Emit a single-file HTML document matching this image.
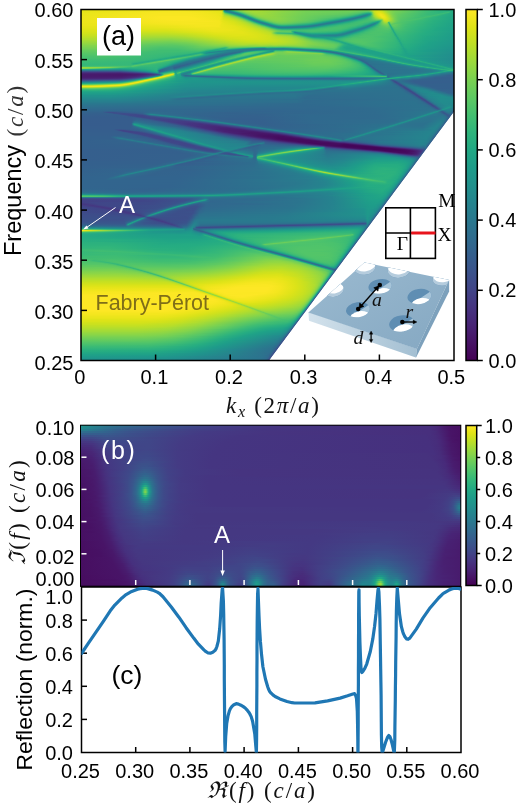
<!DOCTYPE html>
<html><head><meta charset="utf-8"><title>figure</title>
<style>
html,body{margin:0;padding:0;background:#fff}
#fig{position:relative;width:520px;height:810px;overflow:hidden;background:#fff}
#ha{position:absolute;left:81px;top:10px;width:373px;height:351px;clip-path:polygon(0 0,373px 0,373px 101.5px,187.5px 351px,0 351px);background:#2d708e}
#hb{position:absolute;left:80px;top:425px;width:381px;height:162px;background:#3b1c6e}
.r{height:2px}
#ha .r{height:1px}
svg{position:absolute;left:0;top:0}
svg{font-family:"Liberation Sans",sans-serif}
.tk{font-size:20px;fill:#000}
.ar{font-family:"Liberation Sans",sans-serif}
.hs{font-family:"Liberation Sans","DejaVu Sans",sans-serif}
.mi{font-family:"Liberation Serif","DejaVu Serif",serif;font-style:italic}
.mr{font-style:normal}
.sr{font-family:"Liberation Serif","DejaVu Serif",serif}
</style></head><body>
<div id="fig">
<div id="ha">
<div class="r" style="background:linear-gradient(90deg,#e5e419 0.5px,#e7e419 28.5px,#f4e61e 77.5px,#f4e61e 103.5px,#efe51c 120.5px,#e2e418 140.5px,#d2e21b 141.5px,#70cf57 142.5px,#20a486 143.5px,#25848e 144.5px,#25848e 145.5px,#1f968b 147.5px,#1fa088 148.5px,#2db27d 150.5px,#63cb5f 154.5px,#8ed645 159.5px,#a0da39 163.5px,#a8db34 167.5px,#a8db34 176.5px,#8bd646 201.5px,#77d153 224.5px,#70cf57 243.5px,#73d056 273.5px,#6ccd5a 284.5px,#6ece58 286.5px,#7ad151 288.5px,#b0dd2f 291.5px,#c5e021 293.5px,#d0e11c 297.5px,#c2df23 300.5px,#93d741 306.5px,#77d153 313.5px,#40bd72 344.5px,#32b67a 354.5px,#22a884 372.5px)"></div>
<div class="r" style="background:linear-gradient(90deg,#e7e419 0.5px,#f6e620 96.5px,#f1e51d 119.5px,#e5e419 139.5px,#e2e418 140.5px,#bade28 141.5px,#5ec962 142.5px,#1fa287 143.5px,#26828e 145.5px,#277f8e 148.5px,#25848e 149.5px,#1fa187 152.5px,#25ac82 153.5px,#5ac864 157.5px,#73d056 159.5px,#8bd646 162.5px,#9bd93c 165.5px,#a5db36 171.5px,#a2da37 180.5px,#77d153 220.5px,#6ece58 240.5px,#6ece58 270.5px,#58c765 287.5px,#5ec962 288.5px,#6ccd5a 289.5px,#b8de29 292.5px,#c8e020 293.5px,#d8e219 296.5px,#d8e219 298.5px,#d0e11c 300.5px,#90d743 307.5px,#77d153 312.5px,#3dbc74 345.5px,#2db27d 359.5px,#2fb47c 368.5px,#25ab82 370.5px,#22a884 372.5px)"></div>
<div class="r" style="background:linear-gradient(90deg,#e7e419 0.5px,#f6e620 70.5px,#f6e620 108.5px,#efe51c 127.5px,#e5e419 140.5px,#cae11f 141.5px,#8ed645 142.5px,#4ac16d 143.5px,#2ab07f 144.5px,#1f9e89 146.5px,#238a8d 148.5px,#277e8e 150.5px,#27808e 152.5px,#1e9b8a 155.5px,#2ab07f 157.5px,#58c765 160.5px,#70cf57 162.5px,#8bd646 165.5px,#a0da39 171.5px,#a2da37 175.5px,#73d056 224.5px,#67cc5c 269.5px,#58c765 278.5px,#37b878 287.5px,#40bd72 289.5px,#5ac864 290.5px,#a8db34 292.5px,#c5e021 293.5px,#d8e219 295.5px,#e2e418 298.5px,#d5e21a 301.5px,#b8de29 304.5px,#a0da39 306.5px,#86d549 309.5px,#70cf57 314.5px,#35b779 350.5px,#2eb37c 361.5px,#3aba76 366.5px,#38b977 367.5px,#28ae80 369.5px,#22a884 372.5px)"></div>
<div class="r" style="background:linear-gradient(90deg,#eae51a 0.5px,#f8e621 80.5px,#f6e620 114.5px,#eae51a 137.5px,#e2e418 140.5px,#c8e020 141.5px,#addc30 142.5px,#7fd34e 143.5px,#63cb5f 144.5px,#2ab07f 148.5px,#1e9c89 150.5px,#24878e 152.5px,#287d8e 154.5px,#26828e 156.5px,#20a386 159.5px,#29af7f 160.5px,#48c16e 162.5px,#67cc5c 164.5px,#7cd250 166.5px,#90d743 169.5px,#9dd93b 174.5px,#9bd93c 184.5px,#86d549 201.5px,#70cf57 225.5px,#63cb5f 265.5px,#52c569 275.5px,#46c06f 278.5px,#21a685 285.5px,#1f9f88 288.5px,#24aa83 289.5px,#40bd72 290.5px,#73d056 291.5px,#a2da37 292.5px,#cde11d 294.5px,#e5e419 297.5px,#eae51a 299.5px,#d8e219 302.5px,#cde11d 303.5px,#8bd646 309.5px,#7cd250 311.5px,#6ece58 314.5px,#5cc863 323.5px,#38b977 347.5px,#32b67a 357.5px,#3bbb75 362.5px,#29af7f 367.5px,#22a785 372.5px)"></div>
<div class="r" style="background:linear-gradient(90deg,#eae51a 0.5px,#f8e621 71.5px,#f8e621 109.5px,#efe51c 133.5px,#eae51a 139.5px,#e5e419 140.5px,#d2e21b 141.5px,#9bd93c 143.5px,#6ece58 147.5px,#52c569 149.5px,#27ad81 152.5px,#1fa287 153.5px,#25838e 156.5px,#287d8e 158.5px,#26828e 159.5px,#1f988b 161.5px,#21a585 162.5px,#3dbc74 164.5px,#69cd5b 167.5px,#7fd34e 169.5px,#90d743 172.5px,#9bd93c 177.5px,#9bd93c 181.5px,#70cf57 223.5px,#63cb5f 254.5px,#5ac864 265.5px,#4ec36b 271.5px,#3aba76 276.5px,#28ae80 279.5px,#1e9d89 282.5px,#218f8d 284.5px,#23888e 286.5px,#21918c 288.5px,#1fa188 289.5px,#37b878 290.5px,#67cc5c 291.5px,#95d840 292.5px,#b5de2b 293.5px,#c8e020 294.5px,#dde318 296.5px,#e5e419 297.5px,#efe51c 299.5px,#efe51c 300.5px,#e5e419 302.5px,#d0e11c 304.5px,#9bd93c 308.5px,#86d549 310.5px,#77d153 312.5px,#69cd5b 315.5px,#5ec962 320.5px,#38b977 346.5px,#35b779 352.5px,#3dbc74 357.5px,#2ab07f 363.5px,#22a785 372.5px)"></div>
<div class="r" style="background:linear-gradient(90deg,#eae51a 0.5px,#f8e621 66.5px,#f8e621 114.5px,#efe51c 135.5px,#e7e419 140.5px,#dae319 141.5px,#b2dd2d 143.5px,#95d840 147.5px,#69cd5b 151.5px,#2cb17e 155.5px,#1e9b8a 157.5px,#25838e 159.5px,#287d8e 161.5px,#25838e 162.5px,#1e9c89 164.5px,#24aa83 165.5px,#32b67a 166.5px,#63cb5f 169.5px,#86d549 173.5px,#95d840 178.5px,#93d741 190.5px,#70cf57 221.5px,#56c667 261.5px,#4ac16d 267.5px,#3bbb75 271.5px,#28ae80 275.5px,#1e9d89 278.5px,#26818e 282.5px,#287d8e 284.5px,#23898e 286.5px,#1fa088 288.5px,#29af7f 289.5px,#4ac16d 290.5px,#67cc5c 291.5px,#8bd646 292.5px,#a8db34 293.5px,#bade28 294.5px,#d5e21a 296.5px,#dfe318 297.5px,#efe51c 299.5px,#f1e51d 300.5px,#e5e419 303.5px,#cde11d 305.5px,#81d34d 311.5px,#65cb5e 316.5px,#5ac864 321.5px,#3dbc74 341.5px,#3aba76 349.5px,#3fbc73 353.5px,#29af7f 361.5px,#22a785 372.5px)"></div>
<div class="r" style="background:linear-gradient(90deg,#ece51b 0.5px,#fbe723 82.5px,#fbe723 105.5px,#efe51c 137.5px,#e7e419 140.5px,#dae319 141.5px,#cae11f 142.5px,#c2df23 143.5px,#b0dd2f 147.5px,#9bd93c 150.5px,#7cd250 153.5px,#50c46a 156.5px,#2eb37c 158.5px,#22a785 159.5px,#1f9a8a 160.5px,#26828e 162.5px,#287c8e 163.5px,#277e8e 164.5px,#1fa287 167.5px,#29af7f 168.5px,#3aba76 169.5px,#67cc5c 172.5px,#81d34d 175.5px,#8ed645 178.5px,#93d741 181.5px,#93d741 188.5px,#70cf57 220.5px,#52c569 257.5px,#3bbb75 266.5px,#26ad81 271.5px,#1e9d89 274.5px,#29798e 280.5px,#25848e 283.5px,#1f968b 285.5px,#23a983 287.5px,#3aba76 289.5px,#86d549 292.5px,#9dd93b 293.5px,#addc30 294.5px,#d5e21a 297.5px,#efe51c 300.5px,#f1e51d 301.5px,#eae51a 303.5px,#d5e21a 305.5px,#90d743 310.5px,#7cd250 312.5px,#60ca60 317.5px,#3dbc74 341.5px,#42be71 348.5px,#35b779 352.5px,#2ab07f 358.5px,#21a685 372.5px)"></div>
<div class="r" style="background:linear-gradient(90deg,#ece51b 0.5px,#fbe723 80.5px,#fbe723 110.5px,#efe51c 139.5px,#dfe318 141.5px,#cde11d 143.5px,#c0df25 147.5px,#9dd93b 153.5px,#7fd34e 156.5px,#60ca60 158.5px,#3dbc74 160.5px,#20a386 162.5px,#23888e 164.5px,#287c8e 166.5px,#26828e 167.5px,#1e9b8a 169.5px,#22a884 170.5px,#50c46a 173.5px,#69cd5b 175.5px,#7ad151 177.5px,#84d44b 179.5px,#8ed645 183.5px,#90d743 186.5px,#8ed645 194.5px,#77d153 212.5px,#56c667 247.5px,#42be71 258.5px,#32b67a 263.5px,#20a486 268.5px,#20938c 271.5px,#29798e 276.5px,#27808e 279.5px,#1f9e89 283.5px,#25ac82 285.5px,#3dbc74 288.5px,#54c568 290.5px,#9bd93c 294.5px,#c2df23 297.5px,#d8e219 299.5px,#e5e419 300.5px,#ece51b 301.5px,#ece51b 302.5px,#e5e419 304.5px,#d0e11c 306.5px,#95d840 310.5px,#7fd34e 312.5px,#6ece58 314.5px,#5cc863 318.5px,#40bd72 337.5px,#44bf70 343.5px,#32b67a 350.5px,#2ab07f 356.5px,#21a685 372.5px)"></div>
<div class="r" style="background:linear-gradient(90deg,#ece51b 0.5px,#fbe723 81.5px,#fbe723 113.5px,#efe51c 139.5px,#d8e219 142.5px,#c5e021 149.5px,#a5db36 155.5px,#89d548 158.5px,#5cc863 161.5px,#25ac82 164.5px,#1f9e89 165.5px,#26828e 167.5px,#287c8e 168.5px,#277e8e 169.5px,#24868e 170.5px,#1fa188 172.5px,#27ad81 173.5px,#46c06f 175.5px,#60ca60 177.5px,#77d153 180.5px,#81d34d 182.5px,#89d548 185.5px,#8ed645 190.5px,#89d548 199.5px,#69cd5b 224.5px,#63cb5f 232.5px,#44bf70 251.5px,#2fb47c 258.5px,#20a386 263.5px,#1f948c 266.5px,#25838e 269.5px,#29798e 272.5px,#297b8e 274.5px,#1fa188 280.5px,#2fb47c 284.5px,#4cc26c 289.5px,#60ca60 291.5px,#86d549 294.5px,#c8e020 300.5px,#e2e418 302.5px,#e5e419 303.5px,#e2e418 304.5px,#c5e021 307.5px,#77d153 313.5px,#63cb5f 316.5px,#58c765 319.5px,#44bf70 333.5px,#46c06f 339.5px,#38b977 344.5px,#2fb47c 350.5px,#21a585 372.5px)"></div>
<div class="r" style="background:linear-gradient(90deg,#ece51b 0.5px,#fbe723 87.5px,#fbe723 114.5px,#f1e51d 138.5px,#dde318 142.5px,#d8e219 145.5px,#c5e021 152.5px,#b2dd2d 156.5px,#9bd93c 159.5px,#86d549 161.5px,#67cc5c 163.5px,#2db27d 166.5px,#21a585 167.5px,#1f968b 168.5px,#277f8e 170.5px,#287c8e 171.5px,#228b8d 173.5px,#21a585 175.5px,#38b977 177.5px,#54c568 179.5px,#67cc5c 181.5px,#73d056 183.5px,#84d44b 187.5px,#89d548 190.5px,#89d548 197.5px,#65cb5e 227.5px,#56c667 237.5px,#42be71 246.5px,#2db27d 253.5px,#1fa187 258.5px,#25838e 264.5px,#2a788e 268.5px,#26818e 271.5px,#1fa088 276.5px,#31b57b 281.5px,#50c46a 290.5px,#75d054 295.5px,#84d44b 299.5px,#8bd646 300.5px,#a2da37 301.5px,#cde11d 302.5px,#dae319 303.5px,#dae319 304.5px,#d0e11c 306.5px,#77d153 313.5px,#63cb5f 316.5px,#56c667 319.5px,#48c16e 328.5px,#48c16e 334.5px,#2fb47c 348.5px,#21a585 372.5px)"></div>
<div class="r" style="background:linear-gradient(90deg,#ece51b 0.5px,#fbe723 97.5px,#f4e61e 137.5px,#dfe318 143.5px,#d8e219 148.5px,#c8e020 154.5px,#b0dd2f 159.5px,#a0da39 161.5px,#7fd34e 164.5px,#5ec962 166.5px,#25ac82 169.5px,#1f9e89 170.5px,#25838e 172.5px,#287d8e 173.5px,#25838e 175.5px,#1e9b8a 177.5px,#21a685 178.5px,#37b878 180.5px,#69cd5b 185.5px,#7ad151 188.5px,#86d549 194.5px,#84d44b 200.5px,#63cb5f 225.5px,#44bf70 240.5px,#31b57b 246.5px,#1fa287 252.5px,#277e8e 260.5px,#2a788e 263.5px,#25848e 267.5px,#1e9b8a 271.5px,#2fb47c 277.5px,#3fbc73 282.5px,#50c46a 294.5px,#50c46a 295.5px,#42be71 298.5px,#48c16e 299.5px,#60ca60 300.5px,#b5de2b 302.5px,#cae11f 303.5px,#cde11d 305.5px,#c0df25 307.5px,#8bd646 311.5px,#77d153 313.5px,#5cc863 317.5px,#52c569 320.5px,#4ac16d 329.5px,#3bbb75 337.5px,#2ab07f 352.5px,#20a486 372.5px)"></div>
<div class="r" style="background:linear-gradient(90deg,#ece51b 0.5px,#f8e621 82.5px,#f8e621 127.5px,#f4e61e 138.5px,#e7e419 141.5px,#d5e21a 152.5px,#c2df23 158.5px,#b2dd2d 161.5px,#9bd93c 164.5px,#67cc5c 168.5px,#2eb37c 171.5px,#21a685 172.5px,#1f988b 173.5px,#26818e 175.5px,#287c8e 176.5px,#277e8e 177.5px,#25848e 178.5px,#20a386 181.5px,#26ad81 182.5px,#48c16e 185.5px,#6ccd5a 189.5px,#7ad151 192.5px,#81d34d 197.5px,#7ad151 205.5px,#5ac864 226.5px,#50c46a 231.5px,#3dbc74 237.5px,#1fa287 246.5px,#26828e 253.5px,#2a788e 257.5px,#287d8e 260.5px,#1f9f88 267.5px,#2fb47c 273.5px,#3bbb75 277.5px,#44bf70 282.5px,#44bf70 286.5px,#3dbc74 290.5px,#32b67a 293.5px,#21a685 296.5px,#20a486 297.5px,#26ad81 298.5px,#3fbc73 299.5px,#65cb5e 300.5px,#a2da37 302.5px,#b5de2b 303.5px,#bddf26 304.5px,#bddf26 305.5px,#bade28 306.5px,#9dd93b 307.5px,#8ed645 308.5px,#90d743 309.5px,#86d549 311.5px,#65cb5e 315.5px,#52c569 319.5px,#3bbb75 335.5px,#29af7f 352.5px,#20a486 372.5px)"></div>
<div class="r" style="background:linear-gradient(90deg,#ece51b 0.5px,#f8e621 95.5px,#f4e61e 138.5px,#e7e419 142.5px,#d8e219 153.5px,#c8e020 159.5px,#b5de2b 163.5px,#a0da39 166.5px,#7cd250 169.5px,#5ec962 171.5px,#28ae80 174.5px,#1fa187 175.5px,#27808e 178.5px,#287d8e 180.5px,#238a8d 182.5px,#1f9f88 184.5px,#2cb17e 186.5px,#44bf70 188.5px,#67cc5c 192.5px,#73d056 195.5px,#77d153 198.5px,#73d056 204.5px,#56c667 222.5px,#4cc26c 227.5px,#3bbb75 232.5px,#26ad81 238.5px,#1e9c89 242.5px,#25838e 247.5px,#2a788e 251.5px,#277f8e 255.5px,#1e9b8a 261.5px,#25ab82 265.5px,#3dbc74 274.5px,#44bf70 281.5px,#3aba76 287.5px,#31b57b 289.5px,#21a585 292.5px,#21918c 295.5px,#1f948c 296.5px,#20a386 297.5px,#31b57b 298.5px,#69cd5b 300.5px,#a0da39 303.5px,#a8db34 304.5px,#a8db34 305.5px,#8ed645 306.5px,#3fbc73 307.5px,#4cc26c 308.5px,#77d153 309.5px,#81d34d 310.5px,#58c765 316.5px,#4ec36b 320.5px,#2fb47c 344.5px,#25ac82 357.5px,#20a386 372.5px)"></div>
<div class="r" style="background:linear-gradient(90deg,#eae51a 0.5px,#f8e621 110.5px,#f4e61e 138.5px,#eae51a 141.5px,#dde318 152.5px,#cde11d 159.5px,#c0df25 163.5px,#aadc32 167.5px,#90d743 170.5px,#58c765 174.5px,#34b679 176.5px,#26ad81 177.5px,#1fa188 178.5px,#26828e 181.5px,#287c8e 183.5px,#24868e 185.5px,#1e9b8a 187.5px,#21a585 188.5px,#48c16e 192.5px,#58c765 194.5px,#65cb5e 197.5px,#69cd5b 200.5px,#5cc863 210.5px,#31b57b 229.5px,#1fa287 235.5px,#25858e 241.5px,#29798e 245.5px,#277f8e 249.5px,#1fa187 257.5px,#2eb37c 263.5px,#3dbc74 270.5px,#42be71 279.5px,#31b57b 286.5px,#1e9d89 290.5px,#25848e 293.5px,#24878e 294.5px,#1fa287 296.5px,#2db27d 297.5px,#56c667 299.5px,#75d054 301.5px,#8bd646 303.5px,#90d743 304.5px,#8ed645 305.5px,#7ad151 306.5px,#4ec36b 307.5px,#2db27d 308.5px,#5ec962 309.5px,#70cf57 310.5px,#5cc863 313.5px,#40bd72 328.5px,#29af7f 350.5px,#1fa287 372.5px)"></div>
<div class="r" style="background:linear-gradient(90deg,#eae51a 0.5px,#ece51b 48.5px,#f6e620 105.5px,#f4e61e 138.5px,#ece51b 140.5px,#dde318 154.5px,#cde11d 161.5px,#bddf26 166.5px,#addc30 169.5px,#95d840 172.5px,#73d056 175.5px,#44bf70 178.5px,#28ae80 180.5px,#1f9a8a 182.5px,#277f8e 185.5px,#277e8e 187.5px,#1fa188 191.5px,#3bbb75 195.5px,#48c16e 197.5px,#50c46a 200.5px,#4cc26c 205.5px,#25ac82 225.5px,#1e9d89 230.5px,#29798e 239.5px,#297b8e 242.5px,#1f958b 248.5px,#1fa187 251.5px,#2ab07f 256.5px,#3dbc74 264.5px,#42be71 275.5px,#38b977 281.5px,#26ad81 285.5px,#1fa088 287.5px,#25848e 290.5px,#27808e 291.5px,#26828e 292.5px,#1f9a8a 294.5px,#22a785 295.5px,#4cc26c 298.5px,#63cb5f 300.5px,#73d056 302.5px,#7fd34e 305.5px,#77d153 306.5px,#60ca60 307.5px,#2eb37c 308.5px,#3dbc74 309.5px,#5ec962 310.5px,#63cb5f 314.5px,#4ac16d 321.5px,#40bd72 326.5px,#28ae80 350.5px,#1fa287 372.5px)"></div>
<div class="r" style="background:linear-gradient(90deg,#eae51a 0.5px,#ece51b 73.5px,#f6e620 126.5px,#f4e61e 137.5px,#ece51b 140.5px,#e5e419 151.5px,#d0e11c 163.5px,#b0dd2f 171.5px,#93d741 175.5px,#73d056 178.5px,#2eb37c 183.5px,#23a983 184.5px,#1f9e89 185.5px,#27808e 188.5px,#287c8e 190.5px,#1f978b 194.5px,#24aa83 197.5px,#2cb17e 200.5px,#2cb17e 203.5px,#25ab82 210.5px,#1e9c89 219.5px,#21908d 225.5px,#297b8e 232.5px,#29798e 235.5px,#25858e 239.5px,#1e9d89 244.5px,#2ab07f 250.5px,#3dbc74 258.5px,#44bf70 268.5px,#3fbc73 274.5px,#2fb47c 280.5px,#1fa187 284.5px,#24878e 287.5px,#277e8e 289.5px,#26828e 290.5px,#20a386 293.5px,#3bbb75 296.5px,#5cc863 300.5px,#6ccd5a 303.5px,#70cf57 305.5px,#70cf57 306.5px,#65cb5e 307.5px,#28ae80 309.5px,#4cc26c 310.5px,#60ca60 311.5px,#65cb5e 312.5px,#48c16e 321.5px,#3bbb75 329.5px,#26ad81 352.5px,#1fa187 372.5px)"></div>
<div class="r" style="background:linear-gradient(90deg,#e7e419 0.5px,#e7e419 56.5px,#ece51b 94.5px,#f4e61e 116.5px,#f4e61e 137.5px,#ece51b 140.5px,#e5e419 153.5px,#dde318 159.5px,#c8e020 168.5px,#a8db34 175.5px,#89d548 179.5px,#5ec962 183.5px,#31b57b 186.5px,#1fa188 188.5px,#25838e 191.5px,#287c8e 193.5px,#218f8d 199.5px,#20928c 202.5px,#297a8e 224.5px,#297a8e 228.5px,#26828e 232.5px,#1e9d89 238.5px,#32b67a 247.5px,#44bf70 258.5px,#44bf70 266.5px,#3aba76 273.5px,#25ac82 279.5px,#1f9a8a 282.5px,#277e8e 286.5px,#25858e 288.5px,#20a386 291.5px,#3dbc74 295.5px,#50c46a 298.5px,#67cc5c 305.5px,#67cc5c 306.5px,#60ca60 307.5px,#50c46a 308.5px,#2cb17e 309.5px,#31b57b 310.5px,#52c569 311.5px,#5cc863 312.5px,#5ec962 313.5px,#40bd72 324.5px,#32b67a 336.5px,#25ac82 352.5px,#1fa187 372.5px)"></div>
<div class="r" style="background:linear-gradient(90deg,#e5e419 0.5px,#e5e419 70.5px,#f1e51d 117.5px,#f1e51d 138.5px,#ece51b 140.5px,#e5e419 155.5px,#d8e219 164.5px,#cde11d 168.5px,#c2df23 172.5px,#a8db34 178.5px,#84d44b 183.5px,#60ca60 186.5px,#29af7f 190.5px,#1e9d89 192.5px,#25858e 195.5px,#277e8e 197.5px,#287d8e 214.5px,#24868e 223.5px,#1fa287 233.5px,#31b57b 240.5px,#3fbc73 247.5px,#46c06f 254.5px,#46c06f 261.5px,#3fbc73 267.5px,#2cb17e 274.5px,#1fa088 278.5px,#25838e 282.5px,#277e8e 284.5px,#26828e 285.5px,#1e9d89 288.5px,#26ad81 290.5px,#3aba76 293.5px,#52c569 299.5px,#5ec962 306.5px,#54c568 308.5px,#25ab82 310.5px,#3dbc74 311.5px,#50c46a 312.5px,#56c667 314.5px,#40bd72 323.5px,#2fb47c 338.5px,#22a884 357.5px,#1fa188 372.5px)"></div>
<div class="r" style="background:linear-gradient(90deg,#e2e418 0.5px,#e2e418 84.5px,#f1e51d 131.5px,#e5e419 156.5px,#dde318 163.5px,#cde11d 171.5px,#b2dd2d 179.5px,#9dd93b 183.5px,#70cf57 188.5px,#32b67a 193.5px,#23a983 195.5px,#1e9d89 197.5px,#20938c 200.5px,#20938c 207.5px,#21a685 225.5px,#3dbc74 239.5px,#46c06f 247.5px,#46c06f 259.5px,#3dbc74 265.5px,#2db27d 270.5px,#1fa287 274.5px,#25838e 279.5px,#277e8e 281.5px,#24868e 283.5px,#1fa188 286.5px,#3aba76 291.5px,#48c16e 295.5px,#56c667 304.5px,#52c569 308.5px,#46c06f 309.5px,#2ab07f 310.5px,#29af7f 311.5px,#42be71 312.5px,#4ec36b 313.5px,#50c46a 315.5px,#3bbb75 325.5px,#2eb37c 338.5px,#22a884 356.5px,#1fa088 372.5px)"></div>
<div class="r" style="background:linear-gradient(90deg,#dfe318 0.5px,#dde318 83.5px,#efe51c 131.5px,#eae51a 150.5px,#dde318 165.5px,#cde11d 173.5px,#bade28 180.5px,#9dd93b 186.5px,#73d056 191.5px,#4ac16d 195.5px,#3bbb75 197.5px,#2eb37c 201.5px,#2db27d 215.5px,#48c16e 244.5px,#42be71 259.5px,#2fb47c 266.5px,#1fa088 271.5px,#26828e 276.5px,#277e8e 278.5px,#25858e 280.5px,#1f9e89 283.5px,#2ab07f 286.5px,#3aba76 289.5px,#4cc26c 296.5px,#52c569 306.5px,#48c16e 309.5px,#23a983 311.5px,#44bf70 313.5px,#4ac16d 314.5px,#4ac16d 316.5px,#3bbb75 324.5px,#2ab07f 341.5px,#22a884 355.5px,#1fa088 372.5px)"></div>
<div class="r" style="background:linear-gradient(90deg,#dde318 0.5px,#d8e219 85.5px,#ece51b 132.5px,#eae51a 150.5px,#dde318 167.5px,#cde11d 176.5px,#c0df25 181.5px,#b2dd2d 185.5px,#9dd93b 189.5px,#70cf57 194.5px,#5ec962 197.5px,#54c568 200.5px,#50c46a 209.5px,#42be71 211.5px,#3bbb75 214.5px,#46c06f 230.5px,#46c06f 245.5px,#40bd72 255.5px,#38b977 260.5px,#26ad81 265.5px,#20a386 267.5px,#25858e 272.5px,#277e8e 274.5px,#25858e 277.5px,#1e9c89 280.5px,#32b67a 285.5px,#42be71 289.5px,#4ec36b 297.5px,#4cc26c 308.5px,#3fbc73 310.5px,#2ab07f 311.5px,#25ab82 312.5px,#38b977 313.5px,#42be71 314.5px,#46c06f 316.5px,#2ab07f 340.5px,#22a884 354.5px,#1f9f88 372.5px)"></div>
<div class="r" style="background:linear-gradient(90deg,#dae319 0.5px,#d8e219 27.5px,#d2e21b 43.5px,#d2e21b 89.5px,#eae51a 134.5px,#e5e419 160.5px,#d2e21b 176.5px,#bade28 186.5px,#a5db36 190.5px,#77d153 194.5px,#69cd5b 196.5px,#60ca60 200.5px,#5ec962 209.5px,#2eb37c 211.5px,#22a884 213.5px,#31b57b 217.5px,#42be71 226.5px,#44bf70 231.5px,#37b878 255.5px,#2eb37c 259.5px,#1fa187 264.5px,#25838e 269.5px,#277e8e 271.5px,#26828e 273.5px,#1fa187 278.5px,#26ad81 280.5px,#3aba76 284.5px,#48c16e 290.5px,#4cc26c 294.5px,#4cc26c 305.5px,#46c06f 309.5px,#35b779 311.5px,#22a884 312.5px,#3bbb75 314.5px,#42be71 316.5px,#25ac82 346.5px,#1f9f88 372.5px)"></div>
<div class="r" style="background:linear-gradient(90deg,#d5e21a 0.5px,#d5e21a 18.5px,#cae11f 56.5px,#cae11f 85.5px,#dde318 118.5px,#e7e419 136.5px,#e5e419 161.5px,#d8e219 175.5px,#bddf26 188.5px,#b8de29 189.5px,#9bd93c 191.5px,#70cf57 193.5px,#52c569 195.5px,#4ac16d 197.5px,#50c46a 209.5px,#48c16e 210.5px,#35b779 211.5px,#25ab82 212.5px,#1f948c 213.5px,#24868e 214.5px,#1fa188 219.5px,#26ad81 222.5px,#31b57b 226.5px,#37b878 230.5px,#32b67a 243.5px,#25ac82 257.5px,#1f998a 262.5px,#26828e 266.5px,#277e8e 268.5px,#25838e 270.5px,#1e9d89 274.5px,#2fb47c 279.5px,#44bf70 285.5px,#4cc26c 292.5px,#48c16e 307.5px,#3aba76 311.5px,#2ab07f 312.5px,#22a884 313.5px,#32b67a 314.5px,#3bbb75 315.5px,#3fbc73 317.5px,#25ac82 345.5px,#1f9e89 372.5px)"></div>
<div class="r" style="background:linear-gradient(90deg,#d2e21b 0.5px,#d0e11c 21.5px,#c2df23 65.5px,#c2df23 83.5px,#cae11f 103.5px,#e2e418 134.5px,#e5e419 161.5px,#d8e219 177.5px,#c0df25 189.5px,#b5de2b 190.5px,#63cb5f 194.5px,#4ac16d 196.5px,#40bd72 200.5px,#32b67a 210.5px,#29af7f 212.5px,#1fa187 214.5px,#20928c 216.5px,#238a8d 219.5px,#1f968b 223.5px,#23a983 230.5px,#22a884 243.5px,#1f9f88 255.5px,#25848e 262.5px,#277f8e 265.5px,#25858e 267.5px,#20a486 272.5px,#2fb47c 276.5px,#3dbc74 280.5px,#4cc26c 289.5px,#4cc26c 299.5px,#40bd72 310.5px,#34b679 312.5px,#24aa83 313.5px,#27ad81 314.5px,#35b779 315.5px,#3aba76 316.5px,#3bbb75 319.5px,#26ad81 342.5px,#1e9d89 372.5px)"></div>
<div class="r" style="background:linear-gradient(90deg,#cde11d 0.5px,#c8e020 30.5px,#bade28 68.5px,#bade28 84.5px,#c2df23 102.5px,#dde318 133.5px,#e2e418 146.5px,#e2e418 166.5px,#d8e219 179.5px,#c5e021 189.5px,#c0df25 190.5px,#89d548 195.5px,#7fd34e 197.5px,#6ece58 204.5px,#58c765 210.5px,#2db27d 215.5px,#1fa088 218.5px,#1f948c 220.5px,#228c8d 223.5px,#1f968b 231.5px,#1f968b 236.5px,#228d8d 252.5px,#277f8e 261.5px,#26828e 263.5px,#1fa088 268.5px,#31b57b 273.5px,#48c16e 282.5px,#4cc26c 298.5px,#40bd72 310.5px,#38b977 312.5px,#21a685 314.5px,#2db27d 315.5px,#35b779 316.5px,#3aba76 318.5px,#26ad81 341.5px,#1e9d89 372.5px)"></div>
<div class="r" style="background:linear-gradient(90deg,#c8e020 0.5px,#c8e020 12.5px,#b2dd2d 66.5px,#b2dd2d 88.5px,#bade28 103.5px,#d8e219 134.5px,#e2e418 156.5px,#dfe318 170.5px,#d5e21a 183.5px,#cae11f 189.5px,#c2df23 191.5px,#a8db34 195.5px,#84d44b 210.5px,#4ac16d 217.5px,#24aa83 221.5px,#1e9c89 223.5px,#228c8d 226.5px,#23898e 228.5px,#228d8d 235.5px,#26828e 244.5px,#27808e 256.5px,#24878e 260.5px,#1fa187 265.5px,#32b67a 270.5px,#3fbc73 274.5px,#4cc26c 283.5px,#4cc26c 295.5px,#42be71 308.5px,#3aba76 312.5px,#25ac82 314.5px,#24aa83 315.5px,#2fb47c 316.5px,#35b779 317.5px,#37b878 320.5px,#25ac82 341.5px,#1e9c89 372.5px)"></div>
<div class="r" style="background:linear-gradient(90deg,#c2df23 0.5px,#c0df25 20.5px,#aadc32 64.5px,#a8db34 80.5px,#addc30 98.5px,#cde11d 129.5px,#dde318 150.5px,#dde318 174.5px,#cde11d 189.5px,#b2dd2d 197.5px,#a0da39 208.5px,#84d44b 214.5px,#54c568 220.5px,#25ac82 225.5px,#1f9f88 227.5px,#1f948c 229.5px,#228d8d 232.5px,#21908d 240.5px,#228c8d 254.5px,#1fa187 261.5px,#2fb47c 266.5px,#3dbc74 270.5px,#4cc26c 279.5px,#4ec36b 288.5px,#3fbc73 310.5px,#37b878 313.5px,#22a785 315.5px,#31b57b 317.5px,#35b779 318.5px,#35b779 320.5px,#22a884 346.5px,#1e9c89 372.5px)"></div>
<div class="r" style="background:linear-gradient(90deg,#bddf26 0.5px,#b8de29 24.5px,#a2da37 62.5px,#a0da39 90.5px,#a8db34 104.5px,#c5e021 129.5px,#d8e219 149.5px,#dde318 172.5px,#d0e11c 188.5px,#b8de29 198.5px,#b0dd2f 205.5px,#a5db36 210.5px,#8bd646 216.5px,#63cb5f 222.5px,#2fb47c 228.5px,#25ab82 230.5px,#1fa187 233.5px,#1f998a 242.5px,#1fa187 255.5px,#22a884 258.5px,#32b67a 263.5px,#4ac16d 272.5px,#4ec36b 289.5px,#3fbc73 309.5px,#37b878 313.5px,#32b67a 314.5px,#22a884 316.5px,#32b67a 318.5px,#34b679 321.5px,#22a884 345.5px,#1e9b8a 372.5px)"></div>
<div class="r" style="background:linear-gradient(90deg,#b5de2b 0.5px,#b0dd2f 27.5px,#95d840 73.5px,#95d840 90.5px,#a2da37 108.5px,#d0e11c 144.5px,#dae319 162.5px,#d8e219 178.5px,#d0e11c 188.5px,#c0df25 196.5px,#b2dd2d 207.5px,#a8db34 211.5px,#9bd93c 215.5px,#7fd34e 221.5px,#3bbb75 231.5px,#32b67a 234.5px,#27ad81 241.5px,#1fa188 246.5px,#1fa287 249.5px,#26ad81 254.5px,#46c06f 266.5px,#4ec36b 271.5px,#50c46a 285.5px,#48c16e 299.5px,#3aba76 312.5px,#35b779 314.5px,#23a983 316.5px,#25ab82 317.5px,#2eb37c 318.5px,#32b67a 321.5px,#22a884 344.5px,#1e9b8a 372.5px)"></div>
<div class="r" style="background:linear-gradient(90deg,#b0dd2f 0.5px,#b0dd2f 11.5px,#a8db34 29.5px,#90d743 62.5px,#8bd646 89.5px,#95d840 105.5px,#d0e11c 150.5px,#cde11d 151.5px,#d8e219 166.5px,#d5e21a 179.5px,#cde11d 190.5px,#b0dd2f 210.5px,#8bd646 221.5px,#4ec36b 233.5px,#3bbb75 242.5px,#20a486 250.5px,#22a785 253.5px,#32b67a 257.5px,#4ac16d 265.5px,#52c569 273.5px,#52c569 281.5px,#48c16e 299.5px,#3dbc74 309.5px,#35b779 314.5px,#31b57b 315.5px,#22a785 317.5px,#2eb37c 319.5px,#31b57b 321.5px,#22a884 343.5px,#1f9a8a 372.5px)"></div>
<div class="r" style="background:linear-gradient(90deg,#a8db34 0.5px,#a8db34 15.5px,#86d549 64.5px,#81d34d 89.5px,#8bd646 105.5px,#aadc32 129.5px,#c8e020 148.5px,#d2e21b 164.5px,#d0e11c 183.5px,#cae11f 192.5px,#addc30 212.5px,#9bd93c 219.5px,#65cb5e 232.5px,#48c16e 245.5px,#3dbc74 248.5px,#24aa83 253.5px,#21a685 255.5px,#26ad81 257.5px,#34b679 259.5px,#48c16e 264.5px,#50c46a 268.5px,#54c568 276.5px,#4cc26c 293.5px,#3aba76 311.5px,#32b67a 315.5px,#23a983 318.5px,#2eb37c 320.5px,#2eb37c 323.5px,#21a685 344.5px,#1f998a 372.5px)"></div>
<div class="r" style="background:linear-gradient(90deg,#a0da39 0.5px,#a0da39 18.5px,#7cd250 66.5px,#77d153 88.5px,#86d549 109.5px,#c5e021 154.5px,#cde11d 169.5px,#cde11d 180.5px,#c8e020 192.5px,#b8de29 206.5px,#a8db34 215.5px,#95d840 222.5px,#6ece58 233.5px,#4ec36b 249.5px,#3bbb75 253.5px,#28ae80 256.5px,#22a884 258.5px,#27ad81 260.5px,#3aba76 263.5px,#4ac16d 267.5px,#52c569 271.5px,#54c568 278.5px,#4ec36b 290.5px,#37b878 313.5px,#2fb47c 316.5px,#22a785 318.5px,#2cb17e 320.5px,#2db27d 323.5px,#20a486 346.5px,#1f998a 372.5px)"></div>
<div class="r" style="background:linear-gradient(90deg,#9bd93c 0.5px,#98d83e 20.5px,#77d153 60.5px,#6ece58 87.5px,#77d153 104.5px,#c0df25 156.5px,#bddf26 157.5px,#c5e021 166.5px,#c5e021 185.5px,#b8de29 204.5px,#a8db34 215.5px,#77d153 233.5px,#54c568 252.5px,#3bbb75 257.5px,#25ac82 260.5px,#22a884 261.5px,#25ac82 263.5px,#3dbc74 267.5px,#4ac16d 270.5px,#52c569 275.5px,#52c569 284.5px,#32b67a 315.5px,#2db27d 317.5px,#22a785 319.5px,#2cb17e 321.5px,#2cb17e 324.5px,#1fa287 348.5px,#1f988b 372.5px)"></div>
<div class="r" style="background:linear-gradient(90deg,#93d741 0.5px,#93d741 16.5px,#8ed645 26.5px,#69cd5b 70.5px,#67cc5c 93.5px,#75d054 110.5px,#9bd93c 135.5px,#a2da37 143.5px,#b0dd2f 150.5px,#bade28 163.5px,#bddf26 185.5px,#b8de29 189.5px,#b8de29 197.5px,#a8db34 213.5px,#7ad151 234.5px,#60ca60 251.5px,#4ec36b 257.5px,#26ad81 262.5px,#21a585 264.5px,#28ae80 267.5px,#3bbb75 270.5px,#48c16e 273.5px,#52c569 282.5px,#34b679 314.5px,#2eb37c 317.5px,#22a884 319.5px,#2ab07f 322.5px,#2ab07f 324.5px,#1fa287 347.5px,#1f988b 372.5px)"></div>
<div class="r" style="background:linear-gradient(90deg,#8bd646 0.5px,#8ed645 11.5px,#89d548 23.5px,#65cb5e 65.5px,#5ec962 90.5px,#69cd5b 107.5px,#8bd646 131.5px,#95d840 143.5px,#a2da37 148.5px,#b0dd2f 162.5px,#a8db34 174.5px,#b2dd2d 179.5px,#addc30 187.5px,#b0dd2f 194.5px,#9bd93c 218.5px,#84d44b 227.5px,#65cb5e 252.5px,#5ac864 256.5px,#46c06f 259.5px,#28ae80 263.5px,#20a486 267.5px,#24aa83 269.5px,#44bf70 276.5px,#4ec36b 281.5px,#4ec36b 287.5px,#32b67a 314.5px,#2cb17e 318.5px,#21a685 320.5px,#25ac82 321.5px,#29af7f 324.5px,#1fa287 345.5px,#1f978b 372.5px)"></div>
<div class="r" style="background:linear-gradient(90deg,#84d44b 0.5px,#84d44b 20.5px,#5cc863 68.5px,#58c765 94.5px,#67cc5c 112.5px,#73d056 119.5px,#84d44b 135.5px,#86d549 143.5px,#93d741 147.5px,#98d83e 152.5px,#9dd93b 163.5px,#95d840 168.5px,#95d840 172.5px,#a0da39 180.5px,#95d840 190.5px,#9dd93b 193.5px,#95d840 199.5px,#90d743 219.5px,#89d548 224.5px,#77d153 230.5px,#75d054 239.5px,#67cc5c 252.5px,#5ec962 255.5px,#52c569 257.5px,#2ab07f 262.5px,#22a884 266.5px,#20a386 270.5px,#23a983 272.5px,#31b57b 275.5px,#42be71 280.5px,#4ac16d 284.5px,#4ac16d 290.5px,#2fb47c 316.5px,#2cb17e 318.5px,#22a884 320.5px,#28ae80 323.5px,#26ad81 327.5px,#1fa287 344.5px,#1f968b 372.5px)"></div>
<div class="r" style="background:linear-gradient(90deg,#7fd34e 0.5px,#7fd34e 17.5px,#73d056 35.5px,#5ec962 56.5px,#52c569 78.5px,#54c568 98.5px,#60ca60 112.5px,#6ccd5a 120.5px,#77d153 136.5px,#75d054 140.5px,#6ccd5a 144.5px,#84d44b 149.5px,#84d44b 155.5px,#7cd250 164.5px,#7fd34e 173.5px,#7ad151 186.5px,#73d056 189.5px,#77d153 194.5px,#70cf57 199.5px,#70cf57 205.5px,#7cd250 217.5px,#7cd250 224.5px,#6ccd5a 234.5px,#6ccd5a 244.5px,#63cb5f 253.5px,#5ac864 255.5px,#29af7f 261.5px,#21a685 265.5px,#21a685 275.5px,#32b67a 279.5px,#40bd72 284.5px,#46c06f 288.5px,#46c06f 293.5px,#31b57b 314.5px,#29af7f 319.5px,#21a585 321.5px,#26ad81 323.5px,#26ad81 326.5px,#1fa287 342.5px,#1f958b 372.5px)"></div>
<div class="r" style="background:linear-gradient(90deg,#77d153 0.5px,#7ad151 12.5px,#73d056 27.5px,#5cc863 52.5px,#4cc26c 79.5px,#50c46a 101.5px,#63cb5f 118.5px,#67cc5c 132.5px,#65cb5e 135.5px,#5ac864 139.5px,#40bd72 143.5px,#3fbc73 144.5px,#44bf70 145.5px,#63cb5f 147.5px,#6ccd5a 148.5px,#6ccd5a 149.5px,#52c569 164.5px,#35b779 175.5px,#2cb17e 181.5px,#2cb17e 183.5px,#3fbc73 186.5px,#35b779 191.5px,#38b977 194.5px,#32b67a 202.5px,#3dbc74 209.5px,#5ec962 223.5px,#63cb5f 251.5px,#5ec962 253.5px,#52c569 255.5px,#2eb37c 259.5px,#21a685 263.5px,#1fa287 277.5px,#25ac82 280.5px,#37b878 284.5px,#40bd72 290.5px,#40bd72 297.5px,#31b57b 313.5px,#29af7f 319.5px,#21a685 322.5px,#25ab82 323.5px,#25ac82 326.5px,#1fa287 341.5px,#1f948c 372.5px)"></div>
<div class="r" style="background:linear-gradient(90deg,#73d056 0.5px,#73d056 16.5px,#6ccd5a 29.5px,#58c765 51.5px,#48c16e 77.5px,#48c16e 95.5px,#5cc863 120.5px,#58c765 129.5px,#54c568 132.5px,#3dbc74 137.5px,#2fb47c 139.5px,#28ae80 141.5px,#2cb17e 143.5px,#44bf70 146.5px,#48c16e 148.5px,#26ad81 158.5px,#1fa287 162.5px,#23888e 170.5px,#29798e 181.5px,#29798e 183.5px,#228d8d 186.5px,#25838e 202.5px,#1fa287 217.5px,#2eb37c 225.5px,#3dbc74 234.5px,#56c667 244.5px,#54c568 253.5px,#2ab07f 259.5px,#20a486 265.5px,#1fa287 281.5px,#22a884 283.5px,#32b67a 286.5px,#3dbc74 297.5px,#2ab07f 318.5px,#20a486 322.5px,#25ab82 326.5px,#1fa287 339.5px,#20938c 372.5px)"></div>
<div class="r" style="background:linear-gradient(90deg,#6ccd5a 0.5px,#6ccd5a 16.5px,#67cc5c 26.5px,#44bf70 77.5px,#44bf70 96.5px,#54c568 118.5px,#52c569 122.5px,#3dbc74 130.5px,#28ae80 134.5px,#23a983 136.5px,#28ae80 140.5px,#26ad81 144.5px,#1e9d89 150.5px,#26828e 158.5px,#29798e 166.5px,#2a768e 176.5px,#2a778e 181.5px,#27808e 187.5px,#24868e 205.5px,#29798e 215.5px,#287c8e 220.5px,#1f948c 232.5px,#21a685 239.5px,#28ae80 242.5px,#48c16e 248.5px,#4cc26c 250.5px,#4cc26c 252.5px,#2ab07f 259.5px,#21a685 266.5px,#1fa187 284.5px,#23a983 287.5px,#32b67a 290.5px,#38b977 300.5px,#2ab07f 317.5px,#20a486 323.5px,#23a983 327.5px,#1e9d89 347.5px,#20928c 372.5px)"></div>
<div class="r" style="background:linear-gradient(90deg,#65cb5e 0.5px,#63cb5f 24.5px,#40bd72 79.5px,#40bd72 96.5px,#4cc26c 118.5px,#48c16e 120.5px,#3fbc73 123.5px,#26ad81 128.5px,#20a486 131.5px,#21a585 135.5px,#1fa088 138.5px,#25838e 146.5px,#297a8e 159.5px,#287d8e 169.5px,#25848e 172.5px,#1f958b 176.5px,#20a486 181.5px,#21a685 184.5px,#1e9c89 189.5px,#1f948c 191.5px,#1f9a8a 192.5px,#22a785 193.5px,#2db27d 194.5px,#2fb47c 195.5px,#2eb37c 200.5px,#38b977 205.5px,#22a884 213.5px,#1e9b8a 217.5px,#277f8e 226.5px,#2b748e 233.5px,#2a788e 238.5px,#26828e 242.5px,#1e9b8a 247.5px,#24aa83 250.5px,#32b67a 252.5px,#3fbc73 255.5px,#3fbc73 256.5px,#2eb37c 260.5px,#27ad81 264.5px,#1fa287 277.5px,#20a486 290.5px,#34b679 295.5px,#32b67a 306.5px,#26ad81 320.5px,#20a386 323.5px,#22a884 327.5px,#1e9d89 345.5px,#20928c 372.5px)"></div>
<div class="r" style="background:linear-gradient(90deg,#60ca60 0.5px,#5ec962 23.5px,#40bd72 71.5px,#40bd72 117.5px,#31b57b 121.5px,#1fa287 125.5px,#1e9c89 130.5px,#25848e 137.5px,#25858e 144.5px,#2c738e 158.5px,#2b758e 160.5px,#228d8d 165.5px,#1fa188 168.5px,#31b57b 172.5px,#3dbc74 175.5px,#3dbc74 180.5px,#2fb47c 183.5px,#20a486 186.5px,#1f968b 189.5px,#1e9c89 191.5px,#27ad81 192.5px,#46c06f 193.5px,#5ec962 194.5px,#60ca60 201.5px,#84d44b 206.5px,#73d056 211.5px,#5ac864 216.5px,#40bd72 221.5px,#22a884 229.5px,#1f968b 234.5px,#2e6d8e 245.5px,#2c728e 248.5px,#1e9d89 255.5px,#32b67a 259.5px,#3aba76 261.5px,#2ab07f 267.5px,#1fa287 281.5px,#1fa187 293.5px,#25ac82 296.5px,#2fb47c 298.5px,#32b67a 300.5px,#26ad81 319.5px,#1fa287 324.5px,#22a785 327.5px,#1e9d89 344.5px,#21918c 372.5px)"></div>
<div class="r" style="background:linear-gradient(90deg,#5cc863 0.5px,#58c765 27.5px,#40bd72 65.5px,#3aba76 111.5px,#2fb47c 116.5px,#25ac82 119.5px,#1e9d89 124.5px,#24878e 128.5px,#25858e 130.5px,#21908d 137.5px,#277e8e 144.5px,#2e6e8e 154.5px,#2a768e 158.5px,#1fa187 162.5px,#25ac82 163.5px,#37b878 165.5px,#46c06f 167.5px,#52c569 170.5px,#52c569 172.5px,#46c06f 177.5px,#22a785 182.5px,#1e9c89 185.5px,#21a685 187.5px,#28ae80 188.5px,#52c569 191.5px,#6ece58 193.5px,#77d153 194.5px,#73d056 201.5px,#89d548 207.5px,#8bd646 218.5px,#7cd250 224.5px,#48c16e 235.5px,#2db27d 240.5px,#1f9e89 243.5px,#29798e 249.5px,#2e6e8e 252.5px,#2a768e 255.5px,#1e9d89 261.5px,#2fb47c 264.5px,#3bbb75 267.5px,#25ac82 276.5px,#1fa287 285.5px,#1fa187 297.5px,#21a685 299.5px,#31b57b 303.5px,#31b57b 304.5px,#25ac82 319.5px,#20a386 324.5px,#21a685 327.5px,#21908d 372.5px)"></div>
<div class="r" style="background:linear-gradient(90deg,#56c667 0.5px,#56c667 21.5px,#40bd72 60.5px,#37b878 104.5px,#32b67a 108.5px,#24aa83 114.5px,#27ad81 117.5px,#2fb47c 119.5px,#28ae80 121.5px,#1f9e89 123.5px,#20928c 125.5px,#1f998a 130.5px,#1f978b 132.5px,#287c8e 140.5px,#2f6b8e 150.5px,#2b758e 153.5px,#25838e 155.5px,#1fa088 158.5px,#22a884 159.5px,#38b977 161.5px,#4ec36b 163.5px,#54c568 164.5px,#5ac864 166.5px,#58c765 169.5px,#46c06f 173.5px,#38b977 175.5px,#22a785 178.5px,#1fa187 179.5px,#1fa188 181.5px,#29af7f 183.5px,#5ac864 186.5px,#86d549 189.5px,#98d83e 191.5px,#95d840 192.5px,#7ad151 195.5px,#73d056 197.5px,#73d056 201.5px,#7ad151 205.5px,#7ad151 219.5px,#84d44b 233.5px,#7fd34e 238.5px,#77d153 240.5px,#6ccd5a 241.5px,#48c16e 243.5px,#2fb47c 245.5px,#1f9e89 250.5px,#2a788e 255.5px,#2e6f8e 257.5px,#2b758e 260.5px,#218e8d 264.5px,#1fa188 267.5px,#2cb17e 269.5px,#3fbc73 272.5px,#25ac82 281.5px,#1fa287 289.5px,#1fa187 301.5px,#2fb47c 308.5px,#27ad81 312.5px,#24aa83 320.5px,#1fa187 325.5px,#20a486 329.5px,#218f8d 372.5px)"></div>
<div class="r" style="background:linear-gradient(90deg,#52c569 0.5px,#52c569 21.5px,#40bd72 55.5px,#37b878 93.5px,#32b67a 100.5px,#22a884 109.5px,#28ae80 112.5px,#3fbc73 117.5px,#42be71 119.5px,#22a884 123.5px,#1fa088 125.5px,#1f958b 129.5px,#297a8e 136.5px,#30698e 145.5px,#2a788e 149.5px,#1fa287 154.5px,#2cb17e 156.5px,#52c569 161.5px,#5ac864 163.5px,#56c667 166.5px,#46c06f 169.5px,#25ac82 173.5px,#1fa187 175.5px,#1fa188 176.5px,#26ad81 178.5px,#32b67a 179.5px,#6ccd5a 182.5px,#8bd646 184.5px,#a2da37 186.5px,#a8db34 187.5px,#9bd93c 190.5px,#75d054 194.5px,#6ece58 197.5px,#73d056 206.5px,#70cf57 233.5px,#75d054 240.5px,#69cd5b 242.5px,#4ec36b 245.5px,#35b779 251.5px,#1fa188 255.5px,#2b748e 260.5px,#2e6d8e 262.5px,#26818e 267.5px,#1fa088 272.5px,#31b57b 275.5px,#3dbc74 277.5px,#3fbc73 279.5px,#2fb47c 282.5px,#25ac82 286.5px,#1fa287 293.5px,#1fa187 305.5px,#2db27d 312.5px,#27ad81 314.5px,#1fa287 325.5px,#20a386 330.5px,#218e8d 372.5px)"></div>
<div class="r" style="background:linear-gradient(90deg,#4ec36b 0.5px,#4ec36b 21.5px,#3bbb75 64.5px,#37b878 86.5px,#32b67a 93.5px,#22a785 103.5px,#29af7f 107.5px,#46c06f 114.5px,#38b977 117.5px,#25ac82 120.5px,#1fa287 122.5px,#26828e 129.5px,#31688e 141.5px,#297a8e 145.5px,#1fa287 150.5px,#32b67a 153.5px,#46c06f 156.5px,#54c568 160.5px,#54c568 162.5px,#42be71 165.5px,#24aa83 169.5px,#20a386 170.5px,#1fa187 172.5px,#2ab07f 174.5px,#63cb5f 177.5px,#98d83e 180.5px,#aadc32 182.5px,#aadc32 183.5px,#86d549 188.5px,#7cd250 190.5px,#67cc5c 197.5px,#6ccd5a 206.5px,#69cd5b 222.5px,#6ece58 239.5px,#5cc863 245.5px,#56c667 249.5px,#46c06f 253.5px,#2cb17e 257.5px,#1e9b8a 260.5px,#2c728e 264.5px,#2f6c8e 266.5px,#26828e 272.5px,#1e9b8a 277.5px,#1fa287 278.5px,#2db27d 280.5px,#3dbc74 283.5px,#3bbb75 285.5px,#28ae80 289.5px,#1fa287 296.5px,#1f9e89 302.5px,#1fa187 310.5px,#2cb17e 316.5px,#22a884 320.5px,#1fa188 326.5px,#218e8d 372.5px)"></div>
<div class="r" style="background:linear-gradient(90deg,#4ac16d 0.5px,#4ac16d 22.5px,#37b878 79.5px,#32b67a 87.5px,#22a884 96.5px,#25ac82 100.5px,#48c16e 108.5px,#48c16e 109.5px,#27ad81 115.5px,#1e9d89 119.5px,#25848e 124.5px,#31678e 136.5px,#2b748e 140.5px,#23888e 143.5px,#1fa187 146.5px,#2eb37c 149.5px,#48c16e 154.5px,#50c46a 156.5px,#50c46a 158.5px,#37b878 162.5px,#22a785 165.5px,#1fa187 168.5px,#2db27d 170.5px,#69cd5b 173.5px,#93d741 175.5px,#a2da37 176.5px,#addc30 178.5px,#86d549 183.5px,#77d153 186.5px,#67cc5c 194.5px,#6ccd5a 241.5px,#56c667 254.5px,#3bbb75 259.5px,#2db27d 261.5px,#1fa287 263.5px,#2a768e 267.5px,#2f6b8e 269.5px,#26828e 277.5px,#1f9e89 283.5px,#21a585 284.5px,#31b57b 286.5px,#3dbc74 288.5px,#3dbc74 290.5px,#27ad81 294.5px,#1fa187 300.5px,#1f9e89 312.5px,#1fa287 315.5px,#2ab07f 320.5px,#22a884 323.5px,#1fa188 327.5px,#228d8d 372.5px)"></div>
<div class="r" style="background:linear-gradient(90deg,#48c16e 0.5px,#46c06f 23.5px,#37b878 74.5px,#32b67a 81.5px,#22a884 92.5px,#29af7f 95.5px,#48c16e 101.5px,#4cc26c 103.5px,#4ac16d 104.5px,#2cb17e 109.5px,#1fa287 113.5px,#287c8e 122.5px,#31678e 132.5px,#2a788e 137.5px,#1e9d89 142.5px,#2fb47c 146.5px,#46c06f 151.5px,#4ec36b 154.5px,#25ab82 160.5px,#1fa188 162.5px,#1fa187 164.5px,#23a983 165.5px,#2eb37c 166.5px,#40bd72 167.5px,#84d44b 170.5px,#a5db36 172.5px,#addc30 173.5px,#aadc32 174.5px,#86d549 178.5px,#75d054 181.5px,#67cc5c 190.5px,#67cc5c 222.5px,#6ece58 239.5px,#65cb5e 251.5px,#58c765 257.5px,#46c06f 261.5px,#31b57b 264.5px,#27ad81 265.5px,#1e9c89 267.5px,#2e6f8e 271.5px,#30698e 273.5px,#2a788e 277.5px,#25848e 283.5px,#1e9d89 288.5px,#26ad81 290.5px,#3dbc74 293.5px,#3bbb75 295.5px,#28ae80 298.5px,#1fa287 303.5px,#1e9b8a 311.5px,#1e9d89 316.5px,#20a486 320.5px,#2ab07f 324.5px,#20a386 328.5px,#228d8d 372.5px)"></div>
<div class="r" style="background:linear-gradient(90deg,#44bf70 0.5px,#44bf70 17.5px,#37b878 68.5px,#32b67a 75.5px,#23a983 85.5px,#2fb47c 90.5px,#52c569 96.5px,#52c569 98.5px,#32b67a 103.5px,#20a486 108.5px,#1f948c 112.5px,#297b8e 118.5px,#31668e 128.5px,#306a8e 130.5px,#297b8e 134.5px,#1f968b 138.5px,#20a486 140.5px,#2eb37c 143.5px,#46c06f 148.5px,#4cc26c 150.5px,#23a983 156.5px,#1f9f88 158.5px,#1fa188 160.5px,#23a983 161.5px,#2eb37c 162.5px,#3fbc73 163.5px,#98d83e 167.5px,#a8db34 168.5px,#addc30 169.5px,#a8db34 170.5px,#7fd34e 174.5px,#70cf57 177.5px,#67cc5c 182.5px,#63cb5f 197.5px,#6ece58 242.5px,#65cb5e 254.5px,#58c765 260.5px,#3aba76 266.5px,#28ae80 268.5px,#1e9d89 270.5px,#29798e 273.5px,#31688e 275.5px,#2b748e 279.5px,#26828e 287.5px,#1e9c89 293.5px,#25ac82 295.5px,#37b878 297.5px,#3bbb75 298.5px,#37b878 300.5px,#25ac82 303.5px,#1fa187 307.5px,#1f9a8a 314.5px,#1e9b8a 319.5px,#20a386 324.5px,#26ad81 326.5px,#29af7f 328.5px,#1fa187 333.5px,#1e9b8a 340.5px,#228c8d 372.5px)"></div>
<div class="r" style="background:linear-gradient(90deg,#40bd72 0.5px,#3fbc73 30.5px,#37b878 63.5px,#32b67a 69.5px,#23a983 79.5px,#2db27d 83.5px,#52c569 89.5px,#58c765 92.5px,#2fb47c 99.5px,#20a386 104.5px,#1e9b8a 106.5px,#287d8e 113.5px,#31668e 124.5px,#30698e 126.5px,#26828e 132.5px,#1f9f88 136.5px,#27ad81 139.5px,#46c06f 145.5px,#44bf70 147.5px,#26ad81 151.5px,#1e9d89 155.5px,#22a884 157.5px,#2cb17e 158.5px,#52c569 160.5px,#98d83e 163.5px,#a8db34 164.5px,#addc30 165.5px,#a8db34 166.5px,#8ed645 168.5px,#75d054 171.5px,#69cd5b 174.5px,#63cb5f 179.5px,#65cb5e 213.5px,#6ece58 232.5px,#6ece58 245.5px,#65cb5e 256.5px,#52c569 264.5px,#3fbc73 268.5px,#2fb47c 270.5px,#1e9c89 273.5px,#2f6c8e 277.5px,#31668e 278.5px,#2c718e 281.5px,#25848e 293.5px,#1e9c89 298.5px,#1fa287 299.5px,#2eb37c 301.5px,#3aba76 303.5px,#26ad81 307.5px,#1fa187 311.5px,#1f998a 322.5px,#1fa287 328.5px,#2ab07f 332.5px,#20a486 335.5px,#1f9a8a 342.5px,#228c8d 372.5px)"></div>
<div class="r" style="background:linear-gradient(90deg,#3fbc73 0.5px,#3aba76 50.5px,#32b67a 63.5px,#23a983 73.5px,#2eb37c 77.5px,#38b977 79.5px,#56c667 83.5px,#5ec962 85.5px,#58c765 87.5px,#35b779 93.5px,#26ad81 98.5px,#1fa187 101.5px,#27808e 108.5px,#32658e 121.5px,#25848e 129.5px,#1f9e89 133.5px,#2ab07f 137.5px,#44bf70 142.5px,#42be71 143.5px,#25ac82 147.5px,#1e9c89 151.5px,#21a685 153.5px,#2ab07f 154.5px,#3aba76 155.5px,#95d840 159.5px,#a5db36 160.5px,#aadc32 161.5px,#a5db36 162.5px,#8bd646 164.5px,#70cf57 167.5px,#60ca60 174.5px,#65cb5e 219.5px,#6ccd5a 227.5px,#6ece58 246.5px,#67cc5c 256.5px,#5ac864 263.5px,#46c06f 269.5px,#2db27d 273.5px,#20a486 275.5px,#1f9a8a 276.5px,#2c718e 279.5px,#31678e 280.5px,#31668e 281.5px,#2b748e 285.5px,#25848e 298.5px,#1e9c89 303.5px,#20a386 304.5px,#2fb47c 306.5px,#38b977 307.5px,#3aba76 308.5px,#28ae80 311.5px,#1fa287 314.5px,#1f988b 322.5px,#1f998a 328.5px,#1fa287 332.5px,#25ac82 334.5px,#29af7f 336.5px,#1fa088 340.5px,#1f978b 347.5px,#228c8d 372.5px)"></div>
<div class="r" style="background:linear-gradient(90deg,#3bbb75 0.5px,#38b977 49.5px,#32b67a 57.5px,#23a983 67.5px,#2eb37c 71.5px,#58c765 77.5px,#5ec962 80.5px,#42be71 85.5px,#25ac82 95.5px,#20a486 97.5px,#1e9c89 99.5px,#287c8e 105.5px,#32648e 117.5px,#287d8e 124.5px,#1f9e89 130.5px,#29af7f 134.5px,#40bd72 138.5px,#42be71 139.5px,#2ab07f 142.5px,#21a585 144.5px,#1e9b8a 147.5px,#21a585 149.5px,#28ae80 150.5px,#4ac16d 152.5px,#90d743 155.5px,#a2da37 156.5px,#aadc32 157.5px,#a5db36 158.5px,#7cd250 161.5px,#6ece58 163.5px,#65cb5e 165.5px,#5ec962 169.5px,#5cc863 180.5px,#6ece58 245.5px,#65cb5e 258.5px,#5ac864 264.5px,#4ec36b 269.5px,#2fb47c 275.5px,#1f9f88 278.5px,#20928c 279.5px,#2c718e 281.5px,#31678e 282.5px,#2b748e 287.5px,#29798e 297.5px,#25838e 303.5px,#20a486 309.5px,#32b67a 311.5px,#38b977 312.5px,#32b67a 314.5px,#25ac82 316.5px,#20a386 318.5px,#1f988b 325.5px,#1f968b 330.5px,#1f9a8a 333.5px,#1fa187 336.5px,#28ae80 339.5px,#28ae80 340.5px,#1fa287 343.5px,#1f998a 347.5px,#228d8d 372.5px)"></div>
<div class="r" style="background:linear-gradient(90deg,#3aba76 0.5px,#37b878 49.5px,#23a983 61.5px,#2eb37c 65.5px,#38b977 67.5px,#56c667 71.5px,#5ec962 73.5px,#3dbc74 81.5px,#32b67a 87.5px,#20a486 94.5px,#1f958b 97.5px,#29798e 102.5px,#2c738e 104.5px,#2e6f8e 109.5px,#32648e 113.5px,#297b8e 120.5px,#1f948c 125.5px,#1fa287 128.5px,#29af7f 131.5px,#40bd72 135.5px,#29af7f 138.5px,#20a486 140.5px,#1f9a8a 143.5px,#1e9d89 144.5px,#26ad81 146.5px,#34b679 147.5px,#73d056 150.5px,#a0da39 152.5px,#a8db34 153.5px,#a5db36 154.5px,#7cd250 157.5px,#69cd5b 159.5px,#5ac864 166.5px,#63cb5f 219.5px,#6ccd5a 233.5px,#6ccd5a 249.5px,#5ac864 265.5px,#4ec36b 270.5px,#31b57b 277.5px,#23a983 279.5px,#1f9e89 280.5px,#2e6d8e 283.5px,#32658e 284.5px,#2c738e 288.5px,#2a788e 301.5px,#25838e 308.5px,#1e9d89 313.5px,#21a585 314.5px,#32b67a 316.5px,#38b977 317.5px,#37b878 318.5px,#29af7f 320.5px,#1fa287 323.5px,#1f978b 330.5px,#1e9b8a 338.5px,#28ae80 344.5px,#1fa187 347.5px,#1f988b 351.5px,#228d8d 372.5px)"></div>
<div class="r" style="background:linear-gradient(90deg,#37b878 0.5px,#37b878 49.5px,#26ad81 52.5px,#23a983 55.5px,#2db27d 59.5px,#5ac864 66.5px,#5ac864 68.5px,#3bbb75 76.5px,#2eb37c 86.5px,#26ad81 89.5px,#1f9f88 92.5px,#1f948c 94.5px,#2a768e 99.5px,#32648e 109.5px,#2c728e 114.5px,#1e9b8a 123.5px,#25ab82 127.5px,#3dbc74 131.5px,#3bbb75 132.5px,#24aa83 135.5px,#1e9b8a 138.5px,#1f9a8a 140.5px,#1fa188 141.5px,#23a983 142.5px,#2eb37c 143.5px,#56c667 145.5px,#9bd93c 148.5px,#a8db34 149.5px,#a5db36 150.5px,#7ad151 153.5px,#67cc5c 155.5px,#5ec962 157.5px,#58c765 161.5px,#56c667 171.5px,#60ca60 213.5px,#69cd5b 232.5px,#69cd5b 249.5px,#63cb5f 258.5px,#52c569 269.5px,#48c16e 273.5px,#2eb37c 279.5px,#20a486 281.5px,#1f988b 282.5px,#31678e 285.5px,#32648e 286.5px,#2d718e 288.5px,#2a788e 307.5px,#25838e 313.5px,#1e9d89 318.5px,#21a585 319.5px,#31b57b 321.5px,#37b878 322.5px,#2fb47c 324.5px,#1fa287 328.5px,#1f978b 336.5px,#1f988b 340.5px,#1e9d89 343.5px,#27ad81 347.5px,#27ad81 348.5px,#1fa188 351.5px,#1f978b 355.5px,#218e8d 372.5px)"></div>
<div class="r" style="background:linear-gradient(90deg,#35b779 0.5px,#37b878 49.5px,#2cb17e 52.5px,#58c765 61.5px,#3bbb75 70.5px,#2db27d 84.5px,#25ab82 87.5px,#1e9c89 90.5px,#25848e 93.5px,#2b748e 96.5px,#33628d 106.5px,#24868e 115.5px,#1fa187 121.5px,#26ad81 124.5px,#3bbb75 128.5px,#21a585 132.5px,#1f988b 135.5px,#1f9e89 137.5px,#29af7f 139.5px,#38b977 140.5px,#95d840 144.5px,#a5db36 145.5px,#a5db36 146.5px,#9bd93c 147.5px,#6ece58 150.5px,#60ca60 152.5px,#56c667 156.5px,#54c568 171.5px,#60ca60 221.5px,#67cc5c 232.5px,#67cc5c 249.5px,#63cb5f 256.5px,#52c569 269.5px,#3aba76 278.5px,#29af7f 281.5px,#1f9f88 283.5px,#20928c 284.5px,#2e6d8e 286.5px,#33628d 287.5px,#2c718e 290.5px,#2a768e 309.5px,#26828e 318.5px,#1e9c89 323.5px,#25ac82 325.5px,#2eb37c 326.5px,#37b878 328.5px,#23a983 332.5px,#1fa187 334.5px,#1f988b 343.5px,#1e9d89 347.5px,#27ad81 351.5px,#27ad81 352.5px,#1fa188 355.5px,#1f988b 358.5px,#21908d 372.5px)"></div>
<div class="r" style="background:linear-gradient(90deg,#37b878 0.5px,#3aba76 49.5px,#3dbc74 50.5px,#54c568 53.5px,#58c765 55.5px,#42be71 60.5px,#3bbb75 63.5px,#2fb47c 80.5px,#26ad81 84.5px,#1f9f88 87.5px,#2c718e 93.5px,#34618d 102.5px,#2c728e 107.5px,#1e9b8a 116.5px,#27ad81 121.5px,#3aba76 124.5px,#37b878 125.5px,#25ac82 127.5px,#21a685 128.5px,#1f988b 131.5px,#1e9b8a 133.5px,#25ac82 135.5px,#32b67a 136.5px,#44bf70 137.5px,#8ed645 140.5px,#a0da39 141.5px,#a5db36 142.5px,#9bd93c 143.5px,#6ece58 146.5px,#5ec962 148.5px,#52c569 154.5px,#52c569 171.5px,#5ec962 221.5px,#65cb5e 234.5px,#63cb5f 251.5px,#52c569 268.5px,#3fbc73 277.5px,#2ab07f 282.5px,#1fa287 284.5px,#1f978b 285.5px,#32648e 288.5px,#33638d 289.5px,#2d718e 291.5px,#2c738e 292.5px,#2a768e 314.5px,#277e8e 321.5px,#24868e 324.5px,#1fa088 329.5px,#34b679 333.5px,#31b57b 335.5px,#23a983 338.5px,#1e9d89 342.5px,#1e9b8a 350.5px,#27ad81 356.5px,#1fa188 359.5px,#1f968b 363.5px,#21918c 372.5px)"></div>
<div class="r" style="background:linear-gradient(90deg,#4ac16d 0.5px,#48c16e 8.5px,#50c46a 32.5px,#4ac16d 43.5px,#42be71 49.5px,#50c46a 51.5px,#50c46a 52.5px,#40bd72 55.5px,#35b779 59.5px,#32b67a 75.5px,#28ae80 81.5px,#1fa188 84.5px,#1f988b 85.5px,#277f8e 88.5px,#2f6c8e 92.5px,#34608d 98.5px,#2a788e 105.5px,#1e9d89 113.5px,#25ac82 117.5px,#37b878 120.5px,#38b977 121.5px,#22a785 124.5px,#1f988b 127.5px,#1f988b 129.5px,#1f9f88 130.5px,#22a785 131.5px,#3bbb75 133.5px,#69cd5b 135.5px,#86d549 136.5px,#9bd93c 137.5px,#a5db36 138.5px,#9dd93b 139.5px,#6ece58 142.5px,#5cc863 144.5px,#50c46a 149.5px,#4ec36b 162.5px,#60ca60 228.5px,#60ca60 250.5px,#56c667 263.5px,#48c16e 272.5px,#3aba76 279.5px,#25ab82 284.5px,#1e9b8a 286.5px,#31688e 289.5px,#34608d 290.5px,#2d708e 292.5px,#2c738e 294.5px,#2a788e 323.5px,#26818e 328.5px,#1e9c89 335.5px,#2cb17e 338.5px,#32b67a 340.5px,#23a983 344.5px,#1e9c89 349.5px,#1e9d89 354.5px,#28ae80 360.5px,#1fa188 363.5px,#1f9a8a 365.5px,#20938c 372.5px)"></div>
<div class="r" style="background:linear-gradient(90deg,#9dd93b 0.5px,#95d840 4.5px,#89d548 19.5px,#7ad151 28.5px,#48c16e 39.5px,#32b67a 49.5px,#35b779 52.5px,#2eb37c 57.5px,#2fb47c 76.5px,#23a983 80.5px,#1e9b8a 82.5px,#2b758e 86.5px,#2c718e 87.5px,#2d718e 91.5px,#34608d 93.5px,#355f8d 94.5px,#33638d 96.5px,#23898e 105.5px,#1e9b8a 109.5px,#27ad81 114.5px,#38b977 117.5px,#1fa287 121.5px,#1f968b 124.5px,#1f968b 125.5px,#20a386 127.5px,#26ad81 128.5px,#34b679 129.5px,#5ec962 131.5px,#93d741 133.5px,#a0da39 134.5px,#a0da39 135.5px,#6ece58 138.5px,#56c667 141.5px,#4cc26c 148.5px,#5ec962 244.5px,#58c765 257.5px,#46c06f 272.5px,#31b57b 282.5px,#25ab82 285.5px,#1e9d89 287.5px,#21918c 288.5px,#34608d 291.5px,#33628d 292.5px,#2e6d8e 293.5px,#2c738e 295.5px,#2b748e 320.5px,#27808e 334.5px,#1f9f88 342.5px,#31b57b 346.5px,#1fa287 353.5px,#1f9f88 358.5px,#28ae80 364.5px,#1fa187 367.5px,#1f998a 372.5px)"></div>
<div class="r" style="background:linear-gradient(90deg,#93d741 0.5px,#69cd5b 12.5px,#42be71 23.5px,#22a884 38.5px,#2fb47c 75.5px,#1f9e89 79.5px,#1f948c 80.5px,#2c718e 83.5px,#2f6c8e 85.5px,#2b748e 90.5px,#2c728e 91.5px,#32648e 93.5px,#238a8d 101.5px,#1e9c89 106.5px,#25ac82 110.5px,#37b878 113.5px,#35b779 114.5px,#20a386 117.5px,#1f958b 120.5px,#1f988b 122.5px,#1fa088 123.5px,#22a884 124.5px,#3dbc74 126.5px,#52c569 127.5px,#86d549 129.5px,#9bd93c 130.5px,#a0da39 131.5px,#95d840 132.5px,#70cf57 134.5px,#5cc863 136.5px,#52c569 138.5px,#4cc26c 141.5px,#4ac16d 164.5px,#54c568 194.5px,#5ac864 243.5px,#52c569 259.5px,#3dbc74 275.5px,#32b67a 281.5px,#21a585 287.5px,#1f948c 289.5px,#33638d 292.5px,#34608d 293.5px,#2d718e 295.5px,#2c738e 296.5px,#2a788e 335.5px,#26828e 342.5px,#1e9b8a 348.5px,#2fb47c 353.5px,#23a983 358.5px,#1fa287 362.5px,#2ab07f 367.5px,#20a486 372.5px)"></div>
<div class="r" style="background:linear-gradient(90deg,#20a486 0.5px,#218e8d 38.5px,#1fa287 54.5px,#2eb37c 75.5px,#28ae80 76.5px,#1f9e89 77.5px,#2a788e 79.5px,#31678e 81.5px,#2e6e8e 86.5px,#287d8e 91.5px,#2b758e 93.5px,#21908d 98.5px,#1e9d89 102.5px,#25ac82 107.5px,#34b679 109.5px,#35b779 110.5px,#20a486 113.5px,#1f958b 116.5px,#20938c 117.5px,#1e9b8a 119.5px,#26ad81 121.5px,#35b779 122.5px,#48c16e 123.5px,#93d741 126.5px,#9dd93b 127.5px,#98d83e 128.5px,#67cc5c 131.5px,#54c568 133.5px,#48c16e 139.5px,#46c06f 156.5px,#50c46a 188.5px,#56c667 240.5px,#4ec36b 258.5px,#3dbc74 273.5px,#2fb47c 282.5px,#23a983 287.5px,#1f968b 290.5px,#238a8d 291.5px,#31688e 293.5px,#355f8d 294.5px,#2e6d8e 296.5px,#2b748e 298.5px,#2c738e 323.5px,#29798e 342.5px,#25848e 349.5px,#1e9b8a 355.5px,#21a685 357.5px,#2eb37c 360.5px,#26ad81 367.5px,#34b679 372.5px)"></div>
<div class="r" style="background:linear-gradient(90deg,#2a768e 0.5px,#2c718e 38.5px,#1e9c89 60.5px,#21a685 67.5px,#2cb17e 75.5px,#1fa287 76.5px,#297b8e 77.5px,#34618d 78.5px,#34608d 79.5px,#2c718e 85.5px,#20928c 91.5px,#228b8d 93.5px,#1e9d89 97.5px,#22a785 102.5px,#2fb47c 105.5px,#31b57b 106.5px,#20a386 109.5px,#20928c 113.5px,#20928c 114.5px,#1f9e89 116.5px,#22a785 117.5px,#3bbb75 119.5px,#86d549 122.5px,#98d83e 123.5px,#9bd93c 124.5px,#67cc5c 127.5px,#5cc863 128.5px,#4ec36b 130.5px,#46c06f 134.5px,#44bf70 160.5px,#50c46a 206.5px,#50c46a 244.5px,#3dbc74 270.5px,#31b57b 280.5px,#22a785 288.5px,#1f9f88 290.5px,#218e8d 292.5px,#34608d 295.5px,#355e8d 296.5px,#2d708e 298.5px,#2c738e 300.5px,#2b748e 334.5px,#287d8e 350.5px,#25858e 355.5px,#1e9c89 361.5px,#21a585 363.5px,#32b67a 367.5px,#35b779 369.5px,#28ae80 372.5px)"></div>
<div class="r" style="background:linear-gradient(90deg,#3b518b 0.5px,#3b528b 39.5px,#2a788e 56.5px,#1f968b 67.5px,#1fa287 71.5px,#26ad81 75.5px,#22a884 76.5px,#24868e 77.5px,#31668e 78.5px,#33638d 79.5px,#2c728e 82.5px,#20928c 86.5px,#20a486 89.5px,#27ad81 91.5px,#25ab82 92.5px,#1e9c89 94.5px,#24aa83 97.5px,#32b67a 102.5px,#1fa287 105.5px,#218e8d 108.5px,#228d8d 109.5px,#20928c 111.5px,#1fa188 113.5px,#2fb47c 115.5px,#40bd72 116.5px,#8bd646 119.5px,#95d840 120.5px,#8ed645 121.5px,#69cd5b 123.5px,#52c569 125.5px,#48c16e 127.5px,#40bd72 134.5px,#40bd72 156.5px,#4cc26c 205.5px,#4cc26c 237.5px,#48c16e 249.5px,#32b67a 276.5px,#25ac82 286.5px,#1f9e89 291.5px,#21918c 293.5px,#31668e 296.5px,#365d8d 297.5px,#2d718e 300.5px,#2c738e 301.5px,#2b758e 337.5px,#287d8e 350.5px,#238a8d 356.5px,#1f9e89 360.5px,#25ac82 363.5px,#1fa287 366.5px,#1f968b 371.5px,#24878e 372.5px)"></div>
<div class="r" style="background:linear-gradient(90deg,#463480 0.5px,#46327e 38.5px,#424186 49.5px,#3a538b 57.5px,#30698e 64.5px,#287c8e 69.5px,#1f9e89 75.5px,#1e9d89 76.5px,#2c718e 78.5px,#21908d 81.5px,#1fa088 83.5px,#2ab07f 86.5px,#50c46a 91.5px,#46c06f 92.5px,#28ae80 93.5px,#1fa287 94.5px,#2fb47c 96.5px,#4cc26c 98.5px,#40bd72 99.5px,#2ab07f 100.5px,#21a685 101.5px,#1f958b 103.5px,#26828e 106.5px,#26828e 108.5px,#228b8d 109.5px,#1e9c89 110.5px,#31b57b 112.5px,#89d548 116.5px,#89d548 117.5px,#58c765 120.5px,#4ec36b 121.5px,#42be71 123.5px,#3bbb75 128.5px,#3bbb75 149.5px,#46c06f 197.5px,#46c06f 234.5px,#3fbc73 253.5px,#31b57b 273.5px,#25ab82 286.5px,#1f9e89 292.5px,#238a8d 295.5px,#33628d 298.5px,#355f8d 299.5px,#2e6f8e 301.5px,#2b748e 303.5px,#2b748e 327.5px,#297b8e 343.5px,#23888e 350.5px,#1e9c89 354.5px,#23a983 357.5px,#22a884 358.5px,#1f978b 361.5px,#25858e 365.5px,#2a768e 372.5px)"></div>
<div class="r" style="background:linear-gradient(90deg,#482374 0.5px,#481f70 40.5px,#472e7c 58.5px,#443a83 64.5px,#3e4a89 69.5px,#2a788e 76.5px,#26818e 78.5px,#1e9d89 80.5px,#2eb37c 82.5px,#60ca60 87.5px,#a8db34 91.5px,#b0dd2f 92.5px,#63cb5f 93.5px,#25ab82 94.5px,#24aa83 95.5px,#3fbc73 96.5px,#3bbb75 97.5px,#31b57b 98.5px,#21a685 99.5px,#20938c 100.5px,#25838e 102.5px,#287d8e 104.5px,#218e8d 108.5px,#1f9a8a 109.5px,#2eb37c 110.5px,#4ec36b 111.5px,#69cd5b 112.5px,#73d056 113.5px,#6ece58 114.5px,#42be71 117.5px,#37b878 119.5px,#32b67a 122.5px,#3fbc73 188.5px,#40bd72 224.5px,#3aba76 248.5px,#2fb47c 268.5px,#26ad81 282.5px,#1fa188 292.5px,#218e8d 296.5px,#34618d 300.5px,#33638d 301.5px,#2c738e 303.5px,#2a768e 304.5px,#2c718e 306.5px,#2a768e 327.5px,#277f8e 339.5px,#1f948c 346.5px,#22a884 351.5px,#1f998a 355.5px,#277f8e 360.5px,#2f6c8e 372.5px)"></div>
<div class="r" style="background:linear-gradient(90deg,#481c6e 0.5px,#48186a 44.5px,#481d6f 56.5px,#482576 63.5px,#443b84 72.5px,#3b528b 77.5px,#375b8d 78.5px,#2d708e 79.5px,#228b8d 80.5px,#22a785 81.5px,#42be71 82.5px,#65cb5e 83.5px,#8bd646 85.5px,#d2e21b 88.5px,#e2e418 89.5px,#eae51a 90.5px,#e5e419 91.5px,#c5e021 92.5px,#5ac864 93.5px,#24aa83 94.5px,#22a785 95.5px,#25ac82 97.5px,#1fa287 99.5px,#25858e 100.5px,#287d8e 102.5px,#26828e 105.5px,#21918c 109.5px,#22a785 110.5px,#34b679 111.5px,#25ac82 114.5px,#22a884 116.5px,#34b679 172.5px,#38b977 203.5px,#37b878 227.5px,#26ad81 279.5px,#1fa088 294.5px,#218e8d 298.5px,#2e6f8e 301.5px,#2f6b8e 302.5px,#297b8e 305.5px,#2c728e 306.5px,#2c718e 307.5px,#297a8e 325.5px,#25838e 333.5px,#1f968b 339.5px,#25ab82 344.5px,#1e9b8a 348.5px,#24878e 352.5px,#277e8e 357.5px,#2c728e 360.5px,#32648e 372.5px)"></div>
<div class="r" style="background:linear-gradient(90deg,#481b6d 0.5px,#48186a 40.5px,#481d6f 53.5px,#482677 60.5px,#443b84 68.5px,#3a538b 73.5px,#2c738e 77.5px,#27808e 78.5px,#1f978b 79.5px,#2db27d 80.5px,#60ca60 81.5px,#95d840 82.5px,#bddf26 83.5px,#d5e21a 84.5px,#e7e419 85.5px,#efe51c 86.5px,#efe51c 87.5px,#e5e419 88.5px,#d0e11c 89.5px,#77d153 92.5px,#4ac16d 93.5px,#26ad81 94.5px,#20a486 95.5px,#22a785 97.5px,#1fa188 99.5px,#228b8d 100.5px,#2a788e 102.5px,#306a8e 104.5px,#306a8e 105.5px,#277e8e 113.5px,#1f9f88 140.5px,#26ad81 170.5px,#2cb17e 200.5px,#2cb17e 220.5px,#25ac82 244.5px,#2db27d 277.5px,#2cb17e 292.5px,#24aa83 298.5px,#1e9d89 301.5px,#20928c 303.5px,#21908d 305.5px,#2c738e 306.5px,#2d718e 307.5px,#26828e 323.5px,#1e9d89 332.5px,#24aa83 335.5px,#25ac82 337.5px,#1e9b8a 341.5px,#2b758e 353.5px,#33628d 366.5px,#34608d 372.5px)"></div>
<div class="r" style="background:linear-gradient(90deg,#481b6d 0.5px,#481b6d 40.5px,#482677 55.5px,#463480 61.5px,#3e4989 66.5px,#2b758e 72.5px,#1e9c89 75.5px,#26ad81 76.5px,#42be71 77.5px,#6ece58 78.5px,#a2da37 79.5px,#cde11d 80.5px,#e7e419 81.5px,#f1e51d 82.5px,#efe51c 83.5px,#e5e419 84.5px,#d0e11c 85.5px,#9dd93b 87.5px,#5cc863 90.5px,#40bd72 92.5px,#22a884 94.5px,#20a486 95.5px,#20a386 99.5px,#21908d 101.5px,#297a8e 104.5px,#31688e 120.5px,#31688e 124.5px,#2e6f8e 132.5px,#21918c 155.5px,#1e9d89 173.5px,#1fa287 204.5px,#1e9d89 250.5px,#25ac82 268.5px,#46c06f 301.5px,#40bd72 304.5px,#2cb17e 305.5px,#2b748e 306.5px,#2e6e8e 307.5px,#297a8e 309.5px,#24868e 315.5px,#1f968b 320.5px,#1fa187 323.5px,#26ad81 326.5px,#26ad81 328.5px,#1fa187 331.5px,#1f958b 336.5px,#26828e 341.5px,#26818e 344.5px,#2a768e 347.5px,#31688e 354.5px,#355f8d 372.5px)"></div>
<div class="r" style="background:linear-gradient(90deg,#481d6f 0.5px,#482071 40.5px,#472a7a 50.5px,#443983 56.5px,#39568c 62.5px,#2a768e 66.5px,#1f978b 69.5px,#21a585 70.5px,#2eb37c 71.5px,#48c16e 72.5px,#69cd5b 73.5px,#b8de29 75.5px,#d5e21a 76.5px,#eae51a 77.5px,#f1e51d 78.5px,#efe51c 79.5px,#e2e418 80.5px,#d0e11c 81.5px,#bade28 82.5px,#73d056 85.5px,#54c568 87.5px,#40bd72 89.5px,#29af7f 93.5px,#1fa287 95.5px,#1fa187 99.5px,#21908d 104.5px,#21918c 112.5px,#2c728e 133.5px,#30698e 142.5px,#31688e 149.5px,#287c8e 171.5px,#26828e 185.5px,#24878e 214.5px,#26828e 251.5px,#21918c 298.5px,#21908d 304.5px,#228c8d 305.5px,#297b8e 306.5px,#2a778e 307.5px,#20928c 310.5px,#1fa088 312.5px,#25ac82 315.5px,#28ae80 317.5px,#1e9d89 323.5px,#1f948c 327.5px,#24878e 330.5px,#26828e 337.5px,#2a768e 340.5px,#31688e 348.5px,#34618d 355.5px,#355f8d 372.5px)"></div>
<div class="r" style="background:linear-gradient(90deg,#482576 0.5px,#482677 22.5px,#472a7a 37.5px,#46307e 43.5px,#414287 50.5px,#3a538b 54.5px,#2c728e 59.5px,#228d8d 62.5px,#1fa287 64.5px,#27ad81 65.5px,#38b977 66.5px,#70cf57 68.5px,#93d741 69.5px,#cde11d 71.5px,#e2e418 72.5px,#efe51c 73.5px,#f1e51d 74.5px,#ece51b 75.5px,#dfe318 76.5px,#cae11f 77.5px,#75d054 81.5px,#58c765 83.5px,#42be71 85.5px,#2ab07f 90.5px,#1fa187 95.5px,#1fa188 99.5px,#1f968b 105.5px,#1f998a 113.5px,#238a8d 137.5px,#2b748e 153.5px,#30698e 166.5px,#306a8e 251.5px,#2c728e 283.5px,#29798e 292.5px,#25848e 298.5px,#1e9b8a 303.5px,#21a685 305.5px,#26ad81 309.5px,#25ab82 311.5px,#1f9e89 314.5px,#25858e 320.5px,#26828e 327.5px,#2b758e 331.5px,#2c728e 337.5px,#31688e 341.5px,#355f8d 354.5px,#355f8d 372.5px)"></div>
<div class="r" style="background:linear-gradient(90deg,#453581 0.5px,#414287 38.5px,#34608d 48.5px,#297a8e 53.5px,#1fa188 58.5px,#24aa83 59.5px,#40bd72 61.5px,#73d056 63.5px,#cae11f 66.5px,#dfe318 67.5px,#ece51b 68.5px,#f1e51d 69.5px,#efe51c 70.5px,#d5e21a 72.5px,#c2df23 73.5px,#84d44b 76.5px,#63cb5f 78.5px,#4cc26c 80.5px,#2eb37c 85.5px,#1fa188 95.5px,#1f988b 105.5px,#1f9a8a 113.5px,#20928c 141.5px,#26828e 163.5px,#29798e 193.5px,#2c738e 251.5px,#2b758e 270.5px,#287d8e 285.5px,#228c8d 292.5px,#1fa088 296.5px,#29af7f 299.5px,#2db27d 301.5px,#25ac82 303.5px,#1f968b 306.5px,#21908d 307.5px,#2e6f8e 310.5px,#2e6f8e 311.5px,#287d8e 314.5px,#277f8e 316.5px,#2b758e 320.5px,#2c738e 326.5px,#306a8e 330.5px,#33628d 340.5px,#355f8d 372.5px)"></div>
<div class="r" style="background:linear-gradient(90deg,#3c508b 0.5px,#32658e 38.5px,#2a768e 44.5px,#23898e 48.5px,#1fa187 52.5px,#2ab07f 54.5px,#48c16e 56.5px,#73d056 58.5px,#c2df23 61.5px,#d8e219 62.5px,#eae51a 63.5px,#f1e51d 64.5px,#f1e51d 65.5px,#eae51a 66.5px,#dae319 67.5px,#c8e020 68.5px,#9dd93b 70.5px,#7ad151 72.5px,#54c568 75.5px,#3dbc74 78.5px,#2fb47c 81.5px,#21a685 90.5px,#1e9d89 97.5px,#1f978b 110.5px,#218e8d 164.5px,#24868e 269.5px,#238a8d 278.5px,#20928c 284.5px,#1fa188 288.5px,#2eb37c 293.5px,#1fa188 298.5px,#1f948c 301.5px,#29798e 308.5px,#39568c 311.5px,#3a538b 312.5px,#2f6c8e 315.5px,#2c738e 317.5px,#34618d 332.5px,#355f8d 372.5px)"></div>
<div class="r" style="background:linear-gradient(90deg,#2e6f8e 0.5px,#24878e 38.5px,#1e9d89 44.5px,#21a685 46.5px,#35b779 49.5px,#50c46a 51.5px,#77d153 53.5px,#d2e21b 57.5px,#e5e419 58.5px,#efe51c 59.5px,#f1e51d 60.5px,#efe51c 61.5px,#e2e418 62.5px,#d2e21b 63.5px,#81d34d 67.5px,#70cf57 68.5px,#58c765 70.5px,#40bd72 73.5px,#32b67a 76.5px,#26ad81 81.5px,#22a884 85.5px,#1e9c89 96.5px,#1f968b 110.5px,#218f8d 262.5px,#20938c 274.5px,#20a386 281.5px,#2db27d 286.5px,#1fa187 291.5px,#1f948c 295.5px,#29798e 308.5px,#2f6c8e 310.5px,#3e4c8a 313.5px,#3d4d8a 314.5px,#2f6b8e 317.5px,#2d708e 319.5px,#355f8d 332.5px,#355f8d 372.5px)"></div>
<div class="r" style="background:linear-gradient(90deg,#228d8d 0.5px,#1e9d89 26.5px,#21a585 35.5px,#26ad81 39.5px,#2fb47c 41.5px,#3fbc73 43.5px,#60ca60 46.5px,#81d34d 48.5px,#d2e21b 52.5px,#e2e418 53.5px,#f1e51d 55.5px,#f1e51d 56.5px,#eae51a 57.5px,#dae319 58.5px,#cae11f 59.5px,#8bd646 62.5px,#69cd5b 64.5px,#52c569 66.5px,#42be71 68.5px,#2eb37c 73.5px,#22a884 81.5px,#1f958b 108.5px,#21918c 254.5px,#1f988b 269.5px,#1fa188 273.5px,#29af7f 279.5px,#1e9d89 285.5px,#228c8d 293.5px,#2a768e 309.5px,#2e6d8e 311.5px,#3d4e8a 314.5px,#3e4989 315.5px,#2e6d8e 319.5px,#2c728e 321.5px,#355f8d 334.5px,#355f8d 372.5px)"></div>
<div class="r" style="background:linear-gradient(90deg,#24aa83 0.5px,#2fb47c 18.5px,#40bd72 28.5px,#58c765 36.5px,#63cb5f 38.5px,#75d054 40.5px,#8ed645 42.5px,#cde11d 46.5px,#dae319 47.5px,#efe51c 49.5px,#f1e51d 50.5px,#f1e51d 51.5px,#eae51a 52.5px,#d0e11c 54.5px,#95d840 57.5px,#73d056 59.5px,#46c06f 63.5px,#2fb47c 68.5px,#22a884 77.5px,#1f988b 97.5px,#20938c 111.5px,#21918c 251.5px,#1f948c 259.5px,#1fa188 266.5px,#26ad81 272.5px,#1fa187 276.5px,#20928c 282.5px,#2b748e 310.5px,#31688e 313.5px,#3e4c8a 316.5px,#3e4c8a 317.5px,#2f6b8e 320.5px,#2a768e 323.5px,#31668e 331.5px,#355f8d 338.5px,#34608d 372.5px)"></div>
<div class="r" style="background:linear-gradient(90deg,#56c667 0.5px,#60ca60 10.5px,#7fd34e 22.5px,#b2dd2d 34.5px,#d5e21a 39.5px,#efe51c 43.5px,#f1e51d 45.5px,#e7e419 47.5px,#cde11d 49.5px,#77d153 54.5px,#5ec962 56.5px,#44bf70 59.5px,#38b977 61.5px,#29af7f 66.5px,#22a884 73.5px,#1e9d89 87.5px,#20928c 107.5px,#218f8d 242.5px,#1f958b 255.5px,#24aa83 264.5px,#1e9b8a 270.5px,#228c8d 278.5px,#2c738e 311.5px,#2f6b8e 314.5px,#3e4c8a 318.5px,#3d4e8a 319.5px,#2e6f8e 322.5px,#297a8e 325.5px,#34618d 339.5px,#34608d 372.5px)"></div>
<div class="r" style="background:linear-gradient(90deg,#b5de2b 0.5px,#c2df23 11.5px,#dde318 21.5px,#efe51c 29.5px,#efe51c 38.5px,#dde318 41.5px,#cae11f 43.5px,#77d153 49.5px,#56c667 52.5px,#46c06f 54.5px,#2ab07f 61.5px,#20a486 72.5px,#20928c 101.5px,#228d8d 166.5px,#228d8d 237.5px,#1f948c 249.5px,#1fa088 254.5px,#1fa287 257.5px,#238a8d 271.5px,#25838e 278.5px,#2d708e 314.5px,#31688e 316.5px,#3d4e8a 319.5px,#3e4a89 320.5px,#2c718e 324.5px,#287d8e 327.5px,#287d8e 329.5px,#32658e 340.5px,#34608d 345.5px,#34608d 372.5px)"></div>
<div class="r" style="background:linear-gradient(90deg,#f1e51d 0.5px,#efe51c 16.5px,#eae51a 20.5px,#d5e21a 28.5px,#b2dd2d 36.5px,#9bd93c 39.5px,#5ac864 46.5px,#40bd72 50.5px,#29af7f 57.5px,#22a884 63.5px,#1e9d89 78.5px,#20928c 97.5px,#228c8d 141.5px,#228b8d 232.5px,#20928c 242.5px,#1fa088 249.5px,#24878e 258.5px,#23898e 263.5px,#29798e 286.5px,#2d718e 315.5px,#2f6b8e 317.5px,#3e4c8a 321.5px,#3e4a89 322.5px,#2b758e 326.5px,#277e8e 328.5px,#26818e 331.5px,#31678e 343.5px,#34608d 349.5px,#34608d 372.5px)"></div>
<div class="r" style="background:linear-gradient(90deg,#bade28 0.5px,#b5de2b 8.5px,#a0da39 18.5px,#60ca60 37.5px,#3bbb75 45.5px,#2fb47c 49.5px,#26ad81 54.5px,#1fa287 65.5px,#218e8d 104.5px,#23888e 187.5px,#23898e 225.5px,#228d8d 232.5px,#1f9e89 242.5px,#2b758e 255.5px,#26818e 263.5px,#2a778e 281.5px,#2d708e 317.5px,#30698e 319.5px,#3f4889 323.5px,#3d4d8a 324.5px,#2d718e 327.5px,#2a788e 328.5px,#27808e 330.5px,#25838e 333.5px,#26828e 336.5px,#34618d 351.5px,#34608d 372.5px)"></div>
<div class="r" style="background:linear-gradient(90deg,#67cc5c 0.5px,#63cb5f 12.5px,#3dbc74 36.5px,#28ae80 47.5px,#1fa287 60.5px,#228c8d 104.5px,#24878e 165.5px,#23898e 218.5px,#1e9b8a 234.5px,#2c728e 248.5px,#2e6f8e 251.5px,#297b8e 261.5px,#2b748e 280.5px,#2d718e 317.5px,#31668e 321.5px,#3e4a89 324.5px,#3f4889 325.5px,#3c508b 326.5px,#2f6b8e 328.5px,#297b8e 330.5px,#25858e 335.5px,#26818e 341.5px,#33638d 353.5px,#355f8d 359.5px,#34608d 372.5px)"></div>
<div class="r" style="background:linear-gradient(90deg,#3dbc74 0.5px,#3dbc74 11.5px,#32b67a 28.5px,#1fa287 55.5px,#20928c 83.5px,#23898e 109.5px,#24868e 192.5px,#238a8d 207.5px,#1f998a 224.5px,#20928c 229.5px,#2a778e 238.5px,#2e6e8e 243.5px,#2a768e 258.5px,#2d718e 319.5px,#30698e 322.5px,#3f4889 326.5px,#3e4a89 327.5px,#2e6f8e 330.5px,#287d8e 332.5px,#24878e 337.5px,#26828e 345.5px,#33638d 356.5px,#34618d 372.5px)"></div>
<div class="r" style="background:linear-gradient(90deg,#2ab07f 0.5px,#2cb17e 12.5px,#26ad81 30.5px,#1e9d89 57.5px,#23898e 100.5px,#24868e 116.5px,#25858e 173.5px,#1f958b 212.5px,#228d8d 219.5px,#2e6d8e 235.5px,#2c738e 246.5px,#2d718e 319.5px,#2f6b8e 323.5px,#3f4889 328.5px,#3d4e8a 329.5px,#30698e 331.5px,#297a8e 333.5px,#26828e 335.5px,#23898e 340.5px,#24878e 346.5px,#33628d 360.5px,#34618d 372.5px)"></div>
<div class="r" style="background:linear-gradient(90deg,#22a884 0.5px,#22a785 28.5px,#1e9b8a 55.5px,#25858e 109.5px,#25848e 155.5px,#21908d 189.5px,#26828e 207.5px,#2e6d8e 224.5px,#2c728e 243.5px,#2d718e 321.5px,#30698e 325.5px,#3e4989 329.5px,#3e4989 330.5px,#2e6e8e 333.5px,#287d8e 335.5px,#24878e 339.5px,#228b8d 345.5px,#25838e 352.5px,#32658e 362.5px,#34618d 372.5px)"></div>
<div class="r" style="background:linear-gradient(90deg,#1fa287 0.5px,#1fa188 34.5px,#25838e 110.5px,#25838e 140.5px,#218e8d 167.5px,#29798e 189.5px,#2e6f8e 206.5px,#2d718e 322.5px,#31678e 327.5px,#3f4889 331.5px,#3d4e8a 332.5px,#2c728e 335.5px,#277f8e 337.5px,#23898e 342.5px,#228b8d 351.5px,#32648e 366.5px,#33628d 372.5px)"></div>
<div class="r" style="background:linear-gradient(90deg,#1f9e89 0.5px,#1e9c89 35.5px,#26828e 104.5px,#26828e 126.5px,#228d8d 150.5px,#2e6e8e 182.5px,#2b758e 211.5px,#2e6f8e 238.5px,#2d718e 324.5px,#306a8e 328.5px,#3e4a89 332.5px,#3e4989 333.5px,#2e6e8e 336.5px,#26818e 339.5px,#228d8d 351.5px,#238a8d 355.5px,#30698e 367.5px,#32648e 372.5px)"></div>
<div class="r" style="background:linear-gradient(90deg,#1f998a 0.5px,#1f998a 30.5px,#26828e 98.5px,#26828e 114.5px,#228b8d 135.5px,#2e6e8e 164.5px,#2a778e 208.5px,#2e6e8e 232.5px,#2d718e 326.5px,#31688e 330.5px,#3e4989 334.5px,#3d4d8a 335.5px,#31678e 337.5px,#297a8e 339.5px,#26828e 341.5px,#238a8d 346.5px,#228b8d 358.5px,#30698e 372.5px)"></div>
<div class="r" style="background:linear-gradient(90deg,#1f948c 0.5px,#20928c 45.5px,#26828e 89.5px,#26828e 101.5px,#238a8d 119.5px,#2c718e 142.5px,#2e6d8e 150.5px,#2a768e 176.5px,#2a768e 214.5px,#2e6d8e 227.5px,#2d718e 328.5px,#2f6b8e 331.5px,#355e8d 333.5px,#3e4a89 335.5px,#3e4989 336.5px,#2e6d8e 339.5px,#287d8e 341.5px,#24878e 345.5px,#228d8d 352.5px,#228d8d 360.5px,#2c728e 372.5px)"></div>
<div class="r" style="background:linear-gradient(90deg,#21918c 0.5px,#20928c 29.5px,#26818e 87.5px,#23888e 104.5px,#2e6d8e 133.5px,#2a768e 161.5px,#2b758e 213.5px,#2f6c8e 226.5px,#2d718e 329.5px,#30698e 333.5px,#3f4889 337.5px,#3e4c8a 338.5px,#31668e 340.5px,#29798e 342.5px,#23888e 347.5px,#218e8d 362.5px,#277f8e 372.5px)"></div>
<div class="r" style="background:linear-gradient(90deg,#228d8d 0.5px,#218e8d 29.5px,#277f8e 86.5px,#26828e 96.5px,#2e6d8e 116.5px,#2a768e 152.5px,#2c738e 215.5px,#2f6c8e 223.5px,#2d718e 331.5px,#31678e 335.5px,#3e4a89 338.5px,#3f4889 339.5px,#3c508b 340.5px,#2f6c8e 342.5px,#2b758e 343.5px,#26818e 345.5px,#24878e 348.5px,#218e8d 358.5px,#218e8d 365.5px,#24878e 372.5px)"></div>
<div class="r" style="background:linear-gradient(90deg,#238a8d 0.5px,#238a8d 30.5px,#287d8e 88.5px,#2f6c8e 103.5px,#2b758e 133.5px,#2c728e 214.5px,#2f6b8e 224.5px,#2d718e 333.5px,#306a8e 336.5px,#3f4889 340.5px,#3e4a89 341.5px,#2d718e 344.5px,#26828e 347.5px,#228d8d 357.5px,#228b8d 372.5px)"></div>
<div class="r" style="background:linear-gradient(90deg,#24868e 0.5px,#24868e 32.5px,#297b8e 87.5px,#2e6f8e 96.5px,#2b748e 113.5px,#2b748e 146.5px,#2f6b8e 256.5px,#2d718e 334.5px,#31678e 338.5px,#3e4c8a 341.5px,#3f4889 342.5px,#3c4f8a 343.5px,#2b758e 346.5px,#26818e 348.5px,#228d8d 358.5px,#228c8d 372.5px)"></div>
<div class="r" style="background:linear-gradient(90deg,#26828e 0.5px,#26828e 42.5px,#29798e 86.5px,#2c738e 95.5px,#2d708e 215.5px,#306a8e 225.5px,#2d718e 336.5px,#306a8e 339.5px,#3f4889 343.5px,#3e4a89 344.5px,#2d708e 347.5px,#26828e 350.5px,#228d8d 360.5px,#228c8d 372.5px)"></div>
<div class="r" style="background:linear-gradient(90deg,#27808e 0.5px,#277f8e 39.5px,#2c738e 95.5px,#2e6f8e 216.5px,#306a8e 223.5px,#2c728e 331.5px,#2e6f8e 339.5px,#31678e 341.5px,#3f4889 345.5px,#3c4f8a 346.5px,#2b748e 349.5px,#26818e 351.5px,#228c8d 359.5px,#228b8d 372.5px)"></div>
<div class="r" style="background:linear-gradient(90deg,#287c8e 0.5px,#287c8e 36.5px,#2c718e 105.5px,#2e6e8e 216.5px,#306a8e 222.5px,#2c728e 333.5px,#2e6e8e 341.5px,#32648e 343.5px,#3e4a89 346.5px,#3e4a89 347.5px,#2d708e 350.5px,#26828e 353.5px,#228c8d 361.5px,#238a8d 372.5px)"></div>
<div class="r" style="background:linear-gradient(90deg,#29798e 0.5px,#306a8e 221.5px,#2c728e 334.5px,#2e6d8e 343.5px,#33628d 345.5px,#3d4e8a 347.5px,#3e4989 348.5px,#3c4f8a 349.5px,#2b748e 352.5px,#26818e 354.5px,#228c8d 363.5px,#23888e 372.5px)"></div>
<div class="r" style="background:linear-gradient(90deg,#2a768e 0.5px,#30698e 223.5px,#2c728e 336.5px,#2e6f8e 344.5px,#31668e 346.5px,#3e4c8a 349.5px,#3e4a89 350.5px,#2e6f8e 353.5px,#26828e 356.5px,#228c8d 365.5px,#24878e 372.5px)"></div>
<div class="r" style="background:linear-gradient(90deg,#2c738e 0.5px,#30698e 222.5px,#2c728e 339.5px,#2e6e8e 346.5px,#33638d 348.5px,#3e4a89 351.5px,#3c4f8a 352.5px,#2b748e 355.5px,#26818e 357.5px,#228d8d 368.5px,#25848e 372.5px)"></div>
<div class="r" style="background:linear-gradient(90deg,#2d718e 0.5px,#30698e 147.5px,#30698e 239.5px,#2c728e 341.5px,#2e6d8e 348.5px,#3d4e8a 352.5px,#3d4d8a 353.5px,#39558c 354.5px,#2d708e 356.5px,#277f8e 358.5px,#25858e 360.5px,#20928c 369.5px,#23898e 370.5px,#26828e 372.5px)"></div>
<div class="r" style="background:linear-gradient(90deg,#2e6e8e 0.5px,#31688e 190.5px,#306a8e 268.5px,#2c728e 344.5px,#2e6f8e 349.5px,#32658e 351.5px,#3d4e8a 354.5px,#3b528b 355.5px,#2f6b8e 357.5px,#287d8e 359.5px,#1f988b 367.5px,#1f978b 368.5px,#277e8e 372.5px)"></div>
<div class="r" style="background:linear-gradient(90deg,#2f6c8e 0.5px,#31678e 188.5px,#2f6b8e 286.5px,#2c738e 339.5px,#2d718e 350.5px,#306a8e 352.5px,#3a538b 355.5px,#3b528b 356.5px,#277f8e 360.5px,#1f988b 364.5px,#1f988b 365.5px,#2a788e 372.5px)"></div>
<div class="r" style="background:linear-gradient(90deg,#30698e 0.5px,#31668e 186.5px,#2f6b8e 288.5px,#2c738e 350.5px,#2e6f8e 353.5px,#355f8d 356.5px,#355e8d 357.5px,#31668e 358.5px,#20928c 361.5px,#1f958b 362.5px,#238a8d 365.5px,#27808e 370.5px,#2d718e 372.5px)"></div>
<div class="r" style="background:linear-gradient(90deg,#31678e 0.5px,#30698e 93.5px,#32658e 184.5px,#2f6b8e 290.5px,#2c738e 347.5px,#2a788e 355.5px,#297a8e 356.5px,#23888e 358.5px,#29798e 361.5px,#25838e 366.5px,#27808e 369.5px,#2c738e 371.5px,#31678e 372.5px)"></div>
<div class="r" style="background:linear-gradient(90deg,#32658e 0.5px,#32658e 19.5px,#355e8d 27.5px,#30698e 68.5px,#32648e 181.5px,#2f6b8e 292.5px,#2b758e 347.5px,#297b8e 351.5px,#20928c 355.5px,#21918c 356.5px,#34608d 360.5px,#365d8d 361.5px,#297b8e 365.5px,#277f8e 367.5px,#2b748e 370.5px,#365d8d 372.5px)"></div>
<div class="r" style="background:linear-gradient(90deg,#33638d 0.5px,#33628d 21.5px,#3c508b 27.5px,#3d4e8a 32.5px,#365c8d 42.5px,#32648e 61.5px,#2f6c8e 68.5px,#33638d 145.5px,#2f6b8e 294.5px,#2b758e 344.5px,#297b8e 348.5px,#1f948c 352.5px,#20928c 353.5px,#39568c 362.5px,#2e6f8e 365.5px,#2a788e 367.5px,#2b748e 369.5px,#2e6d8e 370.5px,#355f8d 371.5px,#365d8d 372.5px)"></div>
<div class="r" style="background:linear-gradient(90deg,#34618d 0.5px,#34608d 26.5px,#375a8c 30.5px,#3c508b 33.5px,#3e4c8a 43.5px,#34608d 61.5px,#2d708e 65.5px,#2a768e 68.5px,#2e6d8e 76.5px,#31688e 87.5px,#33628d 150.5px,#2f6c8e 302.5px,#2b758e 341.5px,#287c8e 345.5px,#1f948c 349.5px,#20928c 350.5px,#277e8e 353.5px,#2d718e 359.5px,#39568c 363.5px,#38588c 364.5px,#30698e 366.5px,#2d718e 368.5px,#2e6d8e 369.5px,#33628d 370.5px,#365d8d 372.5px)"></div>
<div class="r" style="background:linear-gradient(90deg,#34608d 0.5px,#355f8d 32.5px,#375b8d 36.5px,#3e4c8a 42.5px,#3e4989 54.5px,#3a548c 61.5px,#33628d 64.5px,#26818e 68.5px,#23898e 70.5px,#24868e 73.5px,#2c718e 81.5px,#2f6b8e 87.5px,#32658e 110.5px,#33628d 180.5px,#31688e 214.5px,#2f6b8e 297.5px,#2b748e 337.5px,#287c8e 342.5px,#1f958b 346.5px,#297a8e 351.5px,#2e6f8e 361.5px,#38588c 365.5px,#31668e 368.5px,#365c8d 370.5px,#365d8d 372.5px)"></div>
<div class="r" style="background:linear-gradient(90deg,#355f8d 0.5px,#355e8d 38.5px,#375b8d 42.5px,#3e4a89 49.5px,#404688 61.5px,#3d4d8a 64.5px,#2f6b8e 70.5px,#23898e 79.5px,#25848e 83.5px,#2c718e 90.5px,#2f6b8e 95.5px,#32648e 117.5px,#34618d 166.5px,#30698e 228.5px,#2f6b8e 298.5px,#2b748e 335.5px,#287c8e 339.5px,#1f958b 343.5px,#20928c 344.5px,#26828e 346.5px,#2a788e 349.5px,#2c738e 361.5px,#2e6d8e 363.5px,#375a8c 366.5px,#365d8d 372.5px)"></div>
<div class="r" style="background:linear-gradient(90deg,#355e8d 0.5px,#365d8d 45.5px,#3f4889 56.5px,#404588 61.5px,#3e4a89 67.5px,#39568c 73.5px,#23898e 88.5px,#24868e 91.5px,#2b748e 97.5px,#2f6c8e 102.5px,#33638d 125.5px,#34618d 176.5px,#30698e 228.5px,#2f6b8e 299.5px,#2c718e 328.5px,#2a768e 334.5px,#26818e 337.5px,#1f958b 340.5px,#287d8e 344.5px,#2a788e 346.5px,#2b748e 351.5px,#2a768e 361.5px,#2d708e 364.5px,#375b8d 367.5px,#38598c 369.5px,#355e8d 370.5px,#355e8d 372.5px)"></div>
<div class="r" style="background:linear-gradient(90deg,#355e8d 0.5px,#365c8d 53.5px,#3f4788 62.5px,#3f4889 73.5px,#39558c 82.5px,#23898e 97.5px,#23888e 99.5px,#2b758e 105.5px,#2f6c8e 110.5px,#33628d 133.5px,#34618d 181.5px,#30698e 228.5px,#2f6b8e 299.5px,#2b748e 330.5px,#287c8e 333.5px,#1f958b 337.5px,#26818e 340.5px,#29798e 342.5px,#2b748e 348.5px,#2a788e 362.5px,#2e6f8e 365.5px,#375a8c 368.5px,#355e8d 372.5px)"></div>
<div class="r" style="background:linear-gradient(90deg,#365d8d 0.5px,#365d8d 51.5px,#33628d 55.5px,#355e8d 59.5px,#3f4889 68.5px,#404588 78.5px,#3c508b 89.5px,#32658e 96.5px,#26828e 103.5px,#23898e 106.5px,#2c738e 114.5px,#31678e 122.5px,#34618d 140.5px,#34608d 171.5px,#30698e 229.5px,#306a8e 293.5px,#2e6f8e 319.5px,#2b758e 328.5px,#26818e 331.5px,#20928c 333.5px,#1f948c 334.5px,#297b8e 338.5px,#2a778e 340.5px,#2c738e 349.5px,#297a8e 362.5px,#2b758e 364.5px,#365c8d 367.5px,#355e8d 372.5px)"></div>
<div class="r" style="background:linear-gradient(90deg,#365d8d 0.5px,#365d8d 50.5px,#32658e 56.5px,#365c8d 66.5px,#404588 75.5px,#414287 88.5px,#3f4889 94.5px,#3a538b 99.5px,#23888e 114.5px,#24878e 116.5px,#2c738e 122.5px,#31668e 130.5px,#34608d 147.5px,#34608d 175.5px,#30698e 230.5px,#2e6d8e 312.5px,#2b758e 325.5px,#287c8e 327.5px,#20928c 330.5px,#1f948c 331.5px,#25848e 333.5px,#2a768e 337.5px,#2c738e 350.5px,#287c8e 361.5px,#2c738e 364.5px,#365d8d 366.5px,#355e8d 372.5px)"></div>
<div class="r" style="background:linear-gradient(90deg,#365c8d 0.5px,#365d8d 50.5px,#30698e 55.5px,#34608d 69.5px,#414287 81.5px,#423f85 95.5px,#414287 100.5px,#3a548c 108.5px,#23888e 122.5px,#26818e 126.5px,#2e6d8e 132.5px,#32648e 139.5px,#34608d 179.5px,#30698e 230.5px,#2e6e8e 314.5px,#2b758e 322.5px,#287c8e 324.5px,#20928c 327.5px,#20938c 328.5px,#287d8e 331.5px,#2b758e 334.5px,#2c738e 349.5px,#277e8e 360.5px,#2a778e 363.5px,#2e6f8e 364.5px,#34608d 365.5px,#365d8d 366.5px,#355e8d 372.5px)"></div>
<div class="r" style="background:linear-gradient(90deg,#365c8d 0.5px,#365d8d 50.5px,#2e6f8e 53.5px,#2d708e 54.5px,#355f8d 75.5px,#424086 87.5px,#443b84 103.5px,#424086 108.5px,#39568c 117.5px,#23888e 130.5px,#24868e 132.5px,#2f6b8e 140.5px,#32648e 145.5px,#34608d 180.5px,#31688e 222.5px,#2e6e8e 312.5px,#2c718e 317.5px,#2a788e 320.5px,#26828e 322.5px,#20938c 324.5px,#20928c 325.5px,#287c8e 328.5px,#2b748e 331.5px,#2c738e 349.5px,#27808e 359.5px,#29798e 362.5px,#365d8d 365.5px,#355e8d 372.5px)"></div>
<div class="r" style="background:linear-gradient(90deg,#365c8d 0.5px,#365d8d 50.5px,#29798e 53.5px,#297b8e 54.5px,#2e6e8e 61.5px,#355f8d 80.5px,#424186 91.5px,#443b84 96.5px,#453882 111.5px,#424186 117.5px,#3a538b 124.5px,#25838e 136.5px,#24878e 138.5px,#26818e 141.5px,#2f6b8e 147.5px,#33638d 153.5px,#34608d 181.5px,#30698e 232.5px,#2e6e8e 309.5px,#2c728e 315.5px,#2a788e 317.5px,#20938c 321.5px,#20928c 322.5px,#297b8e 325.5px,#2c738e 328.5px,#2c728e 346.5px,#26818e 359.5px,#2b758e 362.5px,#365d8d 364.5px,#355e8d 372.5px)"></div>
<div class="r" style="background:linear-gradient(90deg,#365c8d 0.5px,#365d8d 49.5px,#34618d 50.5px,#238a8d 52.5px,#21908d 53.5px,#2b748e 62.5px,#355f8d 85.5px,#433e85 97.5px,#453581 106.5px,#46337f 114.5px,#453581 119.5px,#414287 126.5px,#32648e 137.5px,#26818e 143.5px,#24878e 146.5px,#2c718e 152.5px,#31668e 157.5px,#34618d 164.5px,#34608d 182.5px,#30698e 231.5px,#2e6f8e 307.5px,#2b758e 313.5px,#20938c 318.5px,#21908d 319.5px,#297a8e 322.5px,#2c728e 326.5px,#2c718e 343.5px,#26828e 358.5px,#277e8e 360.5px,#2a778e 361.5px,#2e6e8e 362.5px,#365d8d 363.5px,#355e8d 372.5px)"></div>
<div class="r" style="background:linear-gradient(90deg,#365c8d 0.5px,#365d8d 49.5px,#355f8d 50.5px,#2b748e 51.5px,#21918c 52.5px,#1fa188 53.5px,#1fa188 54.5px,#25848e 60.5px,#2c718e 70.5px,#355f8d 90.5px,#424186 100.5px,#453581 106.5px,#472f7d 120.5px,#453581 128.5px,#3e4a89 137.5px,#365d8d 143.5px,#277f8e 150.5px,#24878e 153.5px,#2c718e 159.5px,#32658e 165.5px,#34608d 181.5px,#2c718e 307.5px,#297a8e 311.5px,#21908d 314.5px,#20938c 315.5px,#297a8e 319.5px,#2c728e 323.5px,#2c718e 343.5px,#25838e 357.5px,#297a8e 360.5px,#33628d 362.5px,#365d8d 363.5px,#355e8d 372.5px)"></div>
<div class="r" style="background:linear-gradient(90deg,#365c8d 0.5px,#365d8d 49.5px,#34608d 50.5px,#306a8e 51.5px,#23898e 53.5px,#1e9c89 55.5px,#1fa287 57.5px,#228d8d 62.5px,#277f8e 68.5px,#2c728e 76.5px,#355f8d 95.5px,#463480 110.5px,#472c7a 126.5px,#46307e 134.5px,#424186 142.5px,#355f8d 151.5px,#26828e 158.5px,#24878e 160.5px,#31668e 171.5px,#34618d 185.5px,#2c718e 302.5px,#2a788e 307.5px,#20928c 311.5px,#1f948c 312.5px,#297a8e 316.5px,#2c738e 320.5px,#2c718e 341.5px,#25848e 356.5px,#287c8e 359.5px,#365d8d 362.5px,#355e8d 372.5px)"></div>
<div class="r" style="background:linear-gradient(90deg,#365d8d 0.5px,#365d8d 49.5px,#33628d 51.5px,#2c738e 54.5px,#1f988b 58.5px,#1fa287 60.5px,#1f9e89 62.5px,#20938c 64.5px,#25858e 70.5px,#375a8c 102.5px,#443b84 111.5px,#46307e 116.5px,#482878 132.5px,#472a7a 138.5px,#443a83 147.5px,#39568c 156.5px,#26828e 165.5px,#24878e 167.5px,#31688e 177.5px,#33628d 191.5px,#2c718e 298.5px,#297a8e 304.5px,#25838e 306.5px,#20938c 308.5px,#20938c 309.5px,#297a8e 313.5px,#2b748e 317.5px,#2c728e 341.5px,#25848e 355.5px,#287d8e 358.5px,#2a768e 359.5px,#365d8d 361.5px,#355e8d 372.5px)"></div>
<div class="r" style="background:linear-gradient(90deg,#365d8d 0.5px,#365d8d 49.5px,#2e6d8e 56.5px,#29798e 58.5px,#1e9c89 62.5px,#1fa287 64.5px,#228b8d 71.5px,#2d718e 93.5px,#375b8d 106.5px,#453781 117.5px,#472e7c 121.5px,#482475 137.5px,#482677 145.5px,#443983 154.5px,#39558c 163.5px,#26818e 172.5px,#24868e 174.5px,#27808e 177.5px,#2e6f8e 181.5px,#31678e 185.5px,#33638d 197.5px,#2c718e 295.5px,#297b8e 301.5px,#1f948c 305.5px,#20928c 306.5px,#277e8e 309.5px,#2b758e 314.5px,#2b748e 342.5px,#26818e 350.5px,#25848e 355.5px,#2a788e 358.5px,#2e6e8e 359.5px,#365d8d 360.5px,#355e8d 372.5px)"></div>
<div class="r" style="background:linear-gradient(90deg,#365d8d 0.5px,#365d8d 48.5px,#32648e 56.5px,#2d718e 60.5px,#21908d 64.5px,#1fa287 67.5px,#228b8d 75.5px,#287c8e 92.5px,#365c8d 110.5px,#414287 118.5px,#472f7d 124.5px,#482173 140.5px,#482173 148.5px,#46307e 158.5px,#3a548c 170.5px,#26818e 179.5px,#24868e 181.5px,#30698e 191.5px,#32648e 199.5px,#2f6c8e 271.5px,#2b748e 295.5px,#287c8e 298.5px,#1f958b 302.5px,#20928c 303.5px,#26828e 305.5px,#2a778e 309.5px,#2a768e 341.5px,#26828e 349.5px,#25848e 354.5px,#297a8e 357.5px,#33628d 359.5px,#365d8d 360.5px,#355e8d 372.5px)"></div>
<div class="r" style="background:linear-gradient(90deg,#355e8d 0.5px,#365d8d 32.5px,#39568c 35.5px,#3a548c 39.5px,#33628d 58.5px,#2f6b8e 62.5px,#2b758e 64.5px,#1f948c 68.5px,#1fa188 70.5px,#1fa287 71.5px,#218e8d 77.5px,#26828e 93.5px,#375b8d 115.5px,#404588 122.5px,#472f7d 128.5px,#482475 135.5px,#481f70 145.5px,#482173 158.5px,#472a7a 163.5px,#3c508b 176.5px,#32658e 181.5px,#26828e 186.5px,#24878e 188.5px,#2d708e 195.5px,#31668e 203.5px,#2f6c8e 269.5px,#2b748e 292.5px,#287d8e 295.5px,#20928c 298.5px,#1f948c 299.5px,#287d8e 303.5px,#2a768e 307.5px,#29798e 341.5px,#25848e 353.5px,#297b8e 356.5px,#365d8d 359.5px,#355e8d 372.5px)"></div>
<div class="r" style="background:linear-gradient(90deg,#355e8d 0.5px,#355e8d 33.5px,#375a8c 35.5px,#3f4788 39.5px,#414487 42.5px,#375a8c 52.5px,#32648e 63.5px,#2c738e 67.5px,#1f978b 72.5px,#1fa187 74.5px,#228c8d 82.5px,#26818e 99.5px,#365c8d 119.5px,#414287 127.5px,#482677 136.5px,#481d6f 148.5px,#481d6f 163.5px,#472a7a 171.5px,#3f4889 181.5px,#365c8d 186.5px,#26828e 193.5px,#24878e 195.5px,#2c738e 201.5px,#31688e 209.5px,#2f6c8e 267.5px,#2b748e 289.5px,#25838e 293.5px,#20938c 295.5px,#20938c 296.5px,#297b8e 300.5px,#2b758e 306.5px,#287c8e 341.5px,#25848e 352.5px,#287c8e 355.5px,#2b758e 356.5px,#365d8d 358.5px,#355e8d 372.5px)"></div>
<div class="r" style="background:linear-gradient(90deg,#355e8d 0.5px,#355e8d 36.5px,#38598c 39.5px,#3e4989 42.5px,#414487 44.5px,#414487 50.5px,#30698e 68.5px,#2a778e 71.5px,#1fa088 77.5px,#1fa187 78.5px,#218e8d 84.5px,#26828e 103.5px,#2d708e 114.5px,#3c508b 128.5px,#472f7d 137.5px,#482173 143.5px,#481a6c 161.5px,#481d6f 172.5px,#46307e 181.5px,#3a538b 191.5px,#26828e 200.5px,#24878e 202.5px,#2c718e 209.5px,#30698e 217.5px,#2f6c8e 264.5px,#2c738e 285.5px,#297a8e 288.5px,#1f948c 292.5px,#20928c 293.5px,#26828e 295.5px,#297a8e 297.5px,#2b758e 301.5px,#25848e 351.5px,#26818e 353.5px,#2a778e 355.5px,#365d8d 357.5px,#355e8d 372.5px)"></div>
<div class="r" style="background:linear-gradient(90deg,#355f8d 0.5px,#355e8d 41.5px,#38598c 44.5px,#404588 49.5px,#414487 56.5px,#3e4a89 60.5px,#31678e 71.5px,#2b758e 74.5px,#1e9d89 80.5px,#1fa188 82.5px,#1f948c 85.5px,#228c8d 89.5px,#26828e 108.5px,#2a788e 115.5px,#365d8d 128.5px,#3e4c8a 134.5px,#472e7c 142.5px,#482173 148.5px,#481769 170.5px,#48186a 176.5px,#482677 185.5px,#3e4a89 196.5px,#34618d 201.5px,#277f8e 206.5px,#23888e 209.5px,#2c728e 216.5px,#2f6b8e 222.5px,#2e6d8e 268.5px,#2c738e 282.5px,#297b8e 285.5px,#21918c 288.5px,#1f948c 289.5px,#287c8e 293.5px,#2b758e 297.5px,#2a768e 312.5px,#25848e 350.5px,#277e8e 353.5px,#2d708e 355.5px,#33628d 356.5px,#365d8d 357.5px,#355e8d 372.5px)"></div>
<div class="r" style="background:linear-gradient(90deg,#355f8d 0.5px,#355f8d 44.5px,#375b8d 48.5px,#404688 54.5px,#414487 62.5px,#3f4889 65.5px,#306a8e 75.5px,#24868e 80.5px,#1fa088 84.5px,#1fa188 85.5px,#218e8d 91.5px,#27808e 115.5px,#2f6b8e 127.5px,#375b8d 133.5px,#424086 142.5px,#482173 153.5px,#48186a 162.5px,#481668 171.5px,#481668 182.5px,#481d6f 189.5px,#46307e 196.5px,#3f4889 202.5px,#27808e 213.5px,#23898e 216.5px,#2c718e 224.5px,#2f6c8e 229.5px,#2f6b8e 241.5px,#2c718e 277.5px,#2a788e 281.5px,#20928c 285.5px,#20938c 286.5px,#297b8e 290.5px,#2b748e 295.5px,#25848e 348.5px,#277f8e 352.5px,#2c728e 354.5px,#365d8d 356.5px,#355e8d 372.5px)"></div>
<div class="r" style="background:linear-gradient(90deg,#355f8d 0.5px,#355f8d 49.5px,#38588c 54.5px,#404688 59.5px,#414487 67.5px,#3e4989 70.5px,#31688e 78.5px,#23898e 84.5px,#1fa188 88.5px,#228d8d 95.5px,#277f8e 121.5px,#2c738e 128.5px,#3a548c 140.5px,#443983 150.5px,#481d6f 161.5px,#471365 179.5px,#481467 191.5px,#481d6f 197.5px,#482979 201.5px,#3e4c8a 209.5px,#23898e 222.5px,#24878e 224.5px,#2c738e 230.5px,#2f6c8e 242.5px,#2c718e 274.5px,#29798e 278.5px,#20938c 282.5px,#20928c 283.5px,#26828e 285.5px,#297a8e 287.5px,#2b748e 291.5px,#2a768e 309.5px,#25848e 347.5px,#27808e 351.5px,#2b748e 353.5px,#365d8d 355.5px,#365d8d 372.5px)"></div>
<div class="r" style="background:linear-gradient(90deg,#355f8d 0.5px,#34608d 52.5px,#38598c 58.5px,#3f4788 63.5px,#414487 71.5px,#3f4889 74.5px,#3a538b 77.5px,#24868e 87.5px,#1f9f88 91.5px,#1fa188 92.5px,#228c8d 99.5px,#277e8e 127.5px,#39558c 145.5px,#443983 156.5px,#481c6e 167.5px,#471365 177.5px,#471063 187.5px,#471164 197.5px,#481d6f 204.5px,#404688 214.5px,#32658e 221.5px,#27808e 226.5px,#238a8d 229.5px,#2c728e 238.5px,#2f6c8e 249.5px,#2c718e 271.5px,#297a8e 275.5px,#20938c 279.5px,#29798e 284.5px,#2c738e 290.5px,#25848e 347.5px,#287c8e 351.5px,#2e6d8e 353.5px,#355e8d 354.5px,#365d8d 372.5px)"></div>
<div class="r" style="background:linear-gradient(90deg,#34608d 0.5px,#34608d 29.5px,#31668e 33.5px,#34608d 56.5px,#38598c 62.5px,#404688 68.5px,#414487 75.5px,#3f4889 78.5px,#3a548c 81.5px,#23898e 91.5px,#1fa088 95.5px,#20928c 99.5px,#23898e 106.5px,#287d8e 132.5px,#39558c 151.5px,#443983 162.5px,#482173 170.5px,#48186a 175.5px,#471164 182.5px,#470d60 195.5px,#470e61 202.5px,#481c6e 210.5px,#404688 220.5px,#32648e 227.5px,#238a8d 235.5px,#23898e 237.5px,#2c728e 244.5px,#2e6d8e 252.5px,#2c728e 269.5px,#297b8e 272.5px,#21918c 275.5px,#20928c 276.5px,#297a8e 280.5px,#2c738e 285.5px,#25848e 346.5px,#287d8e 350.5px,#365d8d 354.5px,#365d8d 372.5px)"></div>
<div class="r" style="background:linear-gradient(90deg,#34608d 0.5px,#34608d 29.5px,#2b748e 36.5px,#32648e 45.5px,#365c8d 65.5px,#404688 72.5px,#414487 79.5px,#3f4889 82.5px,#3a548c 85.5px,#20928c 96.5px,#1f9e89 98.5px,#1f9f88 99.5px,#20938c 102.5px,#238a8d 108.5px,#287c8e 138.5px,#3a548c 157.5px,#443983 168.5px,#482173 176.5px,#481769 181.5px,#460b5e 197.5px,#470e61 209.5px,#481d6f 217.5px,#404588 226.5px,#25858e 240.5px,#238a8d 242.5px,#2c718e 251.5px,#2e6d8e 260.5px,#2a778e 268.5px,#20928c 272.5px,#21908d 273.5px,#287c8e 276.5px,#2c738e 281.5px,#25848e 345.5px,#277f8e 349.5px,#2c728e 351.5px,#365d8d 353.5px,#365d8d 372.5px)"></div>
<div class="r" style="background:linear-gradient(90deg,#34608d 0.5px,#34608d 30.5px,#32648e 33.5px,#297a8e 38.5px,#287d8e 40.5px,#31688e 47.5px,#355f8d 66.5px,#38598c 70.5px,#3f4788 75.5px,#414487 83.5px,#3c508b 88.5px,#23898e 98.5px,#1f9f88 102.5px,#21918c 106.5px,#238a8d 111.5px,#297b8e 144.5px,#3a548c 163.5px,#433e85 173.5px,#481d6f 184.5px,#460b5e 197.5px,#460b5e 212.5px,#481467 220.5px,#463480 229.5px,#3e4c8a 234.5px,#238a8d 248.5px,#23888e 250.5px,#2c738e 256.5px,#2e6d8e 261.5px,#2a768e 265.5px,#21908d 269.5px,#29798e 273.5px,#2c728e 278.5px,#25848e 345.5px,#297b8e 349.5px,#365d8d 352.5px,#365d8d 372.5px)"></div>
<div class="r" style="background:linear-gradient(90deg,#34608d 0.5px,#34618d 32.5px,#32658e 36.5px,#287d8e 46.5px,#31688e 53.5px,#355f8d 70.5px,#375b8d 73.5px,#404588 80.5px,#404588 88.5px,#39558c 93.5px,#24868e 101.5px,#1f9a8a 104.5px,#1f9e89 106.5px,#218f8d 110.5px,#238a8d 114.5px,#26818e 142.5px,#297a8e 150.5px,#3a548c 169.5px,#443a83 181.5px,#481467 194.5px,#460b5e 201.5px,#460a5d 206.5px,#460b5e 220.5px,#481467 227.5px,#482979 233.5px,#3f4889 240.5px,#34608d 246.5px,#26818e 252.5px,#238a8d 255.5px,#25848e 257.5px,#2e6d8e 261.5px,#2e6e8e 262.5px,#23888e 265.5px,#23898e 266.5px,#2a788e 269.5px,#2c718e 272.5px,#25838e 345.5px,#287d8e 348.5px,#2e6e8e 350.5px,#355f8d 351.5px,#365d8d 352.5px,#365d8d 372.5px)"></div>
<div class="r" style="background:linear-gradient(90deg,#34608d 0.5px,#33638d 38.5px,#30698e 44.5px,#287d8e 51.5px,#31688e 59.5px,#365d8d 75.5px,#404688 83.5px,#404588 92.5px,#39568c 97.5px,#20928c 106.5px,#1f9e89 109.5px,#20928c 112.5px,#238a8d 117.5px,#297b8e 155.5px,#375b8d 170.5px,#3c508b 179.5px,#443983 188.5px,#481c6e 197.5px,#470e61 205.5px,#460a5d 211.5px,#460b5e 228.5px,#481467 234.5px,#424086 246.5px,#34608d 253.5px,#277e8e 258.5px,#277e8e 259.5px,#2e6f8e 261.5px,#2e6d8e 262.5px,#2b758e 264.5px,#2f6c8e 267.5px,#2f6b8e 272.5px,#25848e 342.5px,#277e8e 347.5px,#2d718e 349.5px,#33638d 350.5px,#365d8d 351.5px,#365d8d 372.5px)"></div>
<div class="r" style="background:linear-gradient(90deg,#34608d 0.5px,#33638d 44.5px,#30698e 50.5px,#287d8e 57.5px,#31668e 66.5px,#355e8d 78.5px,#3f4788 86.5px,#404588 95.5px,#3e4989 98.5px,#3b528b 100.5px,#218e8d 109.5px,#1f9e89 112.5px,#20928c 115.5px,#228b8d 119.5px,#27808e 154.5px,#29798e 162.5px,#2e6f8e 167.5px,#355f8d 171.5px,#365d8d 182.5px,#3a538b 184.5px,#443b84 194.5px,#481769 207.5px,#460a5d 217.5px,#460b5e 236.5px,#481f70 246.5px,#443b84 253.5px,#38588c 259.5px,#3a548c 263.5px,#32658e 274.5px,#2a778e 298.5px,#25848e 341.5px,#27808e 346.5px,#2c738e 348.5px,#365d8d 350.5px,#365d8d 372.5px)"></div>
<div class="r" style="background:linear-gradient(90deg,#34608d 0.5px,#33638d 50.5px,#31668e 54.5px,#287d8e 63.5px,#2f6b8e 69.5px,#365d8d 82.5px,#3f4788 90.5px,#404588 99.5px,#3f4788 101.5px,#3a548c 104.5px,#25838e 111.5px,#1e9d89 115.5px,#218e8d 120.5px,#238a8d 124.5px,#297b8e 165.5px,#31688e 169.5px,#32648e 171.5px,#31678e 177.5px,#2c738e 182.5px,#355e8d 184.5px,#375b8d 185.5px,#3b528b 192.5px,#443b84 202.5px,#471164 218.5px,#46085c 228.5px,#470e61 247.5px,#48186a 252.5px,#472d7b 258.5px,#46307e 262.5px,#404588 268.5px,#33628d 280.5px,#2a768e 299.5px,#25838e 342.5px,#287d8e 346.5px,#2f6b8e 348.5px,#365d8d 349.5px,#365d8d 372.5px)"></div>
<div class="r" style="background:linear-gradient(90deg,#34608d 0.5px,#33638d 56.5px,#31668e 60.5px,#287d8e 69.5px,#306a8e 75.5px,#355e8d 85.5px,#3f4889 93.5px,#404588 103.5px,#3f4889 105.5px,#39558c 108.5px,#218f8d 116.5px,#1e9b8a 118.5px,#1e9c89 119.5px,#218f8d 123.5px,#228b8d 126.5px,#27808e 164.5px,#306a8e 170.5px,#27808e 179.5px,#277f8e 180.5px,#2b758e 182.5px,#33628d 184.5px,#38588c 196.5px,#404588 207.5px,#453581 213.5px,#471365 225.5px,#46085c 234.5px,#460a5d 249.5px,#481467 263.5px,#482979 270.5px,#424086 276.5px,#34608d 287.5px,#2e6e8e 295.5px,#2b748e 302.5px,#25838e 340.5px,#277e8e 345.5px,#2e6f8e 347.5px,#355f8d 348.5px,#365d8d 349.5px,#365d8d 372.5px)"></div>
<div class="r" style="background:linear-gradient(90deg,#34608d 0.5px,#33628d 60.5px,#31668e 66.5px,#287d8e 75.5px,#31678e 82.5px,#365c8d 90.5px,#3f4788 98.5px,#404588 106.5px,#3f4889 109.5px,#3b518b 111.5px,#20928c 120.5px,#1e9b8a 122.5px,#228b8d 129.5px,#26828e 163.5px,#2b748e 168.5px,#27808e 173.5px,#30698e 178.5px,#2e6f8e 180.5px,#32658e 185.5px,#365d8d 202.5px,#3a548c 210.5px,#3e4c8a 215.5px,#443b84 221.5px,#481d6f 230.5px,#460b5e 239.5px,#460b5e 258.5px,#46075a 262.5px,#46085c 266.5px,#481467 273.5px,#472f7d 281.5px,#404688 287.5px,#31678e 298.5px,#2d718e 307.5px,#26828e 340.5px,#27808e 344.5px,#365d8d 348.5px,#365d8d 372.5px)"></div>
<div class="r" style="background:linear-gradient(90deg,#34608d 0.5px,#33628d 66.5px,#31668e 72.5px,#287d8e 80.5px,#31688e 87.5px,#38588c 96.5px,#3f4788 102.5px,#404588 110.5px,#3e4989 113.5px,#3b528b 115.5px,#228d8d 123.5px,#1f9a8a 126.5px,#228b8d 132.5px,#23898e 135.5px,#26828e 168.5px,#32658e 174.5px,#34608d 176.5px,#2f6c8e 181.5px,#355f8d 218.5px,#3d4e8a 226.5px,#433e85 231.5px,#482878 237.5px,#470e61 245.5px,#450559 262.5px,#450559 271.5px,#470e61 280.5px,#481c6e 286.5px,#433e85 294.5px,#3b528b 299.5px,#38598c 302.5px,#2e6e8e 315.5px,#2a778e 325.5px,#277f8e 338.5px,#297a8e 343.5px,#287d8e 344.5px,#365d8d 347.5px,#365d8d 372.5px)"></div>
<div class="r" style="background:linear-gradient(90deg,#34608d 0.5px,#33628d 73.5px,#306a8e 80.5px,#287d8e 86.5px,#31668e 93.5px,#375b8d 99.5px,#3e4989 105.5px,#404588 112.5px,#3d4e8a 118.5px,#31688e 122.5px,#1f948c 128.5px,#1f998a 130.5px,#23898e 138.5px,#25858e 150.5px,#23888e 163.5px,#26818e 165.5px,#31688e 169.5px,#34608d 172.5px,#2f6c8e 180.5px,#2f6b8e 198.5px,#2c728e 218.5px,#306a8e 229.5px,#365d8d 236.5px,#3e4c8a 241.5px,#404688 242.5px,#472c7a 244.5px,#482576 245.5px,#471164 253.5px,#450559 264.5px,#450559 284.5px,#470e61 291.5px,#453581 302.5px,#3e4c8a 309.5px,#32648e 320.5px,#2a788e 337.5px,#2b748e 343.5px,#2a778e 344.5px,#365d8d 346.5px,#365d8d 372.5px)"></div>
<div class="r" style="background:linear-gradient(90deg,#34608d 0.5px,#34618d 77.5px,#31678e 84.5px,#287c8e 92.5px,#32648e 99.5px,#3e4a89 109.5px,#404688 116.5px,#3f4889 120.5px,#3d4e8a 122.5px,#31678e 126.5px,#218f8d 131.5px,#1f998a 133.5px,#23898e 141.5px,#23898e 159.5px,#26828e 161.5px,#30698e 165.5px,#33628d 168.5px,#2e6d8e 180.5px,#2b748e 203.5px,#238a8d 227.5px,#1e9b8a 237.5px,#21908d 241.5px,#24868e 242.5px,#3d4e8a 244.5px,#404588 245.5px,#482979 254.5px,#460b5e 266.5px,#450457 284.5px,#450559 294.5px,#460b5e 299.5px,#482878 310.5px,#404588 319.5px,#38588c 326.5px,#2e6e8e 338.5px,#2f6b8e 343.5px,#2d718e 344.5px,#34608d 345.5px,#365d8d 346.5px,#365d8d 372.5px)"></div>
<div class="r" style="background:linear-gradient(90deg,#34608d 0.5px,#34618d 83.5px,#31668e 89.5px,#287d8e 97.5px,#3e4a89 114.5px,#3f4788 122.5px,#3e4a89 125.5px,#3b528b 127.5px,#31668e 130.5px,#21908d 135.5px,#1f988b 137.5px,#23888e 145.5px,#238a8d 155.5px,#32658e 163.5px,#31688e 176.5px,#2e6f8e 180.5px,#2c718e 192.5px,#2a778e 198.5px,#228b8d 212.5px,#1fa187 222.5px,#28ae80 225.5px,#4ec36b 229.5px,#60ca60 232.5px,#5ec962 233.5px,#4ec36b 235.5px,#26ad81 238.5px,#1e9d89 240.5px,#228b8d 242.5px,#34618d 244.5px,#375b8d 245.5px,#3e4c8a 253.5px,#443983 260.5px,#471365 273.5px,#450559 283.5px,#450457 301.5px,#460b5e 310.5px,#482677 321.5px,#424086 329.5px,#38598c 337.5px,#34618d 341.5px,#34608d 343.5px,#32658e 344.5px,#365d8d 345.5px,#365d8d 372.5px)"></div>
<div class="r" style="background:linear-gradient(90deg,#355f8d 0.5px,#34608d 86.5px,#31688e 96.5px,#287c8e 103.5px,#3d4e8a 117.5px,#3f4889 121.5px,#3f4889 126.5px,#3e4a89 129.5px,#3b518b 131.5px,#21908d 139.5px,#1f978b 141.5px,#228b8d 146.5px,#228b8d 151.5px,#30698e 159.5px,#2e6e8e 166.5px,#31678e 173.5px,#2d718e 180.5px,#2a788e 193.5px,#1e9c89 211.5px,#21a685 214.5px,#29af7f 216.5px,#3aba76 218.5px,#7cd250 223.5px,#81d34d 225.5px,#6ece58 227.5px,#37b878 231.5px,#26ad81 233.5px,#1e9c89 236.5px,#26828e 242.5px,#2f6b8e 244.5px,#31678e 245.5px,#375a8c 258.5px,#443b84 271.5px,#471063 285.5px,#450559 293.5px,#450559 313.5px,#471164 323.5px,#472e7c 333.5px,#39568c 343.5px,#355e8d 344.5px,#365d8d 372.5px)"></div>
<div class="r" style="background:linear-gradient(90deg,#355f8d 0.5px,#34608d 91.5px,#31668e 100.5px,#297b8e 107.5px,#287c8e 109.5px,#3b518b 121.5px,#3e4a89 125.5px,#3e4a89 131.5px,#3a538b 135.5px,#238a8d 142.5px,#20928c 144.5px,#228b8d 148.5px,#2e6e8e 154.5px,#2b748e 162.5px,#31688e 173.5px,#2c728e 178.5px,#297b8e 190.5px,#1e9d89 204.5px,#22a884 207.5px,#35b779 210.5px,#4ec36b 212.5px,#7cd250 215.5px,#8bd646 217.5px,#89d548 218.5px,#7fd34e 219.5px,#44bf70 223.5px,#2eb37c 225.5px,#23a983 227.5px,#1e9d89 230.5px,#26818e 242.5px,#2e6e8e 245.5px,#34608d 268.5px,#3e4c8a 278.5px,#46307e 286.5px,#48186a 293.5px,#450559 303.5px,#450559 318.5px,#470e61 328.5px,#482576 336.5px,#443b84 340.5px,#355e8d 344.5px,#365d8d 372.5px)"></div>
<div class="r" style="background:linear-gradient(90deg,#355f8d 0.5px,#34608d 96.5px,#31678e 106.5px,#297b8e 113.5px,#287c8e 115.5px,#3a548c 126.5px,#3c4f8a 132.5px,#38598c 137.5px,#31668e 139.5px,#26828e 142.5px,#25848e 143.5px,#277e8e 148.5px,#2b758e 150.5px,#277e8e 155.5px,#287d8e 159.5px,#2d718e 170.5px,#31688e 174.5px,#2b758e 178.5px,#25858e 190.5px,#1e9b8a 197.5px,#25ac82 201.5px,#34b679 203.5px,#7ad151 208.5px,#89d548 210.5px,#7ad151 212.5px,#42be71 216.5px,#2fb47c 218.5px,#1fa287 222.5px,#20938c 228.5px,#277f8e 242.5px,#2c718e 245.5px,#2e6f8e 268.5px,#33628d 282.5px,#3b518b 289.5px,#443b84 295.5px,#481467 304.5px,#46085c 309.5px,#46085c 324.5px,#471365 332.5px,#482979 338.5px,#443983 340.5px,#3b528b 342.5px,#355e8d 344.5px,#365d8d 372.5px)"></div>
<div class="r" style="background:linear-gradient(90deg,#355f8d 0.5px,#34608d 99.5px,#31668e 111.5px,#287c8e 121.5px,#33628d 129.5px,#365d8d 132.5px,#34608d 134.5px,#287c8e 138.5px,#277e8e 139.5px,#355f8d 143.5px,#375b8d 145.5px,#31668e 148.5px,#228b8d 152.5px,#20928c 154.5px,#25838e 160.5px,#2c728e 171.5px,#31688e 173.5px,#2d708e 176.5px,#29798e 177.5px,#25858e 185.5px,#1fa287 193.5px,#26ad81 195.5px,#37b878 197.5px,#63cb5f 200.5px,#7cd250 202.5px,#81d34d 203.5px,#7fd34e 204.5px,#69cd5b 206.5px,#40bd72 209.5px,#2eb37c 211.5px,#28ae80 212.5px,#1fa187 216.5px,#218f8d 226.5px,#277f8e 242.5px,#2c738e 245.5px,#2a768e 278.5px,#2d708e 288.5px,#375b8d 298.5px,#414287 303.5px,#482878 308.5px,#481769 312.5px,#460b5e 317.5px,#460b5e 326.5px,#481d6f 335.5px,#463480 339.5px,#3d4e8a 341.5px,#3a548c 343.5px,#355e8d 344.5px,#365d8d 372.5px)"></div>
<div class="r" style="background:linear-gradient(90deg,#355f8d 0.5px,#34608d 103.5px,#31688e 118.5px,#287d8e 127.5px,#287c8e 131.5px,#25838e 135.5px,#277f8e 136.5px,#365d8d 140.5px,#39558c 142.5px,#3b518b 147.5px,#38588c 150.5px,#2c718e 153.5px,#21918c 156.5px,#1f968b 157.5px,#1f968b 159.5px,#26828e 165.5px,#2a778e 171.5px,#30698e 173.5px,#2e6d8e 175.5px,#27808e 177.5px,#23898e 181.5px,#1fa188 187.5px,#25ac82 189.5px,#35b779 191.5px,#6ece58 195.5px,#7ad151 197.5px,#75d054 198.5px,#42be71 202.5px,#2fb47c 204.5px,#25ac82 206.5px,#1fa287 209.5px,#20928c 219.5px,#277f8e 242.5px,#2b758e 245.5px,#277f8e 280.5px,#277e8e 290.5px,#2a778e 298.5px,#30698e 303.5px,#3e4989 310.5px,#463480 314.5px,#481d6f 319.5px,#471164 325.5px,#471365 330.5px,#482071 335.5px,#472a7a 337.5px,#3a548c 341.5px,#3a548c 343.5px,#355e8d 344.5px,#365d8d 372.5px)"></div>
<div class="r" style="background:linear-gradient(90deg,#355f8d 0.5px,#34618d 108.5px,#2f6c8e 124.5px,#2b748e 127.5px,#24868e 131.5px,#26818e 133.5px,#31688e 138.5px,#31668e 141.5px,#3a548c 148.5px,#3b518b 153.5px,#38598c 155.5px,#218f8d 160.5px,#1f9a8a 162.5px,#26828e 170.5px,#287d8e 171.5px,#2e6d8e 172.5px,#30698e 174.5px,#2d718e 175.5px,#25848e 176.5px,#21908d 177.5px,#20a386 182.5px,#28ae80 184.5px,#31b57b 185.5px,#3bbb75 186.5px,#69cd5b 189.5px,#73d056 190.5px,#75d054 191.5px,#65cb5e 193.5px,#3dbc74 196.5px,#27ad81 199.5px,#20a486 202.5px,#1e9c89 206.5px,#20928c 214.5px,#26818e 239.5px,#2a778e 245.5px,#24868e 286.5px,#24868e 298.5px,#2a768e 307.5px,#365d8d 314.5px,#404588 319.5px,#472a7a 325.5px,#482071 330.5px,#482677 335.5px,#443a83 338.5px,#3a548c 340.5px,#3a548c 342.5px,#355e8d 343.5px,#365d8d 372.5px)"></div>
<div class="r" style="background:linear-gradient(90deg,#355f8d 0.5px,#34618d 109.5px,#306a8e 121.5px,#2c738e 124.5px,#25838e 127.5px,#26828e 128.5px,#30698e 132.5px,#33628d 134.5px,#2b748e 141.5px,#29798e 145.5px,#34618d 152.5px,#39568c 158.5px,#375b8d 160.5px,#33638d 161.5px,#23898e 164.5px,#1e9d89 167.5px,#1f958b 170.5px,#228c8d 171.5px,#2d718e 172.5px,#306a8e 173.5px,#306a8e 174.5px,#297b8e 175.5px,#1e9b8a 176.5px,#22a785 177.5px,#2cb17e 179.5px,#40bd72 181.5px,#5ec962 183.5px,#6ece58 185.5px,#6ccd5a 186.5px,#63cb5f 187.5px,#48c16e 189.5px,#2cb17e 192.5px,#20a486 196.5px,#1e9d89 200.5px,#20938c 208.5px,#277f8e 242.5px,#2a788e 246.5px,#228d8d 289.5px,#228d8d 302.5px,#277f8e 312.5px,#2d718e 317.5px,#39558c 324.5px,#424086 329.5px,#453781 333.5px,#443a83 336.5px,#3b528b 339.5px,#39558c 342.5px,#355e8d 343.5px,#365d8d 372.5px)"></div>
<div class="r" style="background:linear-gradient(90deg,#355f8d 0.5px,#34618d 107.5px,#2f6b8e 118.5px,#2c718e 120.5px,#26828e 123.5px,#277e8e 125.5px,#30698e 128.5px,#355f8d 131.5px,#29798e 154.5px,#32658e 165.5px,#2f6b8e 166.5px,#218f8d 168.5px,#1f978b 170.5px,#1f968b 171.5px,#2b758e 172.5px,#306a8e 173.5px,#306a8e 174.5px,#26818e 175.5px,#34b679 176.5px,#4ec36b 177.5px,#63cb5f 179.5px,#63cb5f 181.5px,#40bd72 184.5px,#29af7f 187.5px,#21a685 190.5px,#1e9d89 195.5px,#1f948c 203.5px,#26818e 240.5px,#297a8e 246.5px,#26828e 267.5px,#20928c 290.5px,#20928c 307.5px,#277f8e 320.5px,#3b518b 335.5px,#39568c 342.5px,#355e8d 343.5px,#365d8d 372.5px)"></div>
<div class="r" style="background:linear-gradient(90deg,#355f8d 0.5px,#34618d 104.5px,#306a8e 114.5px,#26828e 120.5px,#32648e 125.5px,#355f8d 128.5px,#2b758e 160.5px,#2b748e 166.5px,#25858e 168.5px,#238a8d 170.5px,#25838e 171.5px,#2e6e8e 172.5px,#306a8e 173.5px,#2f6b8e 174.5px,#228c8d 175.5px,#46c06f 176.5px,#48c16e 177.5px,#46c06f 178.5px,#29af7f 183.5px,#23a983 185.5px,#1e9c89 192.5px,#20928c 204.5px,#26818e 242.5px,#297b8e 246.5px,#26828e 264.5px,#1f988b 296.5px,#1f988b 308.5px,#20928c 317.5px,#277e8e 328.5px,#38598c 339.5px,#38598c 342.5px,#355e8d 343.5px,#365d8d 372.5px)"></div>
<div class="r" style="background:linear-gradient(90deg,#355f8d 0.5px,#34618d 101.5px,#2f6c8e 111.5px,#26818e 115.5px,#26828e 116.5px,#27808e 117.5px,#32658e 121.5px,#355e8d 124.5px,#32658e 131.5px,#2c718e 163.5px,#297a8e 170.5px,#2f6c8e 172.5px,#2f6b8e 174.5px,#26818e 175.5px,#32b67a 176.5px,#3bbb75 177.5px,#40bd72 179.5px,#3fbc73 180.5px,#22a884 186.5px,#1e9d89 192.5px,#20938c 202.5px,#277e8e 245.5px,#26828e 261.5px,#1e9c89 297.5px,#1e9c89 312.5px,#21918c 325.5px,#24878e 330.5px,#2a788e 334.5px,#365c8d 337.5px,#365d8d 372.5px)"></div>
<div class="r" style="background:linear-gradient(90deg,#355f8d 0.5px,#34618d 97.5px,#2f6c8e 107.5px,#26828e 112.5px,#26818e 113.5px,#2c718e 115.5px,#34618d 118.5px,#355e8d 120.5px,#32648e 126.5px,#2d718e 168.5px,#2f6b8e 173.5px,#2f6c8e 174.5px,#297a8e 175.5px,#1f998a 176.5px,#21a585 177.5px,#27ad81 179.5px,#3bbb75 182.5px,#42be71 184.5px,#29af7f 188.5px,#1fa187 192.5px,#20928c 205.5px,#277f8e 246.5px,#26828e 258.5px,#1f9f88 296.5px,#1f9e89 318.5px,#21908d 330.5px,#297b8e 334.5px,#33628d 336.5px,#365d8d 337.5px,#355e8d 372.5px)"></div>
<div class="r" style="background:linear-gradient(90deg,#355f8d 0.5px,#34618d 93.5px,#306a8e 102.5px,#26828e 108.5px,#27808e 109.5px,#34618d 114.5px,#355e8d 116.5px,#32648e 125.5px,#2e6f8e 168.5px,#2f6c8e 174.5px,#2c718e 175.5px,#25858e 176.5px,#21918c 177.5px,#20a386 182.5px,#28ae80 184.5px,#42be71 187.5px,#46c06f 188.5px,#26ad81 193.5px,#1fa287 196.5px,#20938c 207.5px,#26818e 246.5px,#23888e 264.5px,#1fa188 295.5px,#1fa188 320.5px,#1f9a8a 327.5px,#21908d 331.5px,#26828e 333.5px,#355e8d 336.5px,#355e8d 372.5px)"></div>
<div class="r" style="background:linear-gradient(90deg,#34608d 0.5px,#34618d 88.5px,#306a8e 98.5px,#26828e 104.5px,#306a8e 108.5px,#355e8d 111.5px,#2e6e8e 167.5px,#2f6c8e 173.5px,#2a768e 176.5px,#26828e 177.5px,#228c8d 181.5px,#1fa188 186.5px,#25ac82 188.5px,#48c16e 192.5px,#4ac16d 193.5px,#25ab82 198.5px,#1e9d89 203.5px,#20928c 212.5px,#26828e 248.5px,#23898e 262.5px,#1fa188 290.5px,#21a585 316.5px,#1fa188 324.5px,#1f988b 329.5px,#23898e 332.5px,#277e8e 333.5px,#355e8d 335.5px,#355e8d 372.5px)"></div>
<div class="r" style="background:linear-gradient(90deg,#34608d 0.5px,#34618d 84.5px,#2f6b8e 94.5px,#26828e 99.5px,#287d8e 101.5px,#33638d 105.5px,#365d8d 108.5px,#33638d 116.5px,#2e6d8e 174.5px,#2c738e 176.5px,#287c8e 177.5px,#228b8d 185.5px,#20a486 191.5px,#29af7f 193.5px,#48c16e 196.5px,#4ec36b 197.5px,#4cc26c 198.5px,#28ae80 202.5px,#21a685 204.5px,#1e9c89 208.5px,#20928c 216.5px,#25848e 248.5px,#238a8d 261.5px,#1e9b8a 281.5px,#21a585 294.5px,#22a884 315.5px,#1fa188 326.5px,#1f998a 329.5px,#25838e 332.5px,#355f8d 334.5px,#355e8d 372.5px)"></div>
<div class="r" style="background:linear-gradient(90deg,#34608d 0.5px,#34618d 79.5px,#306a8e 89.5px,#26828e 95.5px,#27808e 96.5px,#31668e 100.5px,#355e8d 103.5px,#2e6d8e 173.5px,#2c718e 176.5px,#297a8e 178.5px,#25858e 187.5px,#1fa287 195.5px,#2eb37c 198.5px,#50c46a 201.5px,#54c568 202.5px,#50c46a 203.5px,#38b977 205.5px,#27ad81 207.5px,#1e9d89 212.5px,#228d8d 228.5px,#24868e 248.5px,#228c8d 261.5px,#1e9b8a 278.5px,#22a884 295.5px,#23a983 318.5px,#20a386 325.5px,#1e9c89 328.5px,#20928c 330.5px,#23888e 331.5px,#31668e 333.5px,#355f8d 334.5px,#355e8d 372.5px)"></div>
<div class="r" style="background:linear-gradient(90deg,#34608d 0.5px,#33628d 77.5px,#30698e 84.5px,#25858e 91.5px,#26828e 92.5px,#32648e 96.5px,#355e8d 98.5px,#2e6d8e 172.5px,#25838e 190.5px,#1fa187 199.5px,#25ac82 201.5px,#2db27d 202.5px,#54c568 205.5px,#5cc863 206.5px,#5ac864 207.5px,#37b878 210.5px,#26ad81 212.5px,#1e9c89 217.5px,#218f8d 229.5px,#23888e 247.5px,#228c8d 258.5px,#1e9b8a 276.5px,#23a983 293.5px,#26ad81 304.5px,#25ab82 317.5px,#21a585 324.5px,#1e9b8a 328.5px,#228c8d 330.5px,#355f8d 333.5px,#355e8d 372.5px)"></div>
<div class="r" style="background:linear-gradient(90deg,#34608d 0.5px,#33638d 74.5px,#306a8e 80.5px,#2b758e 83.5px,#24878e 86.5px,#25838e 88.5px,#30698e 92.5px,#355f8d 95.5px,#2e6e8e 173.5px,#26828e 193.5px,#1f958b 200.5px,#20a486 204.5px,#2ab07f 206.5px,#60ca60 210.5px,#65cb5e 211.5px,#2ab07f 216.5px,#21a685 218.5px,#1e9b8a 222.5px,#218f8d 234.5px,#228b8d 251.5px,#20928c 265.5px,#1e9d89 276.5px,#25ab82 293.5px,#26ad81 315.5px,#22a785 323.5px,#1e9d89 327.5px,#21908d 329.5px,#25848e 330.5px,#355f8d 332.5px,#355e8d 372.5px)"></div>
<div class="r" style="background:linear-gradient(90deg,#34618d 0.5px,#33638d 69.5px,#2f6c8e 76.5px,#2c728e 78.5px,#23888e 82.5px,#2e6d8e 88.5px,#33628d 93.5px,#2e6e8e 172.5px,#287d8e 193.5px,#25858e 198.5px,#1e9b8a 206.5px,#20a386 208.5px,#29af7f 210.5px,#42be71 212.5px,#65cb5e 214.5px,#6ece58 215.5px,#69cd5b 216.5px,#2fb47c 220.5px,#23a983 222.5px,#1e9d89 226.5px,#20928c 234.5px,#228d8d 249.5px,#20938c 264.5px,#1e9d89 274.5px,#26ad81 294.5px,#26ad81 318.5px,#23a983 322.5px,#1e9b8a 327.5px,#23888e 329.5px,#2a788e 330.5px,#34608d 331.5px,#355e8d 372.5px)"></div>
<div class="r" style="background:linear-gradient(90deg,#34618d 0.5px,#33638d 63.5px,#2f6b8e 71.5px,#23888e 78.5px,#2c728e 82.5px,#2f6c8e 84.5px,#33628d 94.5px,#2e6e8e 170.5px,#277e8e 197.5px,#218e8d 206.5px,#1fa287 212.5px,#27ad81 214.5px,#31b57b 215.5px,#3fbc73 216.5px,#67cc5c 218.5px,#75d054 219.5px,#77d153 220.5px,#6ccd5a 221.5px,#38b977 224.5px,#2eb37c 225.5px,#20a486 228.5px,#1e9d89 231.5px,#20928c 240.5px,#21908d 252.5px,#1e9d89 273.5px,#26ad81 292.5px,#2ab07f 302.5px,#26ad81 319.5px,#21a585 324.5px,#1e9d89 326.5px,#228d8d 328.5px,#277e8e 329.5px,#31688e 330.5px,#355f8d 331.5px,#355e8d 372.5px)"></div>
<div class="r" style="background:linear-gradient(90deg,#34618d 0.5px,#32658e 62.5px,#2f6c8e 67.5px,#23888e 73.5px,#26828e 75.5px,#2d718e 78.5px,#30698e 81.5px,#33628d 93.5px,#2d708e 176.5px,#277e8e 201.5px,#23898e 208.5px,#1e9d89 215.5px,#21a685 217.5px,#2eb37c 219.5px,#3bbb75 220.5px,#77d153 223.5px,#81d34d 224.5px,#7fd34e 225.5px,#37b878 229.5px,#26ad81 231.5px,#1fa187 234.5px,#1f958b 243.5px,#20928c 254.5px,#1e9d89 271.5px,#26ad81 290.5px,#2cb17e 302.5px,#29af7f 315.5px,#25ac82 320.5px,#1fa088 325.5px,#21908d 327.5px,#34608d 330.5px,#355e8d 372.5px)"></div>
<div class="r" style="background:linear-gradient(90deg,#33628d 0.5px,#31668e 58.5px,#2c718e 64.5px,#24878e 68.5px,#23888e 69.5px,#2f6c8e 75.5px,#33638d 85.5px,#33638d 108.5px,#2e6f8e 172.5px,#297a8e 200.5px,#26828e 208.5px,#1e9c89 219.5px,#21a585 221.5px,#2cb17e 223.5px,#4ac16d 225.5px,#89d548 228.5px,#8ed645 229.5px,#84d44b 230.5px,#46c06f 233.5px,#38b977 234.5px,#27ad81 236.5px,#1fa287 239.5px,#1f978b 247.5px,#1f958b 255.5px,#1fa287 276.5px,#26ad81 288.5px,#2db27d 304.5px,#2ab07f 314.5px,#25ac82 320.5px,#1e9c89 325.5px,#24878e 327.5px,#34608d 329.5px,#355e8d 372.5px)"></div>
<div class="r" style="background:linear-gradient(90deg,#33628d 0.5px,#32658e 51.5px,#2e6e8e 58.5px,#23888e 64.5px,#2e6e8e 70.5px,#33638d 81.5px,#33638d 106.5px,#2e6f8e 171.5px,#287c8e 206.5px,#25848e 213.5px,#1e9c89 223.5px,#23a983 226.5px,#32b67a 228.5px,#42be71 229.5px,#86d549 232.5px,#95d840 233.5px,#95d840 234.5px,#89d548 235.5px,#4ac16d 238.5px,#3bbb75 239.5px,#29af7f 241.5px,#1fa287 245.5px,#1f9a8a 251.5px,#1f998a 260.5px,#1fa287 275.5px,#2cb17e 296.5px,#29af7f 316.5px,#22a785 322.5px,#1f9e89 324.5px,#228b8d 326.5px,#297b8e 327.5px,#33628d 328.5px,#34608d 329.5px,#355e8d 372.5px)"></div>
<div class="r" style="background:linear-gradient(90deg,#33628d 0.5px,#32658e 46.5px,#2f6b8e 52.5px,#2b748e 55.5px,#23888e 59.5px,#25838e 61.5px,#2c728e 64.5px,#30698e 68.5px,#33638d 78.5px,#32648e 111.5px,#2c718e 178.5px,#287c8e 209.5px,#23888e 219.5px,#1e9b8a 227.5px,#22a785 230.5px,#2eb37c 232.5px,#4cc26c 234.5px,#93d741 237.5px,#a2da37 238.5px,#a0da39 239.5px,#93d741 240.5px,#52c569 243.5px,#35b779 245.5px,#27ad81 247.5px,#1fa287 251.5px,#1e9d89 263.5px,#22a884 281.5px,#2cb17e 295.5px,#2cb17e 313.5px,#25ac82 319.5px,#1fa088 323.5px,#218f8d 325.5px,#27808e 326.5px,#306a8e 327.5px,#34608d 328.5px,#355e8d 372.5px)"></div>
<div class="r" style="background:linear-gradient(90deg,#33628d 0.5px,#32658e 42.5px,#2c728e 50.5px,#24878e 54.5px,#23888e 55.5px,#2b748e 59.5px,#31688e 64.5px,#33638d 75.5px,#32648e 109.5px,#2c718e 178.5px,#287c8e 212.5px,#238a8d 224.5px,#1e9d89 232.5px,#23a983 235.5px,#32b67a 237.5px,#52c569 239.5px,#9dd93b 242.5px,#aadc32 243.5px,#addc30 244.5px,#89d548 246.5px,#5ac864 248.5px,#3bbb75 250.5px,#26ad81 253.5px,#20a486 257.5px,#1fa187 269.5px,#2cb17e 294.5px,#2cb17e 313.5px,#25ac82 319.5px,#1e9c89 323.5px,#25848e 325.5px,#34608d 327.5px,#355e8d 372.5px)"></div>
<div class="r" style="background:linear-gradient(90deg,#33638d 0.5px,#31668e 40.5px,#2d708e 45.5px,#23888e 50.5px,#26828e 52.5px,#2c718e 55.5px,#306a8e 58.5px,#33638d 72.5px,#32648e 108.5px,#2c718e 178.5px,#287c8e 215.5px,#24878e 226.5px,#1e9c89 236.5px,#21a685 239.5px,#2ab07f 241.5px,#34b679 242.5px,#52c569 244.5px,#93d741 247.5px,#a2da37 248.5px,#a5db36 249.5px,#a0da39 250.5px,#90d743 251.5px,#65cb5e 253.5px,#44bf70 255.5px,#2cb17e 258.5px,#22a884 262.5px,#20a486 270.5px,#2eb37c 302.5px,#2ab07f 314.5px,#24aa83 319.5px,#1f9e89 322.5px,#23898e 324.5px,#34608d 326.5px,#355e8d 372.5px)"></div>
<div class="r" style="background:linear-gradient(90deg,#33638d 0.5px,#32658e 35.5px,#2f6c8e 40.5px,#25858e 45.5px,#24868e 46.5px,#2c738e 50.5px,#2f6b8e 53.5px,#33638d 69.5px,#32648e 106.5px,#2c718e 179.5px,#287d8e 219.5px,#24868e 229.5px,#1e9d89 241.5px,#25ab82 245.5px,#3aba76 248.5px,#58c765 250.5px,#8ed645 253.5px,#9bd93c 254.5px,#9dd93b 255.5px,#86d549 257.5px,#60ca60 259.5px,#3aba76 262.5px,#27ad81 266.5px,#23a983 270.5px,#2db27d 298.5px,#2cb17e 312.5px,#26ad81 317.5px,#1fa088 321.5px,#228d8d 323.5px,#287c8e 324.5px,#33638d 325.5px,#34608d 326.5px,#355e8d 372.5px)"></div>
<div class="r" style="background:linear-gradient(90deg,#33638d 0.5px,#32658e 32.5px,#2f6c8e 37.5px,#26818e 41.5px,#26828e 42.5px,#2c718e 46.5px,#30698e 50.5px,#33638d 67.5px,#32658e 111.5px,#29798e 212.5px,#25838e 230.5px,#1fa287 248.5px,#26ad81 251.5px,#32b67a 253.5px,#48c16e 255.5px,#86d549 259.5px,#90d743 261.5px,#89d548 262.5px,#50c46a 266.5px,#3bbb75 268.5px,#2db27d 271.5px,#26ad81 275.5px,#2db27d 309.5px,#25ac82 317.5px,#1fa187 320.5px,#21918c 322.5px,#26828e 323.5px,#2f6b8e 324.5px,#34608d 325.5px,#355e8d 372.5px)"></div>
<div class="r" style="background:linear-gradient(90deg,#32648e 0.5px,#32658e 29.5px,#306a8e 33.5px,#287c8e 38.5px,#306a8e 45.5px,#32648e 58.5px,#32648e 100.5px,#2c718e 179.5px,#277e8e 226.5px,#25848e 234.5px,#1e9c89 250.5px,#22a884 255.5px,#2db27d 258.5px,#3bbb75 260.5px,#7ad151 265.5px,#84d44b 267.5px,#75d054 269.5px,#50c46a 272.5px,#3dbc74 274.5px,#2eb37c 277.5px,#28ae80 281.5px,#2db27d 308.5px,#25ac82 316.5px,#1e9d89 320.5px,#25858e 322.5px,#34608d 324.5px,#355e8d 372.5px)"></div>
<div class="r" style="background:linear-gradient(90deg,#32648e 0.5px,#32658e 27.5px,#2b748e 34.5px,#31688e 42.5px,#32648e 55.5px,#32648e 97.5px,#2c718e 179.5px,#277e8e 228.5px,#23898e 241.5px,#1e9d89 255.5px,#22a785 260.5px,#2db27d 264.5px,#42be71 267.5px,#6ccd5a 271.5px,#73d056 272.5px,#73d056 274.5px,#40bd72 279.5px,#3aba76 280.5px,#2fb47c 283.5px,#2cb17e 287.5px,#2db27d 306.5px,#25ab82 316.5px,#1f9f88 319.5px,#1f968b 320.5px,#238a8d 321.5px,#34608d 323.5px,#355e8d 372.5px)"></div>
<div class="r" style="background:linear-gradient(90deg,#32648e 0.5px,#32658e 25.5px,#2e6e8e 30.5px,#32658e 45.5px,#32648e 95.5px,#2c718e 179.5px,#26828e 237.5px,#1e9d89 259.5px,#23a983 266.5px,#2ab07f 269.5px,#32b67a 271.5px,#5ac864 277.5px,#60ca60 279.5px,#5ec962 280.5px,#3aba76 286.5px,#2fb47c 290.5px,#2cb17e 308.5px,#23a983 316.5px,#1f998a 319.5px,#287d8e 321.5px,#32648e 322.5px,#34608d 323.5px,#355e8d 372.5px)"></div>
<div class="r" style="background:linear-gradient(90deg,#32648e 0.5px,#32658e 23.5px,#30698e 27.5px,#32648e 50.5px,#32648e 93.5px,#287c8e 226.5px,#25838e 240.5px,#1e9b8a 261.5px,#21a685 269.5px,#2ab07f 275.5px,#40bd72 281.5px,#54c568 285.5px,#52c569 286.5px,#38b977 292.5px,#31b57b 295.5px,#25ac82 314.5px,#1e9b8a 318.5px,#21918c 319.5px,#26828e 320.5px,#2f6c8e 321.5px,#34608d 322.5px,#355e8d 372.5px)"></div>
<div class="r" style="background:linear-gradient(90deg,#32658e 0.5px,#32658e 101.5px,#287c8e 226.5px,#24868e 245.5px,#1fa187 269.5px,#2ab07f 281.5px,#46c06f 290.5px,#48c16e 292.5px,#35b779 299.5px,#22a785 315.5px,#1e9d89 317.5px,#20938c 318.5px,#24868e 319.5px,#34608d 321.5px,#355e8d 372.5px)"></div>
<div class="r" style="background:linear-gradient(90deg,#32658e 0.5px,#32658e 100.5px,#297b8e 223.5px,#25858e 245.5px,#1fa287 272.5px,#26ad81 283.5px,#3fbc73 297.5px,#3dbc74 301.5px,#2ab07f 306.5px,#25ab82 313.5px,#20a486 315.5px,#1f9f88 316.5px,#238a8d 318.5px,#34608d 320.5px,#355e8d 372.5px)"></div>
<div class="r" style="background:linear-gradient(90deg,#32658e 0.5px,#32648e 88.5px,#2a788e 214.5px,#25838e 243.5px,#1e9d89 268.5px,#23a983 282.5px,#37b878 303.5px,#2ab07f 306.5px,#26ad81 311.5px,#1fa188 315.5px,#218e8d 317.5px,#277e8e 318.5px,#32658e 319.5px,#34608d 320.5px,#355e8d 372.5px)"></div>
<div class="r" style="background:linear-gradient(90deg,#32658e 0.5px,#32658e 99.5px,#29798e 218.5px,#25858e 246.5px,#1e9d89 269.5px,#26ad81 287.5px,#2eb37c 303.5px,#26ad81 310.5px,#1fa187 314.5px,#20928c 316.5px,#2f6c8e 318.5px,#355f8d 319.5px,#355e8d 372.5px)"></div>
<div class="r" style="background:linear-gradient(90deg,#32658e 0.5px,#32648e 88.5px,#2a788e 214.5px,#25838e 243.5px,#1e9b8a 268.5px,#25ac82 287.5px,#29af7f 303.5px,#25ac82 310.5px,#1e9d89 314.5px,#24868e 316.5px,#355f8d 318.5px,#355e8d 372.5px)"></div>
<div class="r" style="background:linear-gradient(90deg,#32658e 0.5px,#32648e 88.5px,#2a768e 205.5px,#25848e 244.5px,#1e9b8a 268.5px,#25ab82 286.5px,#26ad81 308.5px,#1f9f88 313.5px,#238a8d 315.5px,#2a788e 316.5px,#355f8d 317.5px,#355e8d 372.5px)"></div>
<div class="r" style="background:linear-gradient(90deg,#32658e 0.5px,#32648e 88.5px,#2b758e 200.5px,#26828e 239.5px,#1e9b8a 267.5px,#25ac82 287.5px,#26ad81 307.5px,#1fa088 312.5px,#218e8d 314.5px,#277e8e 315.5px,#32658e 316.5px,#355f8d 317.5px,#365d8d 372.5px)"></div>
<div class="r" style="background:linear-gradient(90deg,#32658e 0.5px,#32648e 87.5px,#2c738e 190.5px,#25838e 238.5px,#1e9b8a 262.5px,#22a785 277.5px,#26ad81 305.5px,#22a884 309.5px,#1f9a8a 312.5px,#21918c 313.5px,#26828e 314.5px,#2f6c8e 315.5px,#355f8d 316.5px,#365d8d 372.5px)"></div>
<div class="r" style="background:linear-gradient(90deg,#31668e 0.5px,#33638d 71.5px,#2c718e 180.5px,#26828e 230.5px,#1e9b8a 254.5px,#1fa188 260.5px,#20a386 278.5px,#25ab82 290.5px,#26ad81 303.5px,#22a884 308.5px,#1e9c89 311.5px,#24868e 313.5px,#355f8d 315.5px,#365d8d 372.5px)"></div>
<div class="r" style="background:linear-gradient(90deg,#31678e 0.5px,#33638d 65.5px,#2c718e 175.5px,#26828e 219.5px,#1f9f88 247.5px,#1e9b8a 266.5px,#26ad81 301.5px,#22a884 307.5px,#1e9d89 310.5px,#238a8d 312.5px,#2a788e 313.5px,#355e8d 314.5px,#365d8d 372.5px)"></div>
<div class="r" style="background:linear-gradient(90deg,#30698e 0.5px,#32648e 71.5px,#2c718e 168.5px,#26828e 206.5px,#1e9d89 230.5px,#1e9c89 238.5px,#20928c 250.5px,#20928c 258.5px,#1e9d89 275.5px,#23a983 290.5px,#25ac82 301.5px,#22a884 306.5px,#1f9f88 309.5px,#228d8d 311.5px,#287d8e 312.5px,#32658e 313.5px,#355e8d 314.5px,#365d8d 372.5px)"></div>
<div class="r" style="background:linear-gradient(90deg,#2f6c8e 0.5px,#32658e 63.5px,#2c718e 157.5px,#26828e 189.5px,#1e9d89 214.5px,#1e9d89 219.5px,#228c8d 237.5px,#238a8d 248.5px,#1e9d89 276.5px,#22a785 288.5px,#25ab82 301.5px,#20a386 307.5px,#1f998a 309.5px,#26828e 311.5px,#2f6c8e 312.5px,#355e8d 313.5px,#365d8d 372.5px)"></div>
<div class="r" style="background:linear-gradient(90deg,#2c718e 0.5px,#31688e 45.5px,#2c718e 141.5px,#287d8e 165.5px,#1f9e89 196.5px,#1e9d89 202.5px,#25858e 226.5px,#25838e 238.5px,#23888e 252.5px,#1e9b8a 275.5px,#21a685 288.5px,#24aa83 300.5px,#22a785 304.5px,#1f9a8a 308.5px,#25858e 310.5px,#355e8d 312.5px,#365c8d 372.5px)"></div>
<div class="r" style="background:linear-gradient(90deg,#287d8e 0.5px,#2e6e8e 48.5px,#2a768e 128.5px,#26828e 151.5px,#1f9f88 176.5px,#1f9e89 182.5px,#25838e 207.5px,#277f8e 232.5px,#25858e 250.5px,#1e9b8a 277.5px,#23a983 299.5px,#21a585 304.5px,#1e9b8a 307.5px,#23898e 309.5px,#2a788e 310.5px,#355e8d 311.5px,#365c8d 372.5px)"></div>
<div class="r" style="background:linear-gradient(90deg,#20938c 0.5px,#228c8d 21.5px,#287c8e 48.5px,#287c8e 59.5px,#24868e 118.5px,#228c8d 131.5px,#1fa088 153.5px,#1fa188 160.5px,#26828e 186.5px,#297b8e 201.5px,#297a8e 220.5px,#25848e 250.5px,#1fa287 285.5px,#22a785 301.5px,#1fa188 305.5px,#1f958b 307.5px,#287d8e 309.5px,#32658e 310.5px,#365d8d 311.5px,#365c8d 372.5px)"></div>
<div class="r" style="background:linear-gradient(90deg,#3bbb75 0.5px,#2eb37c 22.5px,#22a884 33.5px,#1f998a 49.5px,#1fa187 120.5px,#21a585 126.5px,#20a386 135.5px,#1e9b8a 145.5px,#26828e 165.5px,#2a768e 189.5px,#2a768e 210.5px,#277e8e 239.5px,#1e9b8a 278.5px,#21a685 300.5px,#1fa188 304.5px,#1f978b 306.5px,#26818e 308.5px,#365d8d 310.5px,#365c8d 372.5px)"></div>
<div class="r" style="background:linear-gradient(90deg,#58c765 0.5px,#50c46a 2.5px,#4ac16d 15.5px,#3dbc74 26.5px,#29af7f 36.5px,#1fa187 47.5px,#1f9e89 69.5px,#238a8d 118.5px,#228d8d 126.5px,#2b748e 166.5px,#2c728e 195.5px,#26828e 249.5px,#1fa188 286.5px,#21a585 299.5px,#1fa188 303.5px,#1f988b 305.5px,#25848e 307.5px,#365d8d 309.5px,#365c8d 372.5px)"></div>
<div class="r" style="background:linear-gradient(90deg,#277f8e 0.5px,#287c8e 22.5px,#2e6e8e 48.5px,#2e6e8e 110.5px,#2c718e 117.5px,#297a8e 123.5px,#2b758e 128.5px,#2c718e 147.5px,#2c718e 200.5px,#25838e 251.5px,#1fa188 286.5px,#20a486 298.5px,#1fa088 302.5px,#20928c 305.5px,#2a778e 307.5px,#365d8d 308.5px,#365c8d 372.5px)"></div>
<div class="r" style="background:linear-gradient(90deg,#3c4f8a 0.5px,#3d4e8a 51.5px,#375b8d 109.5px,#2e6d8e 119.5px,#287c8e 124.5px,#2e6f8e 128.5px,#2e6d8e 138.5px,#2e6d8e 172.5px,#2b748e 216.5px,#26828e 250.5px,#1f948c 273.5px,#1fa088 286.5px,#20a386 295.5px,#1fa088 301.5px,#1f998a 303.5px,#238a8d 305.5px,#297b8e 306.5px,#32658e 307.5px,#365c8d 308.5px,#375b8d 372.5px)"></div>
<div class="r" style="background:linear-gradient(90deg,#414487 0.5px,#404588 48.5px,#3a548c 107.5px,#31678e 116.5px,#2b748e 119.5px,#20928c 123.5px,#1f948c 124.5px,#228d8d 125.5px,#2c728e 127.5px,#2f6b8e 128.5px,#2f6b8e 163.5px,#2a788e 229.5px,#25838e 252.5px,#1fa188 289.5px,#1fa188 299.5px,#1e9d89 301.5px,#228c8d 304.5px,#365c8d 307.5px,#375b8d 372.5px)"></div>
<div class="r" style="background:linear-gradient(90deg,#414287 0.5px,#404688 62.5px,#3b528b 104.5px,#375b8d 110.5px,#31668e 113.5px,#2a788e 116.5px,#1f9f88 120.5px,#1fa287 121.5px,#1f9a8a 123.5px,#2c728e 126.5px,#31688e 129.5px,#2f6c8e 179.5px,#2b758e 221.5px,#25838e 252.5px,#1f9f88 287.5px,#1fa188 297.5px,#1f9a8a 301.5px,#218e8d 303.5px,#26828e 304.5px,#365c8d 306.5px,#375b8d 372.5px)"></div>
<div class="r" style="background:linear-gradient(90deg,#424186 0.5px,#3f4788 66.5px,#3b518b 99.5px,#39558c 103.5px,#32658e 109.5px,#29798e 112.5px,#1e9b8a 115.5px,#1fa187 116.5px,#1e9b8a 118.5px,#23888e 120.5px,#287c8e 122.5px,#31678e 129.5px,#2b758e 221.5px,#25838e 252.5px,#1f9e89 287.5px,#1fa088 296.5px,#1e9d89 299.5px,#21908d 302.5px,#2a768e 304.5px,#365d8d 305.5px,#365c8d 306.5px,#375b8d 372.5px)"></div>
<div class="r" style="background:linear-gradient(90deg,#424086 0.5px,#404588 11.5px,#3e4a89 73.5px,#3b528b 97.5px,#375a8c 102.5px,#32648e 105.5px,#29798e 108.5px,#20928c 110.5px,#20a386 112.5px,#1fa187 113.5px,#228c8d 115.5px,#2c718e 118.5px,#31678e 128.5px,#2b748e 217.5px,#25838e 252.5px,#1e9d89 286.5px,#1f9f88 296.5px,#1f9a8a 299.5px,#21918c 301.5px,#23888e 302.5px,#297a8e 303.5px,#32658e 304.5px,#375b8d 305.5px,#375b8d 372.5px)"></div>
<div class="r" style="background:linear-gradient(90deg,#443983 0.5px,#404688 15.5px,#3e4a89 69.5px,#3b518b 93.5px,#39568c 97.5px,#31688e 102.5px,#29798e 104.5px,#20928c 106.5px,#1f9e89 107.5px,#20a386 108.5px,#1fa188 109.5px,#1f958b 110.5px,#2c738e 113.5px,#34618d 117.5px,#30698e 124.5px,#30698e 159.5px,#2b758e 220.5px,#25838e 252.5px,#1e9d89 287.5px,#1f9e89 295.5px,#1f9a8a 298.5px,#20928c 300.5px,#277e8e 302.5px,#375b8d 304.5px,#375b8d 372.5px)"></div>
<div class="r" style="background:linear-gradient(90deg,#443983 0.5px,#453781 4.5px,#404688 18.5px,#3e4a89 69.5px,#3b528b 91.5px,#375a8c 95.5px,#31678e 98.5px,#2a768e 100.5px,#1e9d89 103.5px,#20a386 104.5px,#1fa188 105.5px,#287c8e 108.5px,#2f6b8e 110.5px,#34618d 112.5px,#38598c 116.5px,#31688e 125.5px,#2f6b8e 173.5px,#2a788e 227.5px,#25838e 252.5px,#1e9d89 289.5px,#1e9d89 294.5px,#1f978b 298.5px,#228c8d 300.5px,#26818e 301.5px,#375b8d 303.5px,#375a8c 372.5px)"></div>
<div class="r" style="background:linear-gradient(90deg,#424186 0.5px,#453781 11.5px,#414487 20.5px,#3f4788 26.5px,#3c4f8a 84.5px,#39568c 90.5px,#32648e 94.5px,#2c738e 96.5px,#1f9a8a 99.5px,#1fa287 100.5px,#1fa187 101.5px,#287c8e 104.5px,#32658e 107.5px,#375a8c 110.5px,#3a548c 114.5px,#31688e 125.5px,#2c738e 211.5px,#26828e 250.5px,#1e9c89 288.5px,#1e9c89 294.5px,#20938c 298.5px,#25838e 300.5px,#2b758e 301.5px,#365d8d 302.5px,#375b8d 303.5px,#375a8c 372.5px)"></div>
<div class="r" style="background:linear-gradient(90deg,#404688 0.5px,#453781 17.5px,#404688 28.5px,#3c4f8a 81.5px,#3a548c 86.5px,#34618d 90.5px,#29798e 93.5px,#1f958b 95.5px,#1fa188 96.5px,#1fa287 97.5px,#1f9a8a 98.5px,#2c738e 101.5px,#32658e 103.5px,#39558c 108.5px,#3b518b 113.5px,#3a548c 116.5px,#31688e 124.5px,#2c738e 209.5px,#25838e 251.5px,#1e9c89 290.5px,#1f998a 295.5px,#218f8d 298.5px,#24868e 299.5px,#29798e 300.5px,#32648e 301.5px,#375b8d 302.5px,#375a8c 372.5px)"></div>
<div class="r" style="background:linear-gradient(90deg,#3f4889 0.5px,#404588 10.5px,#453781 22.5px,#404688 33.5px,#3c4f8a 78.5px,#3a548c 83.5px,#33638d 87.5px,#2c728e 89.5px,#1e9c89 92.5px,#20a386 93.5px,#1f9f88 94.5px,#2a778e 97.5px,#34618d 100.5px,#3a548c 105.5px,#3c508b 110.5px,#3b528b 115.5px,#32658e 121.5px,#30698e 124.5px,#2b748e 210.5px,#26828e 249.5px,#1e9b8a 288.5px,#1f998a 294.5px,#21908d 297.5px,#287d8e 299.5px,#375a8c 301.5px,#375a8c 372.5px)"></div>
<div class="r" style="background:linear-gradient(90deg,#3e4989 0.5px,#404588 16.5px,#453781 27.5px,#404588 36.5px,#3c4f8a 75.5px,#39558c 80.5px,#32648e 84.5px,#2b758e 86.5px,#1fa088 89.5px,#1fa287 90.5px,#1f998a 91.5px,#2d718e 94.5px,#33638d 96.5px,#3a548c 101.5px,#3c4f8a 109.5px,#3b518b 114.5px,#31678e 121.5px,#306a8e 125.5px,#2b748e 208.5px,#26828e 248.5px,#1f948c 282.5px,#1f9a8a 286.5px,#1f9a8a 291.5px,#21918c 296.5px,#27808e 298.5px,#375a8c 300.5px,#375a8c 372.5px)"></div>
<div class="r" style="background:linear-gradient(90deg,#3e4989 0.5px,#404588 22.5px,#453781 32.5px,#404688 42.5px,#3a538b 76.5px,#32658e 81.5px,#2a778e 83.5px,#1f968b 85.5px,#1fa187 86.5px,#1fa188 87.5px,#1f948c 88.5px,#2a778e 90.5px,#34608d 93.5px,#39558c 97.5px,#3c4f8a 105.5px,#3b518b 114.5px,#32648e 119.5px,#2f6b8e 124.5px,#2b758e 208.5px,#25838e 249.5px,#1f948c 283.5px,#1f9a8a 287.5px,#20928c 295.5px,#26828e 297.5px,#2b748e 298.5px,#365d8d 299.5px,#375a8c 300.5px,#375a8c 372.5px)"></div>
<div class="r" style="background:linear-gradient(90deg,#3e4a89 0.5px,#404688 26.5px,#453781 37.5px,#3f4788 47.5px,#3a538b 73.5px,#32658e 78.5px,#2a788e 80.5px,#1f988b 82.5px,#1fa287 83.5px,#1f9f88 84.5px,#2c738e 87.5px,#375b8d 91.5px,#3b518b 97.5px,#3d4e8a 106.5px,#3c4f8a 112.5px,#31668e 119.5px,#2f6c8e 124.5px,#2a768e 208.5px,#25848e 250.5px,#20938c 282.5px,#1f998a 286.5px,#1f998a 290.5px,#20928c 294.5px,#25848e 296.5px,#2a788e 297.5px,#32648e 298.5px,#375a8c 299.5px,#375a8c 372.5px)"></div>
<div class="r" style="background:linear-gradient(90deg,#3e4a89 0.5px,#3f4788 29.5px,#453781 41.5px,#3f4889 52.5px,#3b518b 69.5px,#39568c 72.5px,#32648e 75.5px,#2a788e 77.5px,#1f988b 79.5px,#1fa287 80.5px,#1e9d89 81.5px,#2c718e 84.5px,#33628d 86.5px,#39558c 90.5px,#3c4f8a 98.5px,#3c508b 112.5px,#31668e 118.5px,#2e6d8e 123.5px,#2a768e 204.5px,#25838e 246.5px,#20938c 283.5px,#1f998a 286.5px,#1f978b 291.5px,#218e8d 294.5px,#287c8e 296.5px,#375a8c 298.5px,#38598c 372.5px)"></div>
<div class="r" style="background:linear-gradient(90deg,#3e4a89 0.5px,#3f4788 35.5px,#443a83 43.5px,#443983 47.5px,#404688 53.5px,#39568c 69.5px,#2f6c8e 73.5px,#2a778e 74.5px,#1f978b 76.5px,#1fa187 77.5px,#1e9c89 78.5px,#2d718e 81.5px,#365d8d 84.5px,#39558c 87.5px,#3c4f8a 97.5px,#3b518b 112.5px,#30698e 118.5px,#2e6f8e 124.5px,#2a788e 207.5px,#20928c 283.5px,#1f998a 286.5px,#1f978b 290.5px,#21908d 293.5px,#277f8e 295.5px,#2d708e 296.5px,#38598c 297.5px,#38598c 372.5px)"></div>
<div class="r" style="background:linear-gradient(90deg,#3d4d8a 0.5px,#3f4889 40.5px,#443a83 48.5px,#443983 51.5px,#365c8d 68.5px,#2b748e 71.5px,#1f948c 73.5px,#1fa088 74.5px,#1e9c89 75.5px,#2d718e 78.5px,#34618d 80.5px,#39558c 84.5px,#3c4f8a 94.5px,#3c4f8a 110.5px,#39568c 113.5px,#2f6b8e 118.5px,#2d708e 122.5px,#2a768e 194.5px,#20928c 283.5px,#1f998a 286.5px,#21918c 292.5px,#26828e 294.5px,#2b748e 295.5px,#365d8d 296.5px,#38598c 297.5px,#38598c 372.5px)"></div>
<div class="r" style="background:linear-gradient(90deg,#3d4d8a 0.5px,#3e4a89 42.5px,#414487 49.5px,#443983 55.5px,#3c508b 63.5px,#355e8d 66.5px,#2d708e 68.5px,#1e9c89 71.5px,#1e9b8a 72.5px,#2d718e 75.5px,#31678e 76.5px,#365d8d 78.5px,#39558c 81.5px,#3c4f8a 92.5px,#3c508b 110.5px,#2f6c8e 117.5px,#2d718e 120.5px,#297a8e 206.5px,#21918c 281.5px,#1f988b 286.5px,#1f988b 288.5px,#228d8d 292.5px,#2a788e 294.5px,#32648e 295.5px,#38598c 296.5px,#38598c 372.5px)"></div>
<div class="r" style="background:linear-gradient(90deg,#3d4e8a 0.5px,#3e4c8a 46.5px,#404688 53.5px,#443b84 57.5px,#443b84 59.5px,#3c4f8a 63.5px,#33628d 65.5px,#21918c 68.5px,#1f948c 69.5px,#2d708e 72.5px,#365c8d 75.5px,#3a538b 79.5px,#3c4f8a 90.5px,#3c508b 109.5px,#2d718e 118.5px,#29798e 197.5px,#21918c 284.5px,#1f988b 286.5px,#218e8d 291.5px,#287c8e 293.5px,#38598c 295.5px,#38598c 372.5px)"></div>
<div class="r" style="background:linear-gradient(90deg,#3d4e8a 0.5px,#3d4e8a 48.5px,#3e4c8a 56.5px,#414487 62.5px,#3f4889 63.5px,#2c718e 66.5px,#2c738e 67.5px,#365c8d 71.5px,#3a538b 75.5px,#3d4e8a 105.5px,#3a548c 110.5px,#2f6c8e 115.5px,#2c738e 119.5px,#297a8e 197.5px,#218f8d 283.5px,#1f988b 286.5px,#1f968b 288.5px,#23898e 291.5px,#27808e 292.5px,#2d708e 293.5px,#38598c 294.5px,#38598c 372.5px)"></div>
<div class="r" style="background:linear-gradient(90deg,#3c4f8a 0.5px,#3b518b 53.5px,#39568c 57.5px,#355e8d 59.5px,#2c728e 62.5px,#2c718e 63.5px,#3e4989 66.5px,#404588 68.5px,#3c4f8a 75.5px,#3c4f8a 106.5px,#39568c 110.5px,#2d708e 115.5px,#2b758e 120.5px,#29798e 186.5px,#25838e 238.5px,#218e8d 284.5px,#1f978b 286.5px,#228b8d 290.5px,#2b748e 292.5px,#355e8d 293.5px,#38598c 294.5px,#38598c 372.5px)"></div>
<div class="r" style="background:linear-gradient(90deg,#3c508b 0.5px,#3c4f8a 42.5px,#39568c 53.5px,#306a8e 57.5px,#20928c 60.5px,#20928c 61.5px,#33638d 64.5px,#3c508b 66.5px,#443b84 70.5px,#3d4e8a 80.5px,#3c4f8a 106.5px,#39558c 109.5px,#2d708e 114.5px,#2a768e 118.5px,#297a8e 190.5px,#228b8d 283.5px,#1f978b 286.5px,#218e8d 289.5px,#29798e 291.5px,#32658e 292.5px,#38588c 293.5px,#38588c 372.5px)"></div>
<div class="r" style="background:linear-gradient(90deg,#3b518b 0.5px,#3c4f8a 41.5px,#39568c 50.5px,#31678e 54.5px,#2d718e 55.5px,#20928c 57.5px,#1f9e89 58.5px,#1f958b 59.5px,#2c728e 61.5px,#34608d 63.5px,#39568c 65.5px,#443a83 74.5px,#3d4d8a 82.5px,#3c508b 106.5px,#3a548c 108.5px,#2d718e 113.5px,#2a788e 116.5px,#297a8e 189.5px,#23888e 283.5px,#23898e 284.5px,#1f958b 286.5px,#21908d 288.5px,#23888e 289.5px,#287d8e 290.5px,#38588c 292.5px,#38588c 372.5px)"></div>
<div class="r" style="background:linear-gradient(90deg,#3b528b 0.5px,#3c508b 41.5px,#39568c 47.5px,#355f8d 50.5px,#2f6b8e 52.5px,#2a778e 53.5px,#1e9b8a 55.5px,#1fa088 56.5px,#20928c 57.5px,#2d708e 59.5px,#34608d 61.5px,#3a548c 65.5px,#3e4c8a 71.5px,#443b84 77.5px,#3d4e8a 86.5px,#3c508b 105.5px,#38588c 108.5px,#2b758e 113.5px,#297a8e 115.5px,#29798e 184.5px,#26828e 243.5px,#25838e 283.5px,#25848e 284.5px,#20938c 286.5px,#20928c 287.5px,#26818e 289.5px,#2d718e 290.5px,#38588c 291.5px,#38588c 372.5px)"></div>
<div class="r" style="background:linear-gradient(90deg,#3a538b 0.5px,#3a538b 43.5px,#31668e 49.5px,#287d8e 51.5px,#1fa188 53.5px,#1f9e89 54.5px,#297a8e 56.5px,#2e6e8e 57.5px,#365c8d 60.5px,#3d4d8a 74.5px,#443b84 81.5px,#3e4a89 86.5px,#3c4f8a 90.5px,#3a538b 106.5px,#297a8e 113.5px,#287d8e 115.5px,#2a788e 118.5px,#2a788e 186.5px,#277e8e 236.5px,#287c8e 283.5px,#287d8e 284.5px,#21918c 286.5px,#218e8d 287.5px,#25848e 288.5px,#2b758e 289.5px,#355e8d 290.5px,#38588c 291.5px,#38588c 372.5px)"></div>
<div class="r" style="background:linear-gradient(90deg,#39558c 0.5px,#3a548c 43.5px,#2c728e 48.5px,#1f958b 50.5px,#20a386 51.5px,#1f9a8a 52.5px,#2a768e 54.5px,#34608d 57.5px,#39568c 62.5px,#3d4d8a 78.5px,#433d84 84.5px,#3d4d8a 90.5px,#3a538b 105.5px,#34608d 108.5px,#297a8e 112.5px,#277f8e 114.5px,#2a778e 118.5px,#2a778e 241.5px,#306a8e 283.5px,#2f6c8e 284.5px,#228d8d 286.5px,#24878e 287.5px,#297a8e 288.5px,#38588c 290.5px,#38588c 372.5px)"></div>
<div class="r" style="background:linear-gradient(90deg,#38598c 0.5px,#39568c 43.5px,#31668e 45.5px,#1e9b8a 48.5px,#20a486 49.5px,#1f978b 50.5px,#2b748e 52.5px,#34618d 55.5px,#39568c 64.5px,#3d4e8a 82.5px,#433e85 87.5px,#3c4f8a 93.5px,#39568c 105.5px,#26828e 113.5px,#27808e 115.5px,#2b758e 118.5px,#2d718e 206.5px,#2f6c8e 230.5px,#39558c 267.5px,#3b518b 282.5px,#39568c 284.5px,#24868e 286.5px,#277f8e 287.5px,#38588c 289.5px,#38588c 372.5px)"></div>
<div class="r" style="background:linear-gradient(90deg,#355e8d 0.5px,#375b8d 43.5px,#34608d 44.5px,#2b748e 45.5px,#1f958b 46.5px,#20a486 47.5px,#1f948c 48.5px,#2b758e 50.5px,#32648e 53.5px,#375b8d 62.5px,#38588c 79.5px,#3c4f8a 86.5px,#424086 90.5px,#3a548c 97.5px,#375b8d 105.5px,#25838e 112.5px,#26828e 114.5px,#2c718e 119.5px,#2f6b8e 174.5px,#3e4c8a 242.5px,#3d4e8a 259.5px,#32658e 283.5px,#31688e 284.5px,#26828e 286.5px,#2c728e 287.5px,#38588c 288.5px,#38588c 372.5px)"></div>
<div class="r" style="background:linear-gradient(90deg,#31668e 0.5px,#33628d 43.5px,#32658e 44.5px,#25848e 46.5px,#26828e 47.5px,#2d718e 49.5px,#31668e 53.5px,#365d8d 84.5px,#38588c 88.5px,#404688 93.5px,#375a8c 99.5px,#34618d 105.5px,#24878e 112.5px,#2f6b8e 119.5px,#33638d 152.5px,#3e4a89 198.5px,#3e4a89 211.5px,#3b518b 225.5px,#287d8e 279.5px,#29798e 284.5px,#287d8e 285.5px,#2a788e 286.5px,#34608d 287.5px,#38588c 288.5px,#38588c 372.5px)"></div>
<div class="r" style="background:linear-gradient(90deg,#2c728e 0.5px,#2f6c8e 44.5px,#2a768e 47.5px,#2f6c8e 57.5px,#31688e 85.5px,#355f8d 92.5px,#3d4e8a 96.5px,#31668e 102.5px,#30698e 105.5px,#23888e 111.5px,#26828e 113.5px,#2e6d8e 115.5px,#355f8d 118.5px,#3e4a89 155.5px,#3e4989 165.5px,#3b518b 184.5px,#32648e 209.5px,#228d8d 279.5px,#23888e 282.5px,#29798e 285.5px,#38588c 287.5px,#38588c 372.5px)"></div>
<div class="r" style="background:linear-gradient(90deg,#25848e 0.5px,#2a768e 88.5px,#2d718e 94.5px,#355e8d 99.5px,#32658e 101.5px,#2e6e8e 102.5px,#2c728e 105.5px,#228d8d 111.5px,#297b8e 113.5px,#39558c 115.5px,#3d4e8a 117.5px,#3e4a89 124.5px,#3b518b 144.5px,#2b758e 197.5px,#1f998a 277.5px,#218f8d 282.5px,#287d8e 284.5px,#38588c 286.5px,#39568c 372.5px)"></div>
<div class="r" style="background:linear-gradient(90deg,#1fa188 0.5px,#20938c 29.5px,#23898e 67.5px,#228b8d 93.5px,#277f8e 101.5px,#25838e 103.5px,#287c8e 104.5px,#218e8d 110.5px,#238a8d 111.5px,#2f6c8e 112.5px,#31688e 114.5px,#355f8d 115.5px,#375b8d 118.5px,#2f6b8e 138.5px,#297b8e 168.5px,#1f948c 233.5px,#1fa287 275.5px,#1f9f88 279.5px,#21908d 282.5px,#2c738e 284.5px,#38588c 285.5px,#39568c 372.5px)"></div>
<div class="r" style="background:linear-gradient(90deg,#67cc5c 0.5px,#38b977 25.5px,#28ae80 44.5px,#1f9e89 69.5px,#1e9c89 98.5px,#1f998a 102.5px,#24868e 104.5px,#20928c 110.5px,#21918c 111.5px,#2c728e 112.5px,#33638d 113.5px,#355e8d 114.5px,#297a8e 125.5px,#26828e 135.5px,#1e9b8a 218.5px,#24aa83 272.5px,#22a785 277.5px,#1f9e89 280.5px,#228c8d 282.5px,#297b8e 283.5px,#34618d 284.5px,#38588c 285.5px,#39568c 372.5px)"></div>
<div class="r" style="background:linear-gradient(90deg,#fbe723 0.5px,#e2e418 6.5px,#cde11d 11.5px,#7cd250 30.5px,#52c569 42.5px,#31b57b 54.5px,#27ad81 59.5px,#1fa287 67.5px,#20938c 102.5px,#218e8d 104.5px,#1f958b 110.5px,#33628d 116.5px,#355e8d 118.5px,#287c8e 123.5px,#23888e 126.5px,#20928c 133.5px,#1fa287 210.5px,#29af7f 271.5px,#25ac82 276.5px,#20a386 279.5px,#20928c 281.5px,#26828e 282.5px,#38588c 284.5px,#39568c 372.5px)"></div>
<div class="r" style="background:linear-gradient(90deg,#95d840 0.5px,#5ac864 23.5px,#38b977 36.5px,#26ad81 47.5px,#1fa287 58.5px,#1f998a 70.5px,#20928c 98.5px,#1f978b 110.5px,#27808e 115.5px,#32658e 119.5px,#355f8d 121.5px,#33638d 122.5px,#287c8e 125.5px,#21918c 129.5px,#1f9f88 139.5px,#21a685 189.5px,#2fb47c 268.5px,#26ad81 276.5px,#1fa188 279.5px,#23888e 281.5px,#38588c 283.5px,#39568c 372.5px)"></div>
<div class="r" style="background:linear-gradient(90deg,#3fbc73 0.5px,#22a884 39.5px,#1f998a 72.5px,#1f958b 99.5px,#1e9b8a 109.5px,#24878e 117.5px,#32648e 124.5px,#31668e 125.5px,#228d8d 130.5px,#1f9a8a 133.5px,#1fa188 136.5px,#22a785 143.5px,#25ac82 183.5px,#34b679 250.5px,#32b67a 270.5px,#26ad81 276.5px,#20a486 278.5px,#218e8d 280.5px,#29798e 281.5px,#38598c 282.5px,#39568c 285.5px,#39568c 372.5px)"></div>
<div class="r" style="background:linear-gradient(90deg,#2ab07f 0.5px,#1e9c89 67.5px,#1f998a 100.5px,#1e9d89 109.5px,#228c8d 122.5px,#32658e 127.5px,#2f6c8e 129.5px,#218f8d 133.5px,#1fa188 137.5px,#25ac82 146.5px,#37b878 232.5px,#3aba76 270.5px,#22a785 277.5px,#20928c 279.5px,#26818e 280.5px,#33638d 281.5px,#38588c 282.5px,#39568c 284.5px,#39568c 372.5px)"></div>
<div class="r" style="background:linear-gradient(90deg,#25ac82 0.5px,#1f9e89 67.5px,#1f9f88 109.5px,#1f968b 118.5px,#1f988b 120.5px,#20a386 122.5px,#20a386 123.5px,#1f948c 125.5px,#2e6d8e 129.5px,#32658e 131.5px,#21908d 136.5px,#1fa088 139.5px,#26ad81 147.5px,#2cb17e 157.5px,#3dbc74 255.5px,#42be71 264.5px,#50c46a 271.5px,#2fb47c 273.5px,#1fa287 277.5px,#24868e 279.5px,#38588c 281.5px,#39568c 372.5px)"></div>
<div class="r" style="background:linear-gradient(90deg,#25ab82 0.5px,#1f9f88 75.5px,#1fa188 109.5px,#1e9b8a 119.5px,#20a386 122.5px,#2ab07f 124.5px,#24aa83 126.5px,#1f978b 128.5px,#2e6f8e 132.5px,#32658e 134.5px,#21918c 139.5px,#1e9d89 141.5px,#26ad81 148.5px,#2db27d 156.5px,#31b57b 171.5px,#40bd72 246.5px,#48c16e 256.5px,#60ca60 265.5px,#5cc863 267.5px,#44bf70 271.5px,#2eb37c 273.5px,#21a585 276.5px,#1e9b8a 277.5px,#228c8d 278.5px,#38588c 280.5px,#39568c 372.5px)"></div>
<div class="r" style="background:linear-gradient(90deg,#25ab82 0.5px,#1fa187 68.5px,#1f9f88 119.5px,#21a585 124.5px,#2cb17e 128.5px,#20a386 130.5px,#1f9a8a 131.5px,#31688e 136.5px,#31668e 137.5px,#2c738e 139.5px,#21918c 142.5px,#1e9d89 144.5px,#22a884 147.5px,#2ab07f 153.5px,#31b57b 164.5px,#44bf70 240.5px,#48c16e 245.5px,#54c568 251.5px,#67cc5c 257.5px,#63cb5f 259.5px,#44bf70 266.5px,#3dbc74 269.5px,#22a884 275.5px,#20928c 277.5px,#287c8e 278.5px,#375b8d 279.5px,#38588c 280.5px,#39568c 372.5px)"></div>
<div class="r" style="background:linear-gradient(90deg,#25ac82 0.5px,#1fa187 80.5px,#1fa187 120.5px,#22a785 127.5px,#2eb37c 131.5px,#1e9d89 134.5px,#2c718e 138.5px,#31668e 140.5px,#306a8e 141.5px,#20928c 145.5px,#1f9e89 147.5px,#25ab82 151.5px,#2db27d 157.5px,#44bf70 228.5px,#4ac16d 236.5px,#56c667 242.5px,#65cb5e 246.5px,#69cd5b 249.5px,#4ac16d 258.5px,#3aba76 268.5px,#2eb37c 272.5px,#24aa83 274.5px,#1f968b 276.5px,#25838e 277.5px,#32658e 278.5px,#38588c 279.5px,#39568c 281.5px,#39568c 372.5px)"></div>
<div class="r" style="background:linear-gradient(90deg,#26ad81 0.5px,#1fa287 90.5px,#20a386 120.5px,#23a983 130.5px,#2fb47c 134.5px,#23a983 136.5px,#1f958b 138.5px,#2c738e 141.5px,#31668e 143.5px,#306a8e 144.5px,#23888e 147.5px,#1f9e89 150.5px,#23a983 153.5px,#2ab07f 157.5px,#34b679 168.5px,#40bd72 212.5px,#48c16e 224.5px,#54c568 232.5px,#6ccd5a 239.5px,#69cd5b 241.5px,#52c569 248.5px,#4ac16d 252.5px,#3fbc73 264.5px,#31b57b 271.5px,#26ad81 273.5px,#1f9a8a 275.5px,#23898e 276.5px,#38588c 278.5px,#39568c 280.5px,#39568c 372.5px)"></div>
<div class="r" style="background:linear-gradient(90deg,#27ad81 0.5px,#26ad81 30.5px,#20a486 84.5px,#21a685 125.5px,#24aa83 133.5px,#32b67a 137.5px,#2eb37c 138.5px,#1fa287 140.5px,#218e8d 142.5px,#2f6c8e 145.5px,#31678e 146.5px,#30698e 147.5px,#21908d 151.5px,#1f9e89 153.5px,#29af7f 159.5px,#37b878 174.5px,#44bf70 211.5px,#58c765 224.5px,#6ccd5a 230.5px,#69cd5b 233.5px,#5ac864 237.5px,#4ec36b 243.5px,#3dbc74 265.5px,#32b67a 270.5px,#28ae80 272.5px,#1f9e89 274.5px,#218f8d 275.5px,#2a778e 276.5px,#38588c 277.5px,#39568c 279.5px,#39558c 372.5px)"></div>
<div class="r" style="background:linear-gradient(90deg,#28ae80 0.5px,#26ad81 39.5px,#21a585 87.5px,#21a685 117.5px,#25ac82 136.5px,#34b679 140.5px,#31b57b 141.5px,#21a585 143.5px,#1e9b8a 144.5px,#2a788e 147.5px,#31678e 149.5px,#31688e 150.5px,#218f8d 154.5px,#1e9d89 156.5px,#25ac82 160.5px,#2cb17e 163.5px,#37b878 174.5px,#46c06f 205.5px,#52c569 213.5px,#6ccd5a 221.5px,#69cd5b 224.5px,#58c765 229.5px,#50c46a 234.5px,#40bd72 262.5px,#3aba76 267.5px,#2fb47c 270.5px,#25ab82 272.5px,#1f948c 274.5px,#277f8e 275.5px,#365c8d 276.5px,#39568c 278.5px,#39558c 372.5px)"></div>
<div class="r" style="background:linear-gradient(90deg,#29af7f 0.5px,#21a685 90.5px,#22a884 119.5px,#25ac82 138.5px,#34b679 144.5px,#22a884 146.5px,#1f9f88 147.5px,#1f948c 148.5px,#2d718e 151.5px,#30698e 152.5px,#31688e 153.5px,#1e9c89 159.5px,#23a983 162.5px,#2cb17e 166.5px,#37b878 175.5px,#48c16e 198.5px,#52c569 204.5px,#6ccd5a 212.5px,#69cd5b 214.5px,#5ac864 219.5px,#52c569 224.5px,#44bf70 258.5px,#3dbc74 265.5px,#32b67a 269.5px,#26ad81 271.5px,#1f998a 273.5px,#25858e 274.5px,#31678e 275.5px,#38588c 276.5px,#39568c 278.5px,#39558c 372.5px)"></div>
<div class="r" style="background:linear-gradient(90deg,#2ab07f 0.5px,#2cb17e 17.5px,#22a785 93.5px,#23a983 117.5px,#27ad81 141.5px,#35b779 147.5px,#2fb47c 148.5px,#1fa287 150.5px,#228c8d 152.5px,#2c738e 154.5px,#31678e 156.5px,#2c738e 158.5px,#20928c 161.5px,#1fa088 163.5px,#25ab82 166.5px,#32b67a 173.5px,#46c06f 189.5px,#52c569 195.5px,#6ccd5a 203.5px,#69cd5b 205.5px,#5cc863 209.5px,#4ec36b 218.5px,#4ac16d 251.5px,#3bbb75 266.5px,#2fb47c 269.5px,#1f9e89 272.5px,#228c8d 273.5px,#38588c 275.5px,#39568c 276.5px,#39558c 372.5px)"></div>
<div class="r" style="background:linear-gradient(90deg,#2cb17e 0.5px,#2cb17e 31.5px,#23a983 81.5px,#24aa83 116.5px,#29af7f 145.5px,#38b977 150.5px,#34b679 151.5px,#29af7f 152.5px,#1e9c89 154.5px,#2a788e 157.5px,#31688e 159.5px,#2d708e 161.5px,#1f968b 165.5px,#25ab82 169.5px,#32b67a 175.5px,#37b878 179.5px,#69cd5b 192.5px,#69cd5b 195.5px,#52c569 204.5px,#4ec36b 209.5px,#4ec36b 240.5px,#48c16e 256.5px,#3dbc74 265.5px,#2cb17e 269.5px,#1fa187 271.5px,#20928c 272.5px,#29798e 273.5px,#39568c 274.5px,#39558c 372.5px)"></div>
<div class="r" style="background:linear-gradient(90deg,#2db27d 0.5px,#2db27d 32.5px,#24aa83 81.5px,#25ac82 120.5px,#2ab07f 146.5px,#2fb47c 150.5px,#3aba76 153.5px,#38b977 154.5px,#2fb47c 155.5px,#1fa187 157.5px,#228b8d 159.5px,#2c728e 161.5px,#31688e 163.5px,#2f6c8e 164.5px,#20938c 168.5px,#21a685 171.5px,#2db27d 175.5px,#35b779 179.5px,#3bbb75 180.5px,#5ec962 183.5px,#65cb5e 184.5px,#50c46a 194.5px,#4cc26c 199.5px,#4ec36b 244.5px,#48c16e 256.5px,#3fbc73 264.5px,#2eb37c 268.5px,#20a486 270.5px,#1f968b 271.5px,#26818e 272.5px,#365d8d 273.5px,#39568c 274.5px,#39558c 372.5px)"></div>
<div class="r" style="background:linear-gradient(90deg,#2eb37c 0.5px,#2eb37c 33.5px,#25ac82 73.5px,#25ac82 113.5px,#2eb37c 151.5px,#3bbb75 157.5px,#2ab07f 159.5px,#1e9d89 161.5px,#2a788e 164.5px,#31688e 166.5px,#2d708e 168.5px,#218f8d 171.5px,#20a486 174.5px,#2fb47c 179.5px,#48c16e 184.5px,#46c06f 191.5px,#50c46a 237.5px,#48c16e 257.5px,#40bd72 263.5px,#37b878 266.5px,#29af7f 268.5px,#1e9b8a 270.5px,#24878e 271.5px,#31688e 272.5px,#39568c 273.5px,#39558c 372.5px)"></div>
<div class="r" style="background:linear-gradient(90deg,#2fb47c 0.5px,#31b57b 25.5px,#26ad81 73.5px,#25ac82 107.5px,#31b57b 154.5px,#32b67a 156.5px,#3fbc73 160.5px,#31b57b 162.5px,#20a386 164.5px,#1f988b 165.5px,#2b748e 168.5px,#31688e 170.5px,#2b748e 172.5px,#1e9b8a 176.5px,#29af7f 180.5px,#38b977 184.5px,#44bf70 193.5px,#4ec36b 214.5px,#50c46a 243.5px,#48c16e 258.5px,#3dbc74 264.5px,#25ab82 268.5px,#1fa088 269.5px,#218e8d 270.5px,#39568c 272.5px,#39558c 372.5px)"></div>
<div class="r" style="background:linear-gradient(90deg,#31b57b 0.5px,#32b67a 27.5px,#27ad81 73.5px,#26ad81 105.5px,#34b679 157.5px,#40bd72 164.5px,#2eb37c 166.5px,#1fa088 168.5px,#1f948c 169.5px,#2d718e 172.5px,#30698e 174.5px,#2a788e 176.5px,#218e8d 178.5px,#1f9e89 180.5px,#28ae80 183.5px,#38b977 188.5px,#48c16e 200.5px,#50c46a 219.5px,#50c46a 246.5px,#48c16e 258.5px,#3fbc73 263.5px,#2fb47c 266.5px,#27ad81 267.5px,#20a386 268.5px,#20938c 269.5px,#297b8e 270.5px,#39568c 271.5px,#39558c 372.5px)"></div>
<div class="r" style="background:linear-gradient(90deg,#34b679 0.5px,#34b679 28.5px,#2ab07f 62.5px,#27ad81 105.5px,#38b977 162.5px,#44bf70 167.5px,#37b878 169.5px,#2ab07f 170.5px,#1e9d89 172.5px,#2a788e 175.5px,#30698e 177.5px,#2c718e 179.5px,#1e9b8a 183.5px,#26ad81 186.5px,#3aba76 192.5px,#4ac16d 204.5px,#50c46a 216.5px,#50c46a 248.5px,#48c16e 258.5px,#3dbc74 263.5px,#32b67a 265.5px,#22a785 267.5px,#1f988b 268.5px,#26828e 269.5px,#355e8d 270.5px,#39568c 271.5px,#39558c 372.5px)"></div>
<div class="r" style="background:linear-gradient(90deg,#3aba76 0.5px,#37b878 27.5px,#29af7f 74.5px,#28ae80 105.5px,#3bbb75 163.5px,#3dbc74 167.5px,#46c06f 171.5px,#35b779 173.5px,#21a585 175.5px,#218e8d 177.5px,#2b758e 179.5px,#30698e 181.5px,#2b758e 183.5px,#1f9e89 187.5px,#24aa83 189.5px,#3aba76 195.5px,#46c06f 202.5px,#50c46a 215.5px,#52c569 240.5px,#4ec36b 252.5px,#42be71 261.5px,#2db27d 265.5px,#1e9d89 267.5px,#23898e 268.5px,#306a8e 269.5px,#39568c 270.5px,#39558c 372.5px)"></div>
<div class="r" style="background:linear-gradient(90deg,#3aba76 0.5px,#3fbc73 18.5px,#2ab07f 76.5px,#29af7f 105.5px,#2fb47c 129.5px,#3fbc73 156.5px,#40bd72 169.5px,#4ac16d 174.5px,#48c16e 175.5px,#34b679 177.5px,#20a386 179.5px,#1f988b 180.5px,#2c738e 183.5px,#306a8e 185.5px,#29798e 187.5px,#218f8d 189.5px,#1fa188 191.5px,#2ab07f 194.5px,#3aba76 198.5px,#4ac16d 207.5px,#52c569 220.5px,#52c569 242.5px,#4cc26c 255.5px,#3dbc74 262.5px,#26ad81 265.5px,#1fa187 266.5px,#21908d 267.5px,#39568c 269.5px,#39558c 372.5px)"></div>
<div class="r" style="background:linear-gradient(90deg,#37b878 0.5px,#3fbc73 20.5px,#3fbc73 36.5px,#2fb47c 66.5px,#2ab07f 104.5px,#2fb47c 126.5px,#46c06f 164.5px,#46c06f 174.5px,#4ec36b 178.5px,#4ac16d 179.5px,#32b67a 181.5px,#1fa287 183.5px,#1f968b 184.5px,#2d718e 187.5px,#2f6b8e 189.5px,#2c718e 190.5px,#1e9c89 194.5px,#2db27d 198.5px,#3bbb75 202.5px,#4ac16d 209.5px,#52c569 220.5px,#4ec36b 252.5px,#48c16e 258.5px,#3fbc73 261.5px,#32b67a 263.5px,#21a585 265.5px,#1f958b 266.5px,#287c8e 267.5px,#39568c 268.5px,#39558c 372.5px)"></div>
<div class="r" style="background:linear-gradient(90deg,#37b878 0.5px,#3dbc74 51.5px,#2fb47c 77.5px,#2db27d 109.5px,#35b779 135.5px,#4ac16d 163.5px,#4cc26c 178.5px,#52c569 181.5px,#4ac16d 183.5px,#25ab82 186.5px,#1fa188 187.5px,#29798e 190.5px,#306a8e 192.5px,#2b748e 194.5px,#1f9f88 198.5px,#25ac82 200.5px,#3bbb75 205.5px,#4cc26c 213.5px,#52c569 221.5px,#54c568 237.5px,#50c46a 249.5px,#46c06f 258.5px,#3bbb75 261.5px,#2db27d 263.5px,#1e9b8a 265.5px,#25848e 266.5px,#34608d 267.5px,#39568c 268.5px,#39558c 372.5px)"></div>
<div class="r" style="background:linear-gradient(90deg,#37b878 0.5px,#3bbb75 16.5px,#3aba76 70.5px,#2fb47c 93.5px,#2fb47c 112.5px,#38b977 137.5px,#52c569 169.5px,#52c569 183.5px,#56c667 185.5px,#54c568 186.5px,#3dbc74 188.5px,#24aa83 190.5px,#1f9e89 191.5px,#2a768e 194.5px,#306a8e 196.5px,#2a788e 198.5px,#21908d 200.5px,#1fa287 202.5px,#2eb37c 205.5px,#3bbb75 208.5px,#4ac16d 214.5px,#52c569 223.5px,#52c569 246.5px,#4cc26c 254.5px,#44bf70 258.5px,#3dbc74 260.5px,#2fb47c 262.5px,#1f9f88 264.5px,#228b8d 265.5px,#2f6b8e 266.5px,#39558c 267.5px,#39558c 372.5px)"></div>
<div class="r" style="background:linear-gradient(90deg,#38b977 0.5px,#3bbb75 36.5px,#38b977 89.5px,#32b67a 110.5px,#3bbb75 138.5px,#5ac864 175.5px,#58c765 189.5px,#54c568 190.5px,#3bbb75 192.5px,#22a884 194.5px,#1e9c89 195.5px,#2c738e 198.5px,#2f6b8e 200.5px,#2d718e 201.5px,#1f9e89 205.5px,#2cb17e 208.5px,#3dbc74 212.5px,#4cc26c 218.5px,#52c569 225.5px,#54c568 240.5px,#50c46a 250.5px,#46c06f 257.5px,#32b67a 261.5px,#20a386 263.5px,#20928c 264.5px,#39558c 266.5px,#3a548c 372.5px)"></div>
<div class="r" style="background:linear-gradient(90deg,#3aba76 0.5px,#3dbc74 33.5px,#35b779 65.5px,#35b779 85.5px,#3aba76 96.5px,#38b977 128.5px,#40bd72 142.5px,#60ca60 176.5px,#5cc863 193.5px,#4ac16d 195.5px,#2ab07f 197.5px,#21a585 198.5px,#1f988b 199.5px,#297b8e 201.5px,#306a8e 203.5px,#2f6c8e 204.5px,#2b758e 205.5px,#218e8d 207.5px,#1fa287 209.5px,#2fb47c 212.5px,#3dbc74 215.5px,#4cc26c 221.5px,#52c569 227.5px,#54c568 240.5px,#50c46a 250.5px,#48c16e 256.5px,#3bbb75 259.5px,#2cb17e 261.5px,#22a785 262.5px,#1f978b 263.5px,#277e8e 264.5px,#39558c 265.5px,#3a548c 372.5px)"></div>
<div class="r" style="background:linear-gradient(90deg,#3bbb75 0.5px,#3fbc73 8.5px,#3fbc73 34.5px,#34b679 83.5px,#35b779 95.5px,#3fbc73 113.5px,#3bbb75 130.5px,#42be71 141.5px,#67cc5c 178.5px,#69cd5b 186.5px,#60ca60 196.5px,#56c667 198.5px,#28ae80 201.5px,#1fa287 202.5px,#1f948c 203.5px,#2a778e 205.5px,#2e6d8e 206.5px,#306a8e 207.5px,#297a8e 209.5px,#1f9e89 212.5px,#27ad81 214.5px,#3dbc74 218.5px,#4cc26c 224.5px,#52c569 230.5px,#50c46a 250.5px,#46c06f 256.5px,#2eb37c 260.5px,#1e9c89 262.5px,#25858e 263.5px,#34618d 264.5px,#39558c 265.5px,#3a548c 372.5px)"></div>
<div class="r" style="background:linear-gradient(90deg,#3dbc74 0.5px,#40bd72 35.5px,#35b779 80.5px,#35b779 97.5px,#40bd72 119.5px,#40bd72 134.5px,#6ccd5a 176.5px,#70cf57 183.5px,#6ece58 193.5px,#63cb5f 200.5px,#54c568 202.5px,#25ab82 205.5px,#1f9e89 206.5px,#2c728e 209.5px,#2f6b8e 210.5px,#2f6c8e 211.5px,#2b748e 212.5px,#218e8d 214.5px,#20a386 216.5px,#31b57b 219.5px,#3bbb75 221.5px,#48c16e 225.5px,#50c46a 231.5px,#52c569 246.5px,#48c16e 255.5px,#3aba76 258.5px,#31b57b 259.5px,#1fa188 261.5px,#228d8d 262.5px,#2f6c8e 263.5px,#39558c 264.5px,#3a548c 372.5px)"></div>
<div class="r" style="background:linear-gradient(90deg,#40bd72 0.5px,#42be71 38.5px,#38b977 74.5px,#38b977 105.5px,#42be71 132.5px,#77d153 184.5px,#77d153 194.5px,#73d056 197.5px,#65cb5e 204.5px,#5ec962 205.5px,#50c46a 206.5px,#21a685 209.5px,#1f988b 210.5px,#29798e 212.5px,#2f6b8e 214.5px,#297a8e 216.5px,#1f948c 218.5px,#1f9f88 219.5px,#2eb37c 222.5px,#3aba76 224.5px,#44bf70 227.5px,#50c46a 234.5px,#50c46a 249.5px,#46c06f 255.5px,#34b679 258.5px,#29af7f 259.5px,#20a486 260.5px,#20928c 261.5px,#39558c 263.5px,#3a548c 372.5px)"></div>
<div class="r" style="background:linear-gradient(90deg,#42be71 0.5px,#44bf70 8.5px,#40bd72 13.5px,#46c06f 30.5px,#3bbb75 71.5px,#3bbb75 109.5px,#48c16e 135.5px,#5cc863 156.5px,#7fd34e 185.5px,#7fd34e 197.5px,#65cb5e 208.5px,#4cc26c 210.5px,#28ae80 212.5px,#1fa188 213.5px,#20928c 214.5px,#2c738e 216.5px,#2f6c8e 217.5px,#2f6c8e 218.5px,#2b748e 219.5px,#218e8d 221.5px,#20a486 223.5px,#32b67a 226.5px,#3dbc74 228.5px,#4cc26c 234.5px,#50c46a 239.5px,#4ec36b 250.5px,#46c06f 254.5px,#37b878 257.5px,#22a884 259.5px,#1f988b 260.5px,#277f8e 261.5px,#39558c 262.5px,#3a548c 372.5px)"></div>
<div class="r" style="background:linear-gradient(90deg,#46c06f 0.5px,#48c16e 7.5px,#3aba76 12.5px,#48c16e 29.5px,#3dbc74 78.5px,#40bd72 115.5px,#48c16e 130.5px,#5cc863 152.5px,#84d44b 184.5px,#89d548 192.5px,#86d549 199.5px,#69cd5b 211.5px,#63cb5f 212.5px,#44bf70 214.5px,#23a983 216.5px,#1f9a8a 217.5px,#297a8e 219.5px,#2e6f8e 220.5px,#2f6b8e 221.5px,#2d708e 222.5px,#1f958b 225.5px,#1fa088 226.5px,#29af7f 228.5px,#3bbb75 231.5px,#4cc26c 238.5px,#4ec36b 249.5px,#44bf70 254.5px,#38b977 256.5px,#25ac82 258.5px,#1e9d89 259.5px,#24868e 260.5px,#33628d 261.5px,#39558c 262.5px,#3a548c 372.5px)"></div>
<div class="r" style="background:linear-gradient(90deg,#4ac16d 0.5px,#4cc26c 8.5px,#3aba76 18.5px,#3bbb75 22.5px,#44bf70 26.5px,#4ac16d 33.5px,#40bd72 78.5px,#40bd72 104.5px,#52c569 137.5px,#69cd5b 159.5px,#89d548 182.5px,#90d743 195.5px,#8bd646 203.5px,#84d44b 207.5px,#69cd5b 215.5px,#5ec962 216.5px,#3bbb75 218.5px,#29af7f 219.5px,#1fa187 220.5px,#20928c 221.5px,#2c738e 223.5px,#2f6c8e 224.5px,#2e6d8e 225.5px,#2b758e 226.5px,#1e9c89 229.5px,#26ad81 231.5px,#34b679 233.5px,#48c16e 239.5px,#4cc26c 243.5px,#48c16e 252.5px,#3aba76 255.5px,#28ae80 257.5px,#1fa187 258.5px,#218e8d 259.5px,#3a548c 261.5px,#3a548c 372.5px)"></div>
<div class="r" style="background:linear-gradient(90deg,#4ec36b 0.5px,#4ec36b 14.5px,#4ac16d 18.5px,#38b977 25.5px,#38b977 27.5px,#46c06f 32.5px,#4cc26c 37.5px,#44bf70 80.5px,#46c06f 109.5px,#54c568 134.5px,#93d741 187.5px,#95d840 201.5px,#89d548 210.5px,#6ccd5a 218.5px,#65cb5e 219.5px,#46c06f 221.5px,#23a983 223.5px,#1f9a8a 224.5px,#297a8e 226.5px,#2e6f8e 227.5px,#2f6b8e 228.5px,#2d718e 229.5px,#1f968b 232.5px,#1fa187 233.5px,#31b57b 236.5px,#3fbc73 239.5px,#46c06f 242.5px,#4ac16d 248.5px,#44bf70 252.5px,#34b679 255.5px,#21a585 257.5px,#20938c 258.5px,#2a778e 259.5px,#3a548c 260.5px,#3a548c 372.5px)"></div>
<div class="r" style="background:linear-gradient(90deg,#52c569 0.5px,#52c569 20.5px,#48c16e 26.5px,#37b878 31.5px,#38b977 33.5px,#4cc26c 39.5px,#50c46a 44.5px,#48c16e 86.5px,#4cc26c 112.5px,#60ca60 142.5px,#89d548 172.5px,#9bd93c 189.5px,#9dd93b 200.5px,#93d741 210.5px,#73d056 220.5px,#69cd5b 222.5px,#5ec962 223.5px,#50c46a 224.5px,#3bbb75 225.5px,#29af7f 226.5px,#1fa187 227.5px,#2c728e 230.5px,#2f6c8e 231.5px,#2a768e 233.5px,#1e9d89 236.5px,#26ad81 238.5px,#32b67a 240.5px,#3fbc73 243.5px,#46c06f 248.5px,#3bbb75 253.5px,#2db27d 255.5px,#22a884 256.5px,#1f998a 257.5px,#27808e 258.5px,#39558c 259.5px,#3a548c 260.5px,#3a548c 372.5px)"></div>
<div class="r" style="background:linear-gradient(90deg,#56c667 0.5px,#56c667 25.5px,#4cc26c 31.5px,#35b779 36.5px,#4cc26c 42.5px,#52c569 46.5px,#4ec36b 76.5px,#50c46a 109.5px,#5ec962 134.5px,#69cd5b 145.5px,#9bd93c 182.5px,#a2da37 192.5px,#a2da37 203.5px,#98d83e 212.5px,#89d548 218.5px,#6ccd5a 225.5px,#58c765 227.5px,#44bf70 228.5px,#22a884 230.5px,#1f988b 231.5px,#2a788e 233.5px,#2e6e8e 234.5px,#2f6c8e 235.5px,#2c718e 236.5px,#1f978b 239.5px,#1fa187 240.5px,#2fb47c 243.5px,#3fbc73 248.5px,#3aba76 252.5px,#2eb37c 254.5px,#1e9d89 256.5px,#24878e 257.5px,#33638d 258.5px,#3a548c 259.5px,#3a548c 372.5px)"></div>
<div class="r" style="background:linear-gradient(90deg,#5ac864 0.5px,#5ec962 11.5px,#5ac864 30.5px,#54c568 34.5px,#35b779 40.5px,#35b779 41.5px,#4ec36b 46.5px,#56c667 51.5px,#52c569 85.5px,#5cc863 123.5px,#77d153 151.5px,#a0da39 181.5px,#a8db34 191.5px,#a8db34 205.5px,#9bd93c 215.5px,#8ed645 220.5px,#6ece58 228.5px,#5ec962 230.5px,#4ec36b 231.5px,#28ae80 233.5px,#1fa088 234.5px,#2c718e 237.5px,#2f6c8e 238.5px,#2e6e8e 239.5px,#2a778e 240.5px,#1e9d89 243.5px,#25ac82 245.5px,#37b878 249.5px,#32b67a 252.5px,#25ac82 254.5px,#1fa088 255.5px,#228d8d 256.5px,#3a548c 258.5px,#3a548c 372.5px)"></div>
<div class="r" style="background:linear-gradient(90deg,#60ca60 0.5px,#60ca60 32.5px,#58c765 38.5px,#50c46a 40.5px,#3aba76 43.5px,#34b679 45.5px,#4cc26c 49.5px,#58c765 53.5px,#58c765 96.5px,#60ca60 120.5px,#77d153 146.5px,#9bd93c 170.5px,#addc30 189.5px,#b0dd2f 200.5px,#a2da37 215.5px,#98d83e 220.5px,#84d44b 226.5px,#63cb5f 233.5px,#2eb37c 236.5px,#21a685 237.5px,#1f968b 238.5px,#2a778e 240.5px,#2e6e8e 241.5px,#2f6c8e 242.5px,#2c728e 243.5px,#228b8d 245.5px,#1fa188 247.5px,#26ad81 249.5px,#28ae80 252.5px,#1fa188 254.5px,#21918c 255.5px,#2a768e 256.5px,#3a538b 257.5px,#3a548c 372.5px)"></div>
<div class="r" style="background:linear-gradient(90deg,#65cb5e 0.5px,#69cd5b 14.5px,#65cb5e 36.5px,#58c765 43.5px,#3aba76 47.5px,#34b679 49.5px,#50c46a 53.5px,#58c765 55.5px,#5ec962 59.5px,#5ec962 98.5px,#67cc5c 121.5px,#81d34d 149.5px,#a5db36 173.5px,#b2dd2d 188.5px,#b5de2b 201.5px,#a5db36 217.5px,#9bd93c 222.5px,#84d44b 229.5px,#65cb5e 236.5px,#4ac16d 238.5px,#25ac82 240.5px,#1f9e89 241.5px,#2c718e 244.5px,#2f6c8e 245.5px,#2e6f8e 246.5px,#218f8d 249.5px,#1f9e89 251.5px,#1e9b8a 253.5px,#21908d 254.5px,#297b8e 255.5px,#39558c 256.5px,#3a538b 257.5px,#3a548c 372.5px)"></div>
<div class="r" style="background:linear-gradient(90deg,#6ccd5a 0.5px,#6ece58 31.5px,#67cc5c 42.5px,#5ac864 47.5px,#4ec36b 49.5px,#34b679 52.5px,#3bbb75 54.5px,#4ec36b 56.5px,#5ac864 58.5px,#63cb5f 62.5px,#65cb5e 99.5px,#6ece58 121.5px,#81d34d 143.5px,#b2dd2d 179.5px,#bade28 201.5px,#aadc32 217.5px,#9bd93c 225.5px,#8bd646 230.5px,#65cb5e 239.5px,#50c46a 241.5px,#2cb17e 243.5px,#20a386 244.5px,#1f948c 245.5px,#2a768e 247.5px,#2e6d8e 248.5px,#2f6b8e 249.5px,#27808e 252.5px,#27808e 253.5px,#2a768e 254.5px,#355e8d 255.5px,#3b518b 256.5px,#39558c 266.5px,#3a548c 372.5px)"></div>
<div class="r" style="background:linear-gradient(90deg,#70cf57 0.5px,#75d054 28.5px,#6ccd5a 46.5px,#5ec962 51.5px,#3aba76 55.5px,#35b779 56.5px,#37b878 57.5px,#4cc26c 59.5px,#5ac864 61.5px,#67cc5c 65.5px,#6ccd5a 99.5px,#75d054 121.5px,#86d549 141.5px,#bade28 181.5px,#c0df25 200.5px,#b0dd2f 217.5px,#90d743 231.5px,#5ec962 243.5px,#42be71 245.5px,#22a785 247.5px,#1f988b 248.5px,#2f6b8e 251.5px,#38588c 254.5px,#3d4d8a 255.5px,#39558c 266.5px,#3a548c 372.5px)"></div>
<div class="r" style="background:linear-gradient(90deg,#77d153 0.5px,#7ad151 36.5px,#73d056 48.5px,#6ccd5a 52.5px,#60ca60 55.5px,#38b977 59.5px,#35b779 60.5px,#54c568 63.5px,#63cb5f 65.5px,#6ccd5a 68.5px,#7cd250 121.5px,#95d840 148.5px,#c0df25 181.5px,#c5e021 199.5px,#b2dd2d 218.5px,#a8db34 224.5px,#8ed645 234.5px,#58c765 246.5px,#4ec36b 247.5px,#3dbc74 248.5px,#29af7f 249.5px,#1fa188 250.5px,#218e8d 251.5px,#3e4c8a 254.5px,#3e4a89 255.5px,#39558c 266.5px,#3a548c 372.5px)"></div>
<div class="r" style="background:linear-gradient(90deg,#7fd34e 0.5px,#81d34d 33.5px,#7ad151 51.5px,#6ece58 57.5px,#58c765 60.5px,#37b878 63.5px,#3aba76 64.5px,#65cb5e 68.5px,#73d056 72.5px,#7cd250 106.5px,#86d549 124.5px,#98d83e 144.5px,#c8e020 183.5px,#cae11f 197.5px,#c8e020 203.5px,#b5de2b 219.5px,#a8db34 226.5px,#8bd646 237.5px,#6ccd5a 244.5px,#48c16e 248.5px,#29af7f 250.5px,#1e9c89 251.5px,#27808e 252.5px,#39558c 253.5px,#3c508b 254.5px,#3e4989 259.5px,#3a548c 263.5px,#3a548c 372.5px)"></div>
<div class="r" style="background:linear-gradient(90deg,#84d44b 0.5px,#89d548 25.5px,#7fd34e 55.5px,#70cf57 61.5px,#56c667 64.5px,#3aba76 66.5px,#38b977 67.5px,#67cc5c 71.5px,#73d056 73.5px,#7ad151 76.5px,#7fd34e 81.5px,#86d549 111.5px,#90d743 127.5px,#a5db36 149.5px,#c8e020 176.5px,#d0e11c 187.5px,#d0e11c 194.5px,#c8e020 208.5px,#c0df25 214.5px,#a8db34 228.5px,#8ed645 238.5px,#6ccd5a 245.5px,#56c667 247.5px,#46c06f 248.5px,#21a685 250.5px,#218e8d 251.5px,#31678e 252.5px,#3a548c 253.5px,#3d4d8a 260.5px,#3a548c 262.5px,#3a548c 372.5px)"></div>
<div class="r" style="background:linear-gradient(90deg,#8bd646 0.5px,#8ed645 38.5px,#84d44b 60.5px,#73d056 65.5px,#5ec962 67.5px,#3fbc73 69.5px,#3aba76 70.5px,#40bd72 71.5px,#69cd5b 74.5px,#77d153 76.5px,#84d44b 81.5px,#95d840 124.5px,#aadc32 147.5px,#d0e11c 179.5px,#d5e21a 197.5px,#c8e020 211.5px,#b5de2b 223.5px,#8bd646 240.5px,#6ece58 245.5px,#54c568 247.5px,#28ae80 249.5px,#1f988b 250.5px,#3a548c 252.5px,#3a548c 372.5px)"></div>
<div class="r" style="background:linear-gradient(90deg,#93d741 0.5px,#95d840 34.5px,#8ed645 60.5px,#89d548 64.5px,#7ad151 68.5px,#67cc5c 70.5px,#46c06f 72.5px,#3bbb75 73.5px,#3fbc73 74.5px,#6ccd5a 77.5px,#75d054 78.5px,#81d34d 80.5px,#8bd646 84.5px,#9dd93b 123.5px,#b5de2b 150.5px,#d0e11c 172.5px,#d8e219 183.5px,#dae319 195.5px,#d8e219 201.5px,#d2e21b 203.5px,#c8e020 214.5px,#b0dd2f 227.5px,#8ed645 240.5px,#7fd34e 243.5px,#6ccd5a 245.5px,#4cc26c 247.5px,#32b67a 248.5px,#1fa187 249.5px,#26818e 250.5px,#3a548c 251.5px,#3a538b 372.5px)"></div>
<div class="r" style="background:linear-gradient(90deg,#9bd93c 0.5px,#9bd93c 45.5px,#93d741 65.5px,#8ed645 68.5px,#81d34d 71.5px,#6ece58 73.5px,#3fbc73 76.5px,#3fbc73 77.5px,#70cf57 80.5px,#7cd250 81.5px,#89d548 83.5px,#93d741 87.5px,#addc30 134.5px,#d8e219 175.5px,#dde318 183.5px,#dde318 198.5px,#c2df23 219.5px,#a5db36 233.5px,#93d741 239.5px,#7fd34e 243.5px,#75d054 244.5px,#56c667 246.5px,#3dbc74 247.5px,#24aa83 248.5px,#228c8d 249.5px,#365c8d 250.5px,#3a548c 251.5px,#3a538b 372.5px)"></div>
<div class="r" style="background:linear-gradient(90deg,#a0da39 0.5px,#a2da37 41.5px,#9bd93c 67.5px,#93d741 72.5px,#89d548 74.5px,#77d153 76.5px,#42be71 79.5px,#42be71 80.5px,#77d153 83.5px,#84d44b 84.5px,#90d743 86.5px,#9bd93c 90.5px,#b2dd2d 131.5px,#d0e11c 160.5px,#dde318 175.5px,#e2e418 195.5px,#d8e219 208.5px,#d2e21b 209.5px,#c5e021 219.5px,#b5de2b 227.5px,#95d840 239.5px,#7cd250 243.5px,#5ec962 245.5px,#46c06f 246.5px,#2ab07f 247.5px,#1f968b 248.5px,#2f6c8e 249.5px,#3a548c 250.5px,#3a538b 372.5px)"></div>
<div class="r" style="background:linear-gradient(90deg,#a8db34 0.5px,#aadc32 36.5px,#a5db36 65.5px,#a0da39 72.5px,#95d840 76.5px,#89d548 78.5px,#7fd34e 79.5px,#48c16e 82.5px,#46c06f 83.5px,#6ccd5a 85.5px,#89d548 87.5px,#93d741 88.5px,#a0da39 91.5px,#a8db34 97.5px,#bddf26 135.5px,#d5e21a 159.5px,#e2e418 175.5px,#e5e419 197.5px,#d8e219 210.5px,#c5e021 220.5px,#9dd93b 237.5px,#8bd646 241.5px,#77d153 243.5px,#67cc5c 244.5px,#50c46a 245.5px,#34b679 246.5px,#1fa088 247.5px,#29798e 248.5px,#39558c 249.5px,#3a548c 250.5px,#3a538b 372.5px)"></div>
<div class="r" style="background:linear-gradient(90deg,#b0dd2f 0.5px,#b0dd2f 48.5px,#a8db34 75.5px,#9dd93b 79.5px,#90d743 81.5px,#86d549 82.5px,#4cc26c 85.5px,#4ac16d 86.5px,#5ac864 87.5px,#86d549 89.5px,#93d741 90.5px,#a5db36 93.5px,#aadc32 95.5px,#cae11f 143.5px,#d8e219 156.5px,#e5e419 172.5px,#eae51a 192.5px,#e5e419 201.5px,#d8e219 212.5px,#b0dd2f 231.5px,#9bd93c 238.5px,#89d548 241.5px,#6ece58 243.5px,#5ac864 244.5px,#3dbc74 245.5px,#22a785 246.5px,#25858e 247.5px,#39558c 248.5px,#3a538b 372.5px)"></div>
<div class="r" style="background:linear-gradient(90deg,#b5de2b 0.5px,#b8de29 40.5px,#b0dd2f 78.5px,#a5db36 82.5px,#98d83e 84.5px,#8ed645 85.5px,#50c46a 88.5px,#4ec36b 89.5px,#8ed645 92.5px,#9bd93c 93.5px,#addc30 96.5px,#b2dd2d 98.5px,#b8de29 102.5px,#cae11f 134.5px,#d5e21a 145.5px,#eae51a 172.5px,#ece51b 194.5px,#e2e418 206.5px,#d2e21b 216.5px,#b8de29 228.5px,#9bd93c 238.5px,#84d44b 241.5px,#63cb5f 243.5px,#48c16e 244.5px,#28ae80 245.5px,#21918c 246.5px,#355f8d 247.5px,#39558c 248.5px,#3a548c 249.5px,#3a538b 372.5px)"></div>
<div class="r" style="background:linear-gradient(90deg,#bddf26 0.5px,#bddf26 56.5px,#b8de29 80.5px,#addc30 85.5px,#a0da39 87.5px,#93d741 88.5px,#52c569 91.5px,#54c568 92.5px,#84d44b 94.5px,#a2da37 96.5px,#b5de2b 99.5px,#bddf26 102.5px,#d8e219 140.5px,#efe51c 174.5px,#efe51c 194.5px,#eae51a 201.5px,#d8e219 214.5px,#cde11d 220.5px,#c2df23 223.5px,#b0dd2f 232.5px,#a2da37 236.5px,#93d741 239.5px,#7cd250 241.5px,#52c569 243.5px,#31b57b 244.5px,#1f9a8a 245.5px,#2e6f8e 246.5px,#39558c 247.5px,#3a548c 248.5px,#3a538b 372.5px)"></div>
<div class="r" style="background:linear-gradient(90deg,#c2df23 0.5px,#c5e021 26.5px,#c0df25 83.5px,#b8de29 87.5px,#a5db36 90.5px,#98d83e 91.5px,#56c667 94.5px,#5ac864 95.5px,#8ed645 97.5px,#addc30 99.5px,#bade28 101.5px,#c5e021 105.5px,#dde318 139.5px,#efe51c 166.5px,#f4e61e 188.5px,#eae51a 203.5px,#d8e219 215.5px,#c5e021 224.5px,#aadc32 234.5px,#98d83e 238.5px,#84d44b 240.5px,#73d056 241.5px,#5ac864 242.5px,#3bbb75 243.5px,#20a386 244.5px,#287c8e 245.5px,#3a548c 246.5px,#3a538b 372.5px)"></div>
<div class="r" style="background:linear-gradient(90deg,#cae11f 0.5px,#c8e020 85.5px,#c2df23 89.5px,#b5de2b 92.5px,#9dd93b 94.5px,#69cd5b 96.5px,#58c765 97.5px,#63cb5f 98.5px,#95d840 100.5px,#b5de2b 102.5px,#c2df23 104.5px,#cde11d 108.5px,#e2e418 141.5px,#f4e61e 168.5px,#f6e620 188.5px,#eae51a 204.5px,#d8e219 215.5px,#c0df25 227.5px,#aadc32 234.5px,#a2da37 236.5px,#89d548 239.5px,#7ad151 240.5px,#63cb5f 241.5px,#46c06f 242.5px,#25ab82 243.5px,#23888e 244.5px,#3a548c 245.5px,#3a538b 372.5px)"></div>
<div class="r" style="background:linear-gradient(90deg,#d0e11c 0.5px,#cde11d 89.5px,#c5e021 93.5px,#b0dd2f 96.5px,#a0da39 97.5px,#6ccd5a 99.5px,#5cc863 100.5px,#69cd5b 101.5px,#a0da39 103.5px,#b2dd2d 104.5px,#c5e021 106.5px,#d5e21a 111.5px,#e2e418 133.5px,#f4e61e 161.5px,#f8e621 173.5px,#f6e620 192.5px,#efe51c 201.5px,#d8e219 216.5px,#c5e021 225.5px,#aadc32 234.5px,#98d83e 237.5px,#81d34d 239.5px,#6ccd5a 240.5px,#50c46a 241.5px,#2db27d 242.5px,#20938c 243.5px,#34618d 244.5px,#3a548c 245.5px,#3a538b 372.5px)"></div>
<div class="r" style="background:linear-gradient(90deg,#d5e21a 0.5px,#d5e21a 91.5px,#d0e11c 94.5px,#c0df25 98.5px,#b5de2b 99.5px,#a2da37 100.5px,#6ccd5a 102.5px,#60ca60 103.5px,#73d056 104.5px,#aadc32 106.5px,#bade28 107.5px,#cde11d 109.5px,#dae319 113.5px,#e2e418 120.5px,#f4e61e 153.5px,#fbe723 184.5px,#efe51c 202.5px,#dde318 213.5px,#c5e021 225.5px,#b0dd2f 233.5px,#a0da39 236.5px,#86d549 238.5px,#75d054 239.5px,#5ac864 240.5px,#37b878 241.5px,#1f9e89 242.5px,#2d718e 243.5px,#3a548c 244.5px,#3a538b 372.5px)"></div>
<div class="r" style="background:linear-gradient(90deg,#dae319 0.5px,#dde318 91.5px,#d8e219 97.5px,#cde11d 100.5px,#c5e021 101.5px,#a5db36 103.5px,#6ece58 105.5px,#67cc5c 106.5px,#7cd250 107.5px,#b5de2b 109.5px,#d5e21a 112.5px,#dfe318 115.5px,#eae51a 126.5px,#fbe723 163.5px,#fbe723 188.5px,#f4e61e 198.5px,#dde318 214.5px,#cde11d 222.5px,#b0dd2f 233.5px,#9bd93c 236.5px,#7fd34e 238.5px,#65cb5e 239.5px,#42be71 240.5px,#21a685 241.5px,#277f8e 242.5px,#3a548c 243.5px,#3a538b 372.5px)"></div>
<div class="r" style="background:linear-gradient(90deg,#dfe318 0.5px,#e2e418 95.5px,#dde318 100.5px,#d0e11c 103.5px,#bddf26 105.5px,#a8db34 106.5px,#73d056 108.5px,#6ece58 109.5px,#a8db34 111.5px,#cde11d 113.5px,#dfe318 116.5px,#e7e419 119.5px,#efe51c 128.5px,#fbe723 156.5px,#fbe723 190.5px,#f4e61e 199.5px,#dde318 214.5px,#cde11d 222.5px,#b2dd2d 232.5px,#a8db34 234.5px,#95d840 236.5px,#6ece58 238.5px,#4ec36b 239.5px,#28ae80 240.5px,#228c8d 241.5px,#3a548c 242.5px,#3a538b 372.5px)"></div>
<div class="r" style="background:linear-gradient(90deg,#e5e419 0.5px,#e5e419 101.5px,#dfe318 104.5px,#cde11d 107.5px,#c0df25 108.5px,#75d054 111.5px,#7ad151 112.5px,#b2dd2d 114.5px,#c8e020 115.5px,#d5e21a 116.5px,#e2e418 118.5px,#ece51b 122.5px,#f4e61e 131.5px,#fde725 156.5px,#fde725 186.5px,#f4e61e 199.5px,#dde318 214.5px,#cde11d 222.5px,#b5de2b 231.5px,#9bd93c 235.5px,#8bd646 236.5px,#75d054 237.5px,#58c765 238.5px,#32b67a 239.5px,#1f978b 240.5px,#33638d 241.5px,#3a548c 242.5px,#3a538b 372.5px)"></div>
<div class="r" style="background:linear-gradient(90deg,#eae51a 0.5px,#e7e419 15.5px,#ece51b 73.5px,#eae51a 104.5px,#e5e419 107.5px,#d0e11c 110.5px,#c2df23 111.5px,#8ed645 113.5px,#7ad151 114.5px,#84d44b 115.5px,#bddf26 117.5px,#d0e11c 118.5px,#e7e419 121.5px,#f1e51d 125.5px,#fde725 151.5px,#fde725 186.5px,#f4e61e 199.5px,#dde318 214.5px,#cde11d 222.5px,#b8de29 230.5px,#a8db34 233.5px,#90d743 235.5px,#7fd34e 236.5px,#63cb5f 237.5px,#3dbc74 238.5px,#1fa188 239.5px,#2c738e 240.5px,#3a548c 241.5px,#3a538b 372.5px)"></div>
<div class="r" style="background:linear-gradient(90deg,#ece51b 0.5px,#efe51c 106.5px,#eae51a 109.5px,#dde318 112.5px,#c2df23 114.5px,#8ed645 116.5px,#7fd34e 117.5px,#8ed645 118.5px,#c8e020 120.5px,#d8e219 121.5px,#e2e418 122.5px,#ece51b 124.5px,#f4e61e 127.5px,#fde725 144.5px,#fde725 186.5px,#f4e61e 198.5px,#dde318 213.5px,#c8e020 224.5px,#bade28 229.5px,#a2da37 233.5px,#86d549 235.5px,#6ccd5a 236.5px,#48c16e 237.5px,#24aa83 238.5px,#26828e 239.5px,#3a548c 240.5px,#3a538b 372.5px)"></div>
<div class="r" style="background:linear-gradient(90deg,#f1e51d 0.5px,#efe51c 44.5px,#f4e61e 108.5px,#efe51c 112.5px,#dfe318 115.5px,#c5e021 117.5px,#8ed645 119.5px,#84d44b 120.5px,#98d83e 121.5px,#b8de29 122.5px,#d0e11c 123.5px,#e7e419 125.5px,#f4e61e 128.5px,#fde725 139.5px,#fde725 185.5px,#f4e61e 197.5px,#dde318 213.5px,#cde11d 221.5px,#b8de29 229.5px,#addc30 231.5px,#9bd93c 233.5px,#75d054 235.5px,#54c568 236.5px,#2cb17e 237.5px,#218e8d 238.5px,#3a548c 239.5px,#3a538b 372.5px)"></div>
<div class="r" style="background:linear-gradient(90deg,#f4e61e 0.5px,#f6e620 112.5px,#f1e51d 115.5px,#e2e418 118.5px,#c5e021 120.5px,#8ed645 122.5px,#8bd646 123.5px,#a2da37 124.5px,#c0df25 125.5px,#d5e21a 126.5px,#e2e418 127.5px,#f4e61e 130.5px,#f8e621 132.5px,#fde725 139.5px,#fde725 184.5px,#f4e61e 196.5px,#dde318 212.5px,#c8e020 223.5px,#bade28 228.5px,#aadc32 231.5px,#90d743 233.5px,#7cd250 234.5px,#5ec962 235.5px,#37b878 236.5px,#1f998a 237.5px,#31668e 238.5px,#3a548c 239.5px,#3a538b 372.5px)"></div>
<div class="r" style="background:linear-gradient(90deg,#f6e620 0.5px,#fbe723 112.5px,#f4e61e 118.5px,#eae51a 120.5px,#d8e219 122.5px,#c2df23 123.5px,#90d743 125.5px,#90d743 126.5px,#c5e021 128.5px,#d8e219 129.5px,#e5e419 130.5px,#f1e51d 132.5px,#f8e621 135.5px,#fde725 142.5px,#fbe723 186.5px,#f4e61e 195.5px,#dde318 211.5px,#cde11d 220.5px,#b8de29 228.5px,#addc30 230.5px,#95d840 232.5px,#84d44b 233.5px,#67cc5c 234.5px,#40bd72 235.5px,#1fa287 236.5px,#2b758e 237.5px,#3a548c 238.5px,#3a538b 372.5px)"></div>
<div class="r" style="background:linear-gradient(90deg,#f8e621 0.5px,#f8e621 54.5px,#fde725 77.5px,#fbe723 116.5px,#f4e61e 121.5px,#e2e418 124.5px,#d5e21a 125.5px,#c2df23 126.5px,#a5db36 127.5px,#90d743 128.5px,#95d840 129.5px,#cae11f 131.5px,#e7e419 133.5px,#f1e51d 135.5px,#f8e621 138.5px,#fde725 145.5px,#fbe723 183.5px,#efe51c 198.5px,#dde318 210.5px,#c5e021 223.5px,#b5de2b 228.5px,#9bd93c 231.5px,#89d548 232.5px,#70cf57 233.5px,#4cc26c 234.5px,#25ac82 235.5px,#25838e 236.5px,#3a548c 237.5px,#3a538b 372.5px)"></div>
<div class="r" style="background:linear-gradient(90deg,#fbe723 0.5px,#fbe723 119.5px,#f6e620 123.5px,#e2e418 127.5px,#d5e21a 128.5px,#90d743 131.5px,#9bd93c 132.5px,#cde11d 134.5px,#e7e419 136.5px,#efe51c 137.5px,#fbe723 143.5px,#fde725 175.5px,#efe51c 196.5px,#d5e21a 214.5px,#c8e020 221.5px,#bade28 226.5px,#b0dd2f 228.5px,#9dd93b 230.5px,#8ed645 231.5px,#77d153 232.5px,#56c667 233.5px,#2eb37c 234.5px,#21908d 235.5px,#3a548c 236.5px,#3a538b 372.5px)"></div>
<div class="r" style="background:linear-gradient(90deg,#fde725 0.5px,#fbe723 122.5px,#eae51a 129.5px,#d2e21b 131.5px,#a2da37 133.5px,#93d741 134.5px,#9dd93b 135.5px,#d0e11c 137.5px,#dfe318 138.5px,#eae51a 139.5px,#f6e620 142.5px,#fde725 150.5px,#fde725 168.5px,#efe51c 193.5px,#d8e219 211.5px,#c5e021 221.5px,#b0dd2f 227.5px,#aadc32 228.5px,#93d741 230.5px,#7cd250 231.5px,#5ec962 232.5px,#38b977 233.5px,#1f9a8a 234.5px,#31688e 235.5px,#3a548c 236.5px,#3a538b 372.5px)"></div>
<div class="r" style="background:linear-gradient(90deg,#fde725 0.5px,#fbe723 125.5px,#eae51a 132.5px,#d2e21b 134.5px,#a2da37 136.5px,#95d840 137.5px,#a2da37 138.5px,#d2e21b 140.5px,#e2e418 141.5px,#f4e61e 144.5px,#f8e621 146.5px,#fde725 161.5px,#efe51c 190.5px,#d8e219 209.5px,#c0df25 222.5px,#b2dd2d 226.5px,#a2da37 228.5px,#84d44b 230.5px,#67cc5c 231.5px,#42be71 232.5px,#20a486 233.5px,#2a778e 234.5px,#3a548c 235.5px,#3a538b 372.5px)"></div>
<div class="r" style="background:linear-gradient(90deg,#fde725 0.5px,#fbe723 128.5px,#efe51c 134.5px,#dfe318 136.5px,#d0e11c 137.5px,#a2da37 139.5px,#98d83e 140.5px,#a8db34 141.5px,#c2df23 142.5px,#d5e21a 143.5px,#e2e418 144.5px,#f1e51d 146.5px,#f8e621 149.5px,#fbe723 161.5px,#eae51a 192.5px,#d5e21a 209.5px,#c0df25 221.5px,#b2dd2d 225.5px,#a5db36 227.5px,#89d548 229.5px,#6ece58 230.5px,#4cc26c 231.5px,#25ac82 232.5px,#25858e 233.5px,#3a548c 234.5px,#3a538b 372.5px)"></div>
<div class="r" style="background:linear-gradient(90deg,#fde725 0.5px,#fbe723 131.5px,#efe51c 137.5px,#dfe318 139.5px,#d0e11c 140.5px,#a2da37 142.5px,#9bd93c 143.5px,#aadc32 144.5px,#c5e021 145.5px,#d8e219 146.5px,#e5e419 147.5px,#efe51c 149.5px,#f6e620 152.5px,#f6e620 168.5px,#eae51a 188.5px,#dde318 200.5px,#d0e11c 210.5px,#c0df25 219.5px,#b2dd2d 224.5px,#9bd93c 227.5px,#75d054 229.5px,#56c667 230.5px,#2eb37c 231.5px,#21918c 232.5px,#39568c 233.5px,#3a548c 234.5px,#3a538b 372.5px)"></div>
<div class="r" style="background:linear-gradient(90deg,#fde725 0.5px,#fbe723 134.5px,#f4e61e 138.5px,#e7e419 141.5px,#cde11d 143.5px,#a0da39 145.5px,#9bd93c 146.5px,#c5e021 148.5px,#d8e219 149.5px,#e2e418 150.5px,#eae51a 151.5px,#f4e61e 155.5px,#f4e61e 166.5px,#e7e419 187.5px,#cde11d 209.5px,#bddf26 219.5px,#addc30 224.5px,#9dd93b 226.5px,#7ad151 228.5px,#5ec962 229.5px,#38b977 230.5px,#1e9b8a 231.5px,#306a8e 232.5px,#3a548c 233.5px,#3a538b 372.5px)"></div>
<div class="r" style="background:linear-gradient(90deg,#fde725 0.5px,#fde725 132.5px,#f6e620 139.5px,#efe51c 142.5px,#e5e419 144.5px,#cae11f 146.5px,#a0da39 148.5px,#9dd93b 149.5px,#c8e020 151.5px,#d8e219 152.5px,#e7e419 154.5px,#efe51c 157.5px,#efe51c 169.5px,#e5e419 185.5px,#cde11d 206.5px,#c0df25 215.5px,#b0dd2f 222.5px,#9dd93b 225.5px,#7fd34e 227.5px,#65cb5e 228.5px,#40bd72 229.5px,#20a486 230.5px,#2a788e 231.5px,#3a548c 232.5px,#3a538b 372.5px)"></div>
<div class="r" style="background:linear-gradient(90deg,#fde725 0.5px,#fbe723 134.5px,#f4e61e 142.5px,#e7e419 146.5px,#d5e21a 148.5px,#c5e021 149.5px,#9dd93b 151.5px,#9dd93b 152.5px,#c8e020 154.5px,#dfe318 156.5px,#eae51a 159.5px,#eae51a 170.5px,#dde318 188.5px,#c0df25 212.5px,#aadc32 222.5px,#9dd93b 224.5px,#84d44b 226.5px,#6ccd5a 227.5px,#4ac16d 228.5px,#25ac82 229.5px,#25858e 230.5px,#3a548c 231.5px,#3a538b 372.5px)"></div>
<div class="r" style="background:linear-gradient(90deg,#fde725 0.5px,#fde725 126.5px,#f8e621 136.5px,#f1e51d 144.5px,#e2e418 149.5px,#d0e11c 151.5px,#9bd93c 154.5px,#a0da39 155.5px,#c8e020 157.5px,#d2e21b 158.5px,#dfe318 160.5px,#e5e419 162.5px,#e5e419 171.5px,#d8e219 188.5px,#c0df25 209.5px,#a8db34 221.5px,#93d741 224.5px,#70cf57 226.5px,#52c569 227.5px,#2db27d 228.5px,#21918c 229.5px,#38598c 230.5px,#3a548c 231.5px,#3a538b 372.5px)"></div>
<div class="r" style="background:linear-gradient(90deg,#fde725 0.5px,#fde725 122.5px,#f4e61e 140.5px,#ece51b 147.5px,#dde318 152.5px,#cae11f 154.5px,#a5db36 156.5px,#98d83e 157.5px,#a2da37 158.5px,#c5e021 160.5px,#d8e219 162.5px,#dfe318 166.5px,#d8e219 182.5px,#b8de29 211.5px,#a5db36 220.5px,#9bd93c 222.5px,#86d549 224.5px,#73d056 225.5px,#58c765 226.5px,#35b779 227.5px,#1f9a8a 228.5px,#2f6b8e 229.5px,#3a548c 230.5px,#3a538b 372.5px)"></div>
<div class="r" style="background:linear-gradient(90deg,#fde725 0.5px,#fde725 119.5px,#f4e61e 136.5px,#eae51a 148.5px,#dde318 154.5px,#d0e11c 156.5px,#a0da39 159.5px,#95d840 160.5px,#b5de2b 162.5px,#cde11d 164.5px,#d5e21a 166.5px,#d8e219 174.5px,#d0e11c 184.5px,#b8de29 207.5px,#a2da37 219.5px,#93d741 222.5px,#86d549 223.5px,#5ec962 225.5px,#3dbc74 226.5px,#1fa287 227.5px,#29798e 228.5px,#3a548c 229.5px,#3a538b 372.5px)"></div>
<div class="r" style="background:linear-gradient(90deg,#fde725 0.5px,#fde725 114.5px,#efe51c 139.5px,#e5e419 150.5px,#d5e21a 157.5px,#c8e020 159.5px,#98d83e 162.5px,#93d741 163.5px,#c0df25 166.5px,#c8e020 167.5px,#d0e11c 170.5px,#c8e020 186.5px,#b8de29 202.5px,#a0da39 218.5px,#90d743 221.5px,#77d153 223.5px,#63cb5f 224.5px,#44bf70 225.5px,#24aa83 226.5px,#25858e 227.5px,#3a538b 228.5px,#3a538b 372.5px)"></div>
<div class="r" style="background:linear-gradient(90deg,#fde725 0.5px,#fde725 109.5px,#f4e61e 127.5px,#e5e419 146.5px,#d5e21a 158.5px,#c0df25 162.5px,#90d743 165.5px,#90d743 166.5px,#b0dd2f 168.5px,#c5e021 171.5px,#c8e020 178.5px,#c0df25 187.5px,#a8db34 210.5px,#98d83e 218.5px,#8ed645 220.5px,#84d44b 221.5px,#65cb5e 223.5px,#4ac16d 224.5px,#29af7f 225.5px,#21908d 226.5px,#375b8d 227.5px,#3a538b 228.5px,#3a538b 372.5px)"></div>
<div class="r" style="background:linear-gradient(90deg,#fde725 0.5px,#fde725 104.5px,#efe51c 130.5px,#dde318 150.5px,#c8e020 162.5px,#c5e021 163.5px,#b5de2b 165.5px,#89d548 168.5px,#8ed645 169.5px,#b5de2b 172.5px,#bddf26 174.5px,#c0df25 178.5px,#b8de29 188.5px,#a0da39 211.5px,#90d743 218.5px,#84d44b 220.5px,#67cc5c 222.5px,#2fb47c 224.5px,#1f988b 225.5px,#2f6b8e 226.5px,#3a538b 227.5px,#3a538b 372.5px)"></div>
<div class="r" style="background:linear-gradient(90deg,#fde725 0.5px,#fde725 98.5px,#e5e419 137.5px,#d5e21a 153.5px,#c0df25 165.5px,#b5de2b 167.5px,#9dd93b 169.5px,#8bd646 170.5px,#84d44b 171.5px,#8bd646 172.5px,#a8db34 174.5px,#b2dd2d 176.5px,#b5de2b 178.5px,#b0dd2f 189.5px,#93d741 214.5px,#8bd646 217.5px,#81d34d 219.5px,#77d153 220.5px,#52c569 222.5px,#35b779 223.5px,#1fa088 224.5px,#2a788e 225.5px,#3a538b 226.5px,#3b528b 372.5px)"></div>
<div class="r" style="background:linear-gradient(90deg,#fde725 0.5px,#fde725 91.5px,#f4e61e 112.5px,#e5e419 132.5px,#d5e21a 148.5px,#c0df25 164.5px,#b5de2b 168.5px,#aadc32 170.5px,#84d44b 173.5px,#7fd34e 174.5px,#a0da39 177.5px,#aadc32 180.5px,#a8db34 189.5px,#8ed645 213.5px,#84d44b 217.5px,#75d054 219.5px,#54c568 221.5px,#3aba76 222.5px,#21a685 223.5px,#25838e 224.5px,#3a538b 225.5px,#3b528b 372.5px)"></div>
<div class="r" style="background:linear-gradient(90deg,#fde725 0.5px,#fde725 81.5px,#f4e61e 107.5px,#e5e419 127.5px,#cde11d 150.5px,#b2dd2d 169.5px,#a0da39 173.5px,#7cd250 176.5px,#7cd250 177.5px,#9bd93c 180.5px,#a0da39 182.5px,#a0da39 189.5px,#89d548 212.5px,#7ad151 217.5px,#67cc5c 219.5px,#56c667 220.5px,#3fbc73 221.5px,#25ab82 222.5px,#228d8d 223.5px,#365c8d 224.5px,#3b528b 225.5px,#3b528b 372.5px)"></div>
<div class="r" style="background:linear-gradient(90deg,#fbe723 0.5px,#fbe723 81.5px,#f4e61e 101.5px,#e5e419 122.5px,#d0e11c 143.5px,#addc30 169.5px,#9bd93c 175.5px,#75d054 179.5px,#77d153 180.5px,#84d44b 181.5px,#95d840 184.5px,#93d741 194.5px,#81d34d 212.5px,#7ad151 215.5px,#65cb5e 218.5px,#56c667 219.5px,#40bd72 220.5px,#28ae80 221.5px,#1f958b 222.5px,#2f6b8e 223.5px,#3b528b 224.5px,#3b528b 372.5px)"></div>
<div class="r" style="background:linear-gradient(90deg,#f8e621 0.5px,#f8e621 80.5px,#f4e61e 95.5px,#e5e419 117.5px,#cde11d 140.5px,#a2da37 172.5px,#90d743 178.5px,#73d056 181.5px,#6ece58 182.5px,#86d549 185.5px,#8bd646 187.5px,#89d548 196.5px,#7ad151 211.5px,#70cf57 215.5px,#60ca60 217.5px,#56c667 218.5px,#42be71 219.5px,#2cb17e 220.5px,#1e9c89 221.5px,#2a778e 222.5px,#3b528b 223.5px,#3b528b 372.5px)"></div>
<div class="r" style="background:linear-gradient(90deg,#f6e620 0.5px,#f4e61e 87.5px,#eae51a 106.5px,#d8e219 126.5px,#bddf26 148.5px,#93d741 177.5px,#7fd34e 182.5px,#6ccd5a 184.5px,#69cd5b 185.5px,#7cd250 188.5px,#81d34d 190.5px,#81d34d 195.5px,#73d056 211.5px,#6ece58 213.5px,#5ec962 216.5px,#44bf70 218.5px,#2fb47c 219.5px,#1fa188 220.5px,#26818e 221.5px,#3b528b 222.5px,#3b518b 372.5px)"></div>
<div class="r" style="background:linear-gradient(90deg,#f4e61e 0.5px,#f4e61e 75.5px,#eae51a 100.5px,#d8e219 121.5px,#b8de29 147.5px,#b2dd2d 149.5px,#8bd646 178.5px,#7fd34e 183.5px,#65cb5e 187.5px,#65cb5e 188.5px,#77d153 192.5px,#6ccd5a 210.5px,#65cb5e 213.5px,#52c569 216.5px,#31b57b 218.5px,#20a486 219.5px,#23898e 220.5px,#365c8d 221.5px,#3b518b 222.5px,#3b518b 372.5px)"></div>
<div class="r" style="background:linear-gradient(90deg,#f1e51d 0.5px,#efe51c 81.5px,#e5e419 101.5px,#d8e219 116.5px,#b8de29 142.5px,#95d840 164.5px,#84d44b 178.5px,#77d153 185.5px,#5ec962 190.5px,#6ece58 195.5px,#63cb5f 210.5px,#56c667 214.5px,#42be71 216.5px,#22a884 218.5px,#21918c 219.5px,#306a8e 220.5px,#3b518b 221.5px,#3b518b 372.5px)"></div>
<div class="r" style="background:linear-gradient(90deg,#ece51b 0.5px,#ece51b 77.5px,#e5e419 95.5px,#d8e219 111.5px,#b8de29 137.5px,#75d054 183.5px,#6ccd5a 188.5px,#58c765 193.5px,#63cb5f 196.5px,#63cb5f 202.5px,#5cc863 209.5px,#52c569 213.5px,#40bd72 215.5px,#24aa83 217.5px,#1f958b 218.5px,#3b518b 220.5px,#3b518b 372.5px)"></div>
<div class="r" style="background:linear-gradient(90deg,#eae51a 0.5px,#eae51a 71.5px,#e5e419 87.5px,#d8e219 105.5px,#b8de29 132.5px,#81d34d 167.5px,#67cc5c 188.5px,#54c568 195.5px,#5ac864 199.5px,#56c667 208.5px,#50c46a 211.5px,#3fbc73 214.5px,#25ac82 216.5px,#1f9a8a 217.5px,#287d8e 218.5px,#3b518b 219.5px,#3c508b 372.5px)"></div>
<div class="r" style="background:linear-gradient(90deg,#e7e419 0.5px,#e5e419 75.5px,#d8e219 100.5px,#bddf26 124.5px,#7cd250 165.5px,#58c765 194.5px,#4ec36b 198.5px,#52c569 201.5px,#4ec36b 208.5px,#4ac16d 210.5px,#3bbb75 213.5px,#26ad81 215.5px,#1e9d89 216.5px,#25848e 217.5px,#365c8d 218.5px,#3c508b 219.5px,#3c508b 372.5px)"></div>
<div class="r" style="background:linear-gradient(90deg,#e2e418 0.5px,#dfe318 14.5px,#e2e418 67.5px,#dde318 84.5px,#d0e11c 103.5px,#a8db34 134.5px,#65cb5e 176.5px,#48c16e 201.5px,#48c16e 207.5px,#38b977 212.5px,#26ad81 214.5px,#1fa088 215.5px,#238a8d 216.5px,#31688e 217.5px,#3c508b 218.5px,#3c508b 372.5px)"></div>
<div class="r" style="background:linear-gradient(90deg,#dde318 0.5px,#dde318 70.5px,#d0e11c 96.5px,#b0dd2f 124.5px,#77d153 158.5px,#5cc863 177.5px,#3dbc74 209.5px,#2eb37c 212.5px,#1fa187 214.5px,#218f8d 215.5px,#3c508b 217.5px,#3c508b 372.5px)"></div>
<div class="r" style="background:linear-gradient(90deg,#dae319 0.5px,#d8e219 72.5px,#c8e020 99.5px,#a8db34 125.5px,#60ca60 168.5px,#42be71 195.5px,#3dbc74 206.5px,#31b57b 210.5px,#25ac82 212.5px,#1fa187 213.5px,#20928c 214.5px,#29798e 215.5px,#3c4f8a 216.5px,#3c4f8a 372.5px)"></div>
<div class="r" style="background:linear-gradient(90deg,#d5e21a 0.5px,#d2e21b 6.5px,#d5e21a 59.5px,#d0e11c 79.5px,#c5e021 96.5px,#b0dd2f 115.5px,#60ca60 163.5px,#4cc26c 178.5px,#40bd72 189.5px,#37b878 206.5px,#2eb37c 209.5px,#25ab82 211.5px,#1fa287 212.5px,#1f948c 213.5px,#277f8e 214.5px,#375b8d 215.5px,#3c4f8a 216.5px,#3c4f8a 372.5px)"></div>
<div class="r" style="background:linear-gradient(90deg,#d0e11c 0.5px,#cde11d 6.5px,#d0e11c 60.5px,#c0df25 95.5px,#a0da39 121.5px,#5cc863 161.5px,#46c06f 177.5px,#31b57b 205.5px,#27ad81 209.5px,#1fa187 211.5px,#1f968b 212.5px,#25838e 213.5px,#32658e 214.5px,#3c4f8a 215.5px,#3c4f8a 372.5px)"></div>
<div class="r" style="background:linear-gradient(90deg,#cae11f 0.5px,#cae11f 59.5px,#bddf26 91.5px,#9bd93c 120.5px,#6ccd5a 147.5px,#40bd72 176.5px,#2db27d 203.5px,#25ab82 208.5px,#1fa187 210.5px,#24878e 212.5px,#2e6e8e 213.5px,#3d4e8a 214.5px,#3d4e8a 372.5px)"></div>
<div class="r" style="background:linear-gradient(90deg,#c5e021 0.5px,#c2df23 3.5px,#c5e021 57.5px,#b8de29 90.5px,#a0da39 112.5px,#73d056 140.5px,#40bd72 171.5px,#32b67a 185.5px,#26ad81 205.5px,#1fa188 209.5px,#238a8d 211.5px,#2b748e 212.5px,#3d4e8a 213.5px,#3d4e8a 372.5px)"></div>
<div class="r" style="background:linear-gradient(90deg,#bddf26 0.5px,#c0df25 51.5px,#b8de29 81.5px,#b0dd2f 92.5px,#93d741 116.5px,#63cb5f 145.5px,#40bd72 166.5px,#2fb47c 182.5px,#24aa83 204.5px,#1f9f88 208.5px,#228c8d 210.5px,#29798e 211.5px,#38598c 212.5px,#3d4d8a 213.5px,#3d4e8a 372.5px)"></div>
<div class="r" style="background:linear-gradient(90deg,#b8de29 0.5px,#b8de29 65.5px,#b0dd2f 83.5px,#93d741 111.5px,#63cb5f 141.5px,#38b977 168.5px,#29af7f 184.5px,#22a884 201.5px,#1e9d89 207.5px,#228d8d 209.5px,#287d8e 210.5px,#3d4d8a 212.5px,#3d4d8a 372.5px)"></div>
<div class="r" style="background:linear-gradient(90deg,#b2dd2d 0.5px,#b2dd2d 61.5px,#a5db36 89.5px,#8ed645 110.5px,#63cb5f 137.5px,#3bbb75 161.5px,#29af7f 178.5px,#22a884 192.5px,#20a486 201.5px,#1e9b8a 206.5px,#218e8d 208.5px,#27808e 209.5px,#3d4d8a 211.5px,#3d4d8a 372.5px)"></div>
<div class="r" style="background:linear-gradient(90deg,#addc30 0.5px,#aadc32 8.5px,#addc30 53.5px,#a8db34 74.5px,#a0da39 87.5px,#84d44b 112.5px,#40bd72 153.5px,#29af7f 173.5px,#22a884 185.5px,#1fa188 201.5px,#1f998a 205.5px,#218e8d 207.5px,#26828e 208.5px,#2e6f8e 209.5px,#3d4d8a 210.5px,#3e4c8a 211.5px,#3d4d8a 372.5px)"></div>
<div class="r" style="background:linear-gradient(90deg,#a5db36 0.5px,#a5db36 62.5px,#9bd93c 85.5px,#84d44b 107.5px,#5ac864 134.5px,#32b67a 160.5px,#25ac82 174.5px,#1fa287 189.5px,#1f9e89 200.5px,#20938c 205.5px,#25838e 207.5px,#2c728e 208.5px,#39568c 209.5px,#3e4c8a 210.5px,#3e4c8a 372.5px)"></div>
<div class="r" style="background:linear-gradient(90deg,#a0da39 0.5px,#a0da39 54.5px,#98d83e 79.5px,#84d44b 102.5px,#5ac864 130.5px,#32b67a 156.5px,#26ad81 168.5px,#1fa287 183.5px,#1f9a8a 200.5px,#20928c 204.5px,#25838e 206.5px,#2a768e 207.5px,#3e4c8a 209.5px,#3e4c8a 372.5px)"></div>
<div class="r" style="background:linear-gradient(90deg,#98d83e 0.5px,#98d83e 61.5px,#8ed645 84.5px,#7ad151 104.5px,#5ac864 126.5px,#32b67a 152.5px,#25ac82 165.5px,#1fa287 178.5px,#1f978b 199.5px,#21908d 203.5px,#25848e 205.5px,#2a788e 206.5px,#32658e 207.5px,#3e4a89 208.5px,#3e4c8a 372.5px)"></div>
<div class="r" style="background:linear-gradient(90deg,#90d743 0.5px,#93d741 47.5px,#89d548 81.5px,#6ece58 108.5px,#2fb47c 151.5px,#25ac82 161.5px,#1fa287 174.5px,#21918c 201.5px,#238a8d 203.5px,#297a8e 205.5px,#306a8e 206.5px,#3d4d8a 207.5px,#3e4a89 208.5px,#3e4a89 372.5px)"></div>
<div class="r" style="background:linear-gradient(90deg,#8bd646 0.5px,#8bd646 55.5px,#84d44b 78.5px,#73d056 98.5px,#52c569 123.5px,#2fb47c 147.5px,#1fa287 169.5px,#20928c 197.5px,#228c8d 201.5px,#297b8e 204.5px,#2e6d8e 205.5px,#39558c 206.5px,#3e4a89 207.5px,#3e4a89 372.5px)"></div>
<div class="r" style="background:linear-gradient(90deg,#84d44b 0.5px,#84d44b 59.5px,#7fd34e 74.5px,#75d054 89.5px,#52c569 119.5px,#2ab07f 148.5px,#1fa287 165.5px,#238a8d 200.5px,#297b8e 203.5px,#2d708e 204.5px,#3e4a89 206.5px,#3e4a89 372.5px)"></div>
<div class="r" style="background:linear-gradient(90deg,#7cd250 0.5px,#7cd250 61.5px,#73d056 83.5px,#63cb5f 101.5px,#2ab07f 144.5px,#1fa287 162.5px,#23888e 199.5px,#26828e 201.5px,#2c718e 203.5px,#34618d 204.5px,#3e4989 205.5px,#3e4989 372.5px)"></div>
<div class="r" style="background:linear-gradient(90deg,#75d054 0.5px,#75d054 62.5px,#6ccd5a 83.5px,#5cc863 101.5px,#48c16e 117.5px,#2fb47c 136.5px,#1fa287 158.5px,#24878e 197.5px,#297b8e 201.5px,#32658e 203.5px,#3e4c8a 204.5px,#3e4989 205.5px,#3e4989 372.5px)"></div>
<div class="r" style="background:linear-gradient(90deg,#6ece58 0.5px,#70cf57 46.5px,#6ccd5a 70.5px,#5ec962 92.5px,#3dbc74 121.5px,#29af7f 138.5px,#1fa287 154.5px,#25858e 196.5px,#297b8e 200.5px,#31688e 202.5px,#3a538b 203.5px,#3e4989 204.5px,#3e4989 372.5px)"></div>
<div class="r" style="background:linear-gradient(90deg,#67cc5c 0.5px,#69cd5b 48.5px,#65cb5e 70.5px,#56c667 94.5px,#3dbc74 117.5px,#2ab07f 133.5px,#1fa287 151.5px,#26818e 197.5px,#297a8e 199.5px,#306a8e 201.5px,#3f4889 203.5px,#3e4989 372.5px)"></div>
<div class="r" style="background:linear-gradient(90deg,#60ca60 0.5px,#63cb5f 47.5px,#5cc863 75.5px,#50c46a 94.5px,#32b67a 122.5px,#23a983 139.5px,#1e9d89 154.5px,#26828e 194.5px,#2c738e 199.5px,#365d8d 201.5px,#3f4889 202.5px,#3f4889 372.5px)"></div>
<div class="r" style="background:linear-gradient(90deg,#5ac864 0.5px,#5cc863 45.5px,#58c765 69.5px,#4cc26c 91.5px,#32b67a 118.5px,#1fa287 144.5px,#277f8e 194.5px,#2a788e 197.5px,#2e6d8e 199.5px,#34608d 200.5px,#3e4c8a 201.5px,#3f4889 202.5px,#3f4889 372.5px)"></div>
<div class="r" style="background:linear-gradient(90deg,#54c568 0.5px,#52c569 68.5px,#46c06f 91.5px,#31b57b 115.5px,#22a884 133.5px,#1e9d89 148.5px,#287d8e 193.5px,#2a778e 196.5px,#2e6d8e 198.5px,#33638d 199.5px,#3b518b 200.5px,#3f4889 201.5px,#3f4889 372.5px)"></div>
<div class="r" style="background:linear-gradient(90deg,#4ec36b 0.5px,#4cc26c 67.5px,#3fbc73 93.5px,#2fb47c 112.5px,#22a884 129.5px,#1e9d89 144.5px,#297a8e 193.5px,#2e6e8e 197.5px,#32658e 198.5px,#3f4889 200.5px,#3f4889 372.5px)"></div>
<div class="r" style="background:linear-gradient(90deg,#48c16e 0.5px,#46c06f 65.5px,#3fbc73 84.5px,#26ad81 119.5px,#1e9b8a 143.5px,#29798e 192.5px,#2c728e 195.5px,#31678e 197.5px,#3f4788 199.5px,#3f4788 372.5px)"></div>
<div class="r" style="background:linear-gradient(90deg,#42be71 0.5px,#3fbc73 70.5px,#32b67a 96.5px,#25ac82 116.5px,#1e9b8a 140.5px,#2a768e 192.5px,#31688e 196.5px,#365d8d 197.5px,#3e4a89 198.5px,#3f4788 199.5px,#3f4788 372.5px)"></div>
<div class="r" style="background:linear-gradient(90deg,#3bbb75 0.5px,#3aba76 68.5px,#25ab82 113.5px,#1e9b8a 136.5px,#2b758e 191.5px,#30698e 195.5px,#3f4788 198.5px,#3f4788 372.5px)"></div>
<div class="r" style="background:linear-gradient(90deg,#37b878 0.5px,#37b878 58.5px,#31b57b 81.5px,#23a983 111.5px,#1e9b8a 133.5px,#2b748e 190.5px,#30698e 194.5px,#33628d 195.5px,#3f4788 197.5px,#3f4788 372.5px)"></div>
<div class="r" style="background:linear-gradient(90deg,#32b67a 0.5px,#2fb47c 70.5px,#26ad81 97.5px,#1fa088 122.5px,#1f948c 139.5px,#2d718e 191.5px,#33638d 194.5px,#3f4788 196.5px,#3f4788 372.5px)"></div>
<div class="r" style="background:linear-gradient(90deg,#2db27d 0.5px,#2cb17e 68.5px,#25ab82 94.5px,#1f9f88 119.5px,#23898e 151.5px,#2d718e 190.5px,#32658e 193.5px,#375b8d 194.5px,#3e4a89 195.5px,#3f4788 196.5px,#3f4788 372.5px)"></div>
<div class="r" style="background:linear-gradient(90deg,#29af7f 0.5px,#26ad81 76.5px,#1f9f88 114.5px,#23898e 148.5px,#2d708e 189.5px,#31668e 192.5px,#3f4788 195.5px,#3f4788 372.5px)"></div>
<div class="r" style="background:linear-gradient(90deg,#26ad81 0.5px,#25ab82 69.5px,#1e9c89 114.5px,#2d708e 188.5px,#31678e 191.5px,#34608d 192.5px,#3f4788 194.5px,#404688 372.5px)"></div>
<div class="r" style="background:linear-gradient(90deg,#23a983 0.5px,#22a785 72.5px,#1fa188 97.5px,#20928c 128.5px,#2e6f8e 188.5px,#33628d 191.5px,#38588c 192.5px,#3f4788 193.5px,#404688 372.5px)"></div>
<div class="r" style="background:linear-gradient(90deg,#21a685 0.5px,#20a486 69.5px,#20928c 123.5px,#2e6f8e 187.5px,#32648e 190.5px,#375b8d 191.5px,#3e4a89 192.5px,#3f4788 193.5px,#404688 372.5px)"></div>
<div class="r" style="background:linear-gradient(90deg,#1fa287 0.5px,#1fa188 72.5px,#20928c 118.5px,#2d718e 185.5px,#32658e 189.5px,#3f4788 192.5px,#404688 372.5px)"></div>
<div class="r" style="background:linear-gradient(90deg,#1fa088 0.5px,#1e9c89 80.5px,#20928c 112.5px,#2c738e 180.5px,#2f6b8e 187.5px,#34608d 189.5px,#3f4788 191.5px,#404688 372.5px)"></div>
<div class="r" style="background:linear-gradient(90deg,#1e9c89 0.5px,#1f988b 82.5px,#2d718e 184.5px,#30698e 187.5px,#38588c 189.5px,#3f4788 190.5px,#3f4788 372.5px)"></div>
<div class="r" style="background:linear-gradient(90deg,#1f998a 0.5px,#1f998a 48.5px,#20928c 96.5px,#2c738e 180.5px,#306a8e 186.5px,#32658e 187.5px,#365c8d 188.5px,#3e4c8a 189.5px,#3f4788 190.5px,#3f4788 372.5px)"></div>
<div class="r" style="background:linear-gradient(90deg,#1f958b 0.5px,#20928c 83.5px,#2b748e 178.5px,#2f6c8e 185.5px,#355f8d 187.5px,#3f4788 189.5px,#3f4788 372.5px)"></div>
<div class="r" style="background:linear-gradient(90deg,#20928c 0.5px,#218f8d 80.5px,#2b748e 179.5px,#2d718e 183.5px,#306a8e 185.5px,#33628d 186.5px,#3f4788 188.5px,#3f4788 372.5px)"></div>
<div class="r" style="background:linear-gradient(90deg,#21918c 0.5px,#218e8d 76.5px,#2b758e 177.5px,#2c718e 182.5px,#2f6b8e 184.5px,#375a8c 186.5px,#3f4788 187.5px,#3f4788 372.5px)"></div>
</div>
<div id="hb">
<div class="r" style="background:linear-gradient(90deg,#21918c 0.5px,#218f8d 4.5px,#26828e 13.5px,#2c728e 30.5px,#3a548c 85.5px,#424186 132.5px,#453581 200.5px,#472f7d 347.5px,#482878 356.5px,#481467 368.5px,#471063 380.5px)"></div>
<div class="r" style="background:linear-gradient(90deg,#228c8e 0.5px,#24868e 7.5px,#2c738e 23.5px,#34618d 45.5px,#404488 111.5px,#443a84 147.5px,#453581 190.5px,#472f7d 348.5px,#472c7a 354.5px,#482677 358.5px,#481c6e 363.5px,#471164 372.5px,#471063 380.5px)"></div>
<div class="r" style="background:linear-gradient(90deg,#287e8e 0.5px,#287e8e 4.5px,#34608d 36.5px,#38588c 49.5px,#424086 109.5px,#453581 181.5px,#472f7d 349.5px,#482878 357.5px,#481467 369.5px,#471063 380.5px)"></div>
<div class="r" style="background:linear-gradient(90deg,#2e6f8e 0.5px,#32658e 23.5px,#3a548c 46.5px,#424286 96.5px,#443a84 127.5px,#463480 192.5px,#472f7d 349.5px,#472c7a 355.5px,#481467 370.5px,#471063 380.5px)"></div>
<div class="r" style="background:linear-gradient(90deg,#34608d 0.5px,#365c8d 26.5px,#3c4e8a 52.5px,#443a84 120.5px,#463480 186.5px,#472f7d 350.5px,#482878 358.5px,#481467 370.5px,#471063 380.5px)"></div>
<div class="r" style="background:linear-gradient(90deg,#3a528b 0.5px,#3b528b 11.5px,#39568c 26.5px,#443b84 111.5px,#453581 160.5px,#46307e 345.5px,#472d7b 355.5px,#482878 359.5px,#481769 368.5px,#471365 372.5px,#471063 380.5px)"></div>
<div class="r" style="background:linear-gradient(90deg,#404688 0.5px,#3f4888 12.5px,#3c508a 23.5px,#3c508a 31.5px,#443b84 107.5px,#453581 155.5px,#46307e 346.5px,#472d7b 355.5px,#482576 361.5px,#481467 371.5px,#471164 380.5px)"></div>
<div class="r" style="background:linear-gradient(90deg,#433d84 0.5px,#424086 11.5px,#3e4c8a 25.5px,#3e4c8a 33.5px,#404688 70.5px,#443b84 104.5px,#453581 150.5px,#46307e 347.5px,#472d7b 356.5px,#482878 360.5px,#481769 369.5px,#471164 376.5px,#471164 380.5px)"></div>
<div class="r" style="background:linear-gradient(90deg,#463681 0.5px,#443982 11.5px,#404788 24.5px,#3e4889 37.5px,#404688 69.5px,#443b84 102.5px,#453581 146.5px,#46307e 348.5px,#472e7c 355.5px,#482a7a 359.5px,#481467 372.5px,#471164 380.5px)"></div>
<div class="r" style="background:linear-gradient(90deg,#46307d 0.5px,#463480 12.5px,#404488 25.5px,#404688 36.5px,#404688 68.5px,#443b84 100.5px,#453581 143.5px,#46307e 349.5px,#472d7b 357.5px,#482475 363.5px,#48186a 370.5px,#471164 380.5px)"></div>
<div class="r" style="background:linear-gradient(90deg,#472c7a 0.5px,#462f7d 11.5px,#433e84 21.5px,#414387 28.5px,#404688 68.5px,#443b84 99.5px,#453581 141.5px,#46307e 350.5px,#472b7a 359.5px,#48186a 370.5px,#471164 380.5px)"></div>
<div class="r" style="background:linear-gradient(90deg,#482778 0.5px,#472c7a 11.5px,#453882 19.5px,#424086 28.5px,#404688 54.5px,#404688 69.5px,#443b84 98.5px,#453581 138.5px,#46307e 351.5px,#472c7a 359.5px,#48186a 371.5px,#471264 380.5px)"></div>
<div class="r" style="background:linear-gradient(90deg,#482476 0.5px,#482878 10.5px,#423e85 27.5px,#404688 65.5px,#443a83 102.5px,#453581 137.5px,#46307e 352.5px,#472c7a 359.5px,#48186a 371.5px,#471365 380.5px)"></div>
<div class="r" style="background:linear-gradient(90deg,#482274 0.5px,#482676 11.5px,#453581 21.5px,#433d84 27.5px,#404588 50.5px,#3f4788 67.5px,#443b84 97.5px,#453581 135.5px,#46307e 353.5px,#472c7a 360.5px,#48196b 371.5px,#471365 380.5px)"></div>
<div class="r" style="background:linear-gradient(90deg,#482070 0.5px,#482676 13.5px,#453781 23.5px,#433d84 29.5px,#3f4788 57.5px,#3f4888 68.5px,#443b84 97.5px,#453581 134.5px,#46327e 344.5px,#46307e 354.5px,#472c7a 360.5px,#48186a 372.5px,#471365 380.5px)"></div>
<div class="r" style="background:linear-gradient(90deg,#481d6f 0.5px,#482274 11.5px,#453581 23.5px,#433d84 31.5px,#3f4889 59.5px,#3e4889 67.5px,#443b84 97.5px,#453581 133.5px,#46327e 347.5px,#472e7c 359.5px,#482878 364.5px,#48186a 373.5px,#481466 380.5px)"></div>
<div class="r" style="background:linear-gradient(90deg,#481c6e 0.5px,#482173 12.5px,#453781 25.5px,#433d84 32.5px,#3f4889 56.5px,#3e4a89 68.5px,#443b84 97.5px,#453581 132.5px,#46327e 350.5px,#472d7b 361.5px,#481c6e 371.5px,#481467 380.5px)"></div>
<div class="r" style="background:linear-gradient(90deg,#481b6d 0.5px,#481c6e 8.5px,#482173 13.5px,#443983 28.5px,#3e4c8a 65.5px,#443b84 97.5px,#453581 131.5px,#46327e 351.5px,#472a7a 363.5px,#48186a 374.5px,#481467 380.5px)"></div>
<div class="r" style="background:linear-gradient(90deg,#481a6c 0.5px,#481c6e 9.5px,#482173 14.5px,#46327e 23.5px,#443983 29.5px,#3e4c8a 59.5px,#3d4e8a 68.5px,#443b84 97.5px,#453581 130.5px,#46327e 353.5px,#472a7a 364.5px,#481d6f 371.5px,#481668 380.5px)"></div>
<div class="r" style="background:linear-gradient(90deg,#48186a 0.5px,#481d6f 12.5px,#472f7d 22.5px,#443983 29.5px,#414287 45.5px,#3c508a 61.5px,#3c508a 68.5px,#414287 84.5px,#443b84 97.5px,#453581 130.5px,#46327e 355.5px,#482a7a 365.5px,#481c6e 373.5px,#481668 380.5px)"></div>
<div class="r" style="background:linear-gradient(90deg,#48186a 0.5px,#481c6e 12.5px,#46327e 24.5px,#443983 30.5px,#424186 43.5px,#3c508a 58.5px,#3a528b 66.5px,#414287 85.5px,#443b84 97.5px,#453581 129.5px,#46327e 356.5px,#472a7a 365.5px,#481c6e 373.5px,#481769 380.5px)"></div>
<div class="r" style="background:linear-gradient(90deg,#481769 0.5px,#481d6f 13.5px,#472f7d 23.5px,#443983 30.5px,#424186 43.5px,#3a558c 63.5px,#3a548c 69.5px,#424186 87.5px,#443b84 98.5px,#453581 129.5px,#46327e 357.5px,#472a7a 366.5px,#481c6e 374.5px,#48186a 380.5px)"></div>
<div class="r" style="background:linear-gradient(90deg,#481668 0.5px,#48186a 8.5px,#481d6f 14.5px,#453581 27.5px,#414287 44.5px,#385a8c 64.5px,#38588c 68.5px,#414287 86.5px,#443983 105.5px,#463480 156.5px,#46337f 350.5px,#46327e 358.5px,#472d7b 365.5px,#482072 372.5px,#48186a 380.5px)"></div>
<div class="r" style="background:linear-gradient(90deg,#481668 0.5px,#48186a 9.5px,#481c6e 14.5px,#46327e 25.5px,#443983 31.5px,#3e4889 49.5px,#38598c 59.5px,#365e8d 64.5px,#385a8c 70.5px,#3e4a89 80.5px,#424186 88.5px,#443983 105.5px,#463480 158.5px,#46337f 355.5px,#472e7c 364.5px,#481c6e 376.5px,#481a6c 380.5px)"></div>
<div class="r" style="background:linear-gradient(90deg,#481668 0.5px,#48186a 10.5px,#481d6f 15.5px,#472f7d 24.5px,#443983 31.5px,#3f4889 48.5px,#34608d 61.5px,#32638e 65.5px,#365e8d 70.5px,#3c508a 77.5px,#414287 87.5px,#443983 105.5px,#463480 160.5px,#46337f 357.5px,#472c7a 367.5px,#482072 374.5px,#481b6d 380.5px)"></div>
<div class="r" style="background:linear-gradient(90deg,#481467 0.5px,#481c6e 15.5px,#46307e 25.5px,#443983 31.5px,#3e4989 48.5px,#30698e 64.5px,#32668e 68.5px,#39568c 75.5px,#3f4888 83.5px,#424086 90.5px,#443983 105.5px,#453581 128.5px,#463480 163.5px,#46337f 359.5px,#472a7a 369.5px,#481c6e 380.5px)"></div>
<div class="r" style="background:linear-gradient(90deg,#481467 0.5px,#481769 9.5px,#481d6f 16.5px,#46327e 26.5px,#3f4889 47.5px,#39568c 54.5px,#2f6b8e 61.5px,#2d708e 64.5px,#2e6f8e 67.5px,#3a538b 77.5px,#3f4889 83.5px,#424186 89.5px,#443a83 101.5px,#453581 128.5px,#46337f 361.5px,#472a7a 370.5px,#481d6f 380.5px)"></div>
<div class="r" style="background:linear-gradient(90deg,#481467 0.5px,#48186a 12.5px,#482071 18.5px,#472c7a 23.5px,#453581 29.5px,#3e4989 47.5px,#39568c 53.5px,#2b758e 62.5px,#297a8e 65.5px,#2d708e 69.5px,#3a548c 77.5px,#3e4a89 82.5px,#414287 88.5px,#443a83 101.5px,#453581 128.5px,#463480 357.5px,#46307e 367.5px,#482070 380.5px)"></div>
<div class="r" style="background:linear-gradient(90deg,#481467 0.5px,#481668 8.5px,#481b6d 15.5px,#453581 29.5px,#3e4a89 47.5px,#38578c 53.5px,#32668e 57.5px,#26838e 63.5px,#24868e 65.5px,#26828e 67.5px,#365c8d 75.5px,#3c4f8a 80.5px,#414287 89.5px,#443a83 101.5px,#453581 128.5px,#463480 361.5px,#46327e 366.5px,#482274 380.5px)"></div>
<div class="r" style="background:linear-gradient(90deg,#471365 0.5px,#481769 11.5px,#481d6f 17.5px,#453581 29.5px,#414287 42.5px,#3e4a89 47.5px,#39568c 52.5px,#32648e 56.5px,#2b748e 59.5px,#20908c 63.5px,#20968b 65.5px,#218e8c 67.5px,#2c728e 71.5px,#31688e 73.5px,#3a548c 78.5px,#3f4889 84.5px,#443b84 99.5px,#453581 128.5px,#463480 364.5px,#482475 380.5px)"></div>
<div class="r" style="background:linear-gradient(90deg,#471365 0.5px,#48186a 13.5px,#482072 19.5px,#463480 29.5px,#414287 42.5px,#3e4a89 47.5px,#39568c 52.5px,#31678e 56.5px,#287a8e 59.5px,#1e988b 62.5px,#22a884 64.5px,#24a983 65.5px,#22a686 66.5px,#20948c 68.5px,#2a778e 71.5px,#2c708e 72.5px,#34608d 75.5px,#39568c 78.5px,#3f4788 85.5px,#443b84 99.5px,#453581 128.5px,#453581 362.5px,#46327e 369.5px,#482778 380.5px)"></div>
<div class="r" style="background:linear-gradient(90deg,#471365 0.5px,#481467 7.5px,#481b6d 16.5px,#453581 30.5px,#424186 41.5px,#3e4a89 47.5px,#3a548c 51.5px,#32648e 55.5px,#2a768e 58.5px,#228a8e 60.5px,#1f968b 61.5px,#20a486 62.5px,#2cb27e 63.5px,#3dbb74 64.5px,#42be72 65.5px,#37b878 66.5px,#26ac81 67.5px,#1e9e88 68.5px,#24858e 70.5px,#2c728e 72.5px,#33628d 75.5px,#39568c 78.5px,#3e4a89 83.5px,#414287 89.5px,#443b84 99.5px,#453581 128.5px,#453581 366.5px,#482a7a 380.5px)"></div>
<div class="r" style="background:linear-gradient(90deg,#471365 0.5px,#481467 8.5px,#481d6f 18.5px,#453581 30.5px,#424186 41.5px,#3e4a89 47.5px,#3a548c 51.5px,#32648e 55.5px,#2d718e 57.5px,#26828e 59.5px,#1e9d89 61.5px,#28ae80 62.5px,#44be70 63.5px,#63ca5f 64.5px,#6dce59 65.5px,#57c666 66.5px,#37b878 67.5px,#22a684 68.5px,#1f968b 69.5px,#23898e 70.5px,#2b748e 72.5px,#355e8d 76.5px,#38578c 78.5px,#3e4a89 83.5px,#404688 86.5px,#443b84 99.5px,#453581 129.5px,#463480 349.5px,#453781 367.5px,#472e7c 380.5px)"></div>
<div class="r" style="background:linear-gradient(90deg,#471365 0.5px,#48186a 14.5px,#481d6f 18.5px,#453581 30.5px,#3e4a89 47.5px,#3a548c 51.5px,#306a8e 56.5px,#26828e 59.5px,#1f9e88 61.5px,#2ab07f 62.5px,#4ac26d 63.5px,#70ce58 64.5px,#7cd250 65.5px,#60ca60 66.5px,#3cbb75 67.5px,#22a884 68.5px,#1f988b 69.5px,#2b758e 72.5px,#31688e 74.5px,#38578c 78.5px,#3e4a89 83.5px,#404688 86.5px,#443b84 99.5px,#453581 129.5px,#463480 347.5px,#443882 370.5px,#46337f 380.5px)"></div>
<div class="r" style="background:linear-gradient(90deg,#471365 0.5px,#481467 9.5px,#481c6e 18.5px,#463480 30.5px,#414287 42.5px,#3a548c 51.5px,#306a8e 56.5px,#26818e 59.5px,#1e9a8a 61.5px,#24aa83 62.5px,#50c46a 64.5px,#58c666 65.5px,#48c06e 66.5px,#2fb37c 67.5px,#20a386 68.5px,#20948c 69.5px,#24878e 70.5px,#2c748e 72.5px,#33628d 75.5px,#39568c 78.5px,#3e4a89 83.5px,#414287 89.5px,#443a83 101.5px,#453581 129.5px,#463480 305.5px,#463480 345.5px,#443c84 374.5px,#443982 380.5px)"></div>
<div class="r" style="background:linear-gradient(90deg,#471164 0.5px,#48186a 15.5px,#482979 24.5px,#453581 31.5px,#414287 42.5px,#3b518b 50.5px,#33628d 55.5px,#2c748e 58.5px,#24868e 60.5px,#1e9e88 62.5px,#2db27d 64.5px,#30b37c 65.5px,#2aaf80 66.5px,#21a585 67.5px,#1e998a 68.5px,#26828e 70.5px,#2c728e 72.5px,#31668e 74.5px,#39568c 78.5px,#3e4a89 83.5px,#414287 89.5px,#443a83 101.5px,#453581 130.5px,#463480 343.5px,#443a83 366.5px,#424286 376.5px,#424086 380.5px)"></div>
<div class="r" style="background:linear-gradient(90deg,#471164 0.5px,#48186a 15.5px,#481d6f 19.5px,#453581 31.5px,#3e4a89 47.5px,#39568c 52.5px,#34608d 55.5px,#2c708e 58.5px,#1e988a 63.5px,#209e88 65.5px,#20968b 67.5px,#2b748e 71.5px,#30698e 73.5px,#39558c 78.5px,#3f4889 84.5px,#414287 89.5px,#443a83 101.5px,#453581 131.5px,#463480 340.5px,#443b84 366.5px,#3e4a8a 377.5px,#3e4a89 380.5px)"></div>
<div class="r" style="background:linear-gradient(90deg,#471164 0.5px,#481467 10.5px,#481c6e 18.5px,#453581 31.5px,#3e4989 47.5px,#355e8d 55.5px,#2e6c8e 58.5px,#25848e 62.5px,#228d8d 64.5px,#228e8d 65.5px,#24888e 67.5px,#2b758e 70.5px,#365e8d 75.5px,#3a548c 78.5px,#3e4989 83.5px,#443b84 98.5px,#453882 109.5px,#453581 132.5px,#453581 350.5px,#443a83 363.5px,#424086 369.5px,#3a558c 378.5px,#3a548c 380.5px)"></div>
<div class="r" style="background:linear-gradient(90deg,#471164 0.5px,#48186a 16.5px,#463480 31.5px,#3e4a89 48.5px,#39568c 53.5px,#297a8e 62.5px,#27808e 65.5px,#287c8e 67.5px,#32668e 72.5px,#39558c 77.5px,#3e4a89 82.5px,#414287 88.5px,#443983 104.5px,#453581 133.5px,#453581 349.5px,#443a83 362.5px,#424086 368.5px,#3e4c8a 373.5px,#365e8d 377.5px,#34628e 379.5px,#34608d 380.5px)"></div>
<div class="r" style="background:linear-gradient(90deg,#471164 0.5px,#481467 11.5px,#481d6f 20.5px,#482878 25.5px,#453581 32.5px,#3e4989 48.5px,#3a548c 53.5px,#2e6e8e 61.5px,#2b748e 65.5px,#2d708e 68.5px,#39568c 76.5px,#3e4a89 82.5px,#424086 90.5px,#443a83 100.5px,#453581 134.5px,#453581 348.5px,#443983 360.5px,#424186 368.5px,#3e4b8a 372.5px,#3a548c 374.5px,#2e6d8e 378.5px,#2e6f8e 379.5px,#2e6c8e 380.5px)"></div>
<div class="r" style="background:linear-gradient(90deg,#471164 0.5px,#481467 11.5px,#481d6f 20.5px,#453581 32.5px,#3e4a89 49.5px,#30688e 61.5px,#2f6c8e 64.5px,#306a8e 67.5px,#39568c 75.5px,#414287 87.5px,#443b84 97.5px,#453882 109.5px,#453581 137.5px,#453581 346.5px,#443b84 363.5px,#424086 367.5px,#3e4989 371.5px,#3b528b 373.5px,#2a778e 378.5px,#297a8e 379.5px,#2a778e 380.5px)"></div>
<div class="r" style="background:linear-gradient(90deg,#471164 0.5px,#471365 9.5px,#48186a 17.5px,#482979 26.5px,#443983 35.5px,#3e4889 49.5px,#34628d 61.5px,#32668e 65.5px,#34618d 69.5px,#3e4989 81.5px,#414287 87.5px,#443b84 97.5px,#453882 108.5px,#453581 345.5px,#443a83 361.5px,#414287 368.5px,#3b528b 373.5px,#355f8d 375.5px,#297a8e 378.5px,#287e8e 379.5px,#297a8e 380.5px)"></div>
<div class="r" style="background:linear-gradient(90deg,#471164 0.5px,#471365 9.5px,#48186a 17.5px,#481d6f 21.5px,#482878 26.5px,#453581 33.5px,#414287 45.5px,#34608d 64.5px,#365b8c 70.5px,#3e4989 80.5px,#414287 86.5px,#443a83 99.5px,#453882 108.5px,#453581 342.5px,#443983 359.5px,#424286 368.5px,#3c508b 373.5px,#365c8d 375.5px,#2c728e 378.5px,#2b758e 379.5px,#2c728e 380.5px)"></div>
<div class="r" style="background:linear-gradient(90deg,#471164 0.5px,#471365 10.5px,#481a6c 19.5px,#482a7a 27.5px,#443983 36.5px,#3f4888 50.5px,#38588c 61.5px,#365b8c 65.5px,#424286 86.5px,#443b84 96.5px,#453882 108.5px,#453681 339.5px,#443983 359.5px,#424086 368.5px,#3e4a89 372.5px,#32668e 378.5px,#30688e 379.5px,#32668e 380.5px)"></div>
<div class="r" style="background:linear-gradient(90deg,#471064 0.5px,#471365 10.5px,#48186a 18.5px,#481d6f 22.5px,#482878 27.5px,#453581 34.5px,#3c518b 58.5px,#38568c 65.5px,#423f85 89.5px,#443983 102.5px,#453781 116.5px,#453781 351.5px,#443b84 364.5px,#424286 370.5px,#385a8c 378.5px,#38588c 380.5px)"></div>
<div class="r" style="background:linear-gradient(90deg,#471063 0.5px,#471365 11.5px,#48196b 19.5px,#482a7a 28.5px,#453882 36.5px,#3a528b 63.5px,#3c518b 69.5px,#424186 85.5px,#443b84 95.5px,#453781 116.5px,#453781 351.5px,#443b84 365.5px,#424086 371.5px,#3c4e8a 378.5px,#3d4d8a 380.5px)"></div>
<div class="r" style="background:linear-gradient(90deg,#471063 0.5px,#481769 18.5px,#481c6e 22.5px,#453581 35.5px,#3e4c8a 58.5px,#3c508a 64.5px,#3e4c8a 72.5px,#443b84 94.5px,#453781 116.5px,#453781 350.5px,#443a84 368.5px,#404488 377.5px,#414487 380.5px)"></div>
<div class="r" style="background:linear-gradient(90deg,#471063 0.5px,#481467 15.5px,#481d6f 23.5px,#463480 35.5px,#3e4c8a 62.5px,#3e4c8a 68.5px,#443b84 94.5px,#453781 117.5px,#453781 349.5px,#443c84 380.5px)"></div>
<div class="r" style="background:linear-gradient(90deg,#471063 0.5px,#481769 19.5px,#481d6f 24.5px,#482878 29.5px,#453581 36.5px,#404488 53.5px,#3e4a89 62.5px,#3e4889 71.5px,#443b84 93.5px,#453781 117.5px,#443983 317.5px,#463680 380.5px)"></div>
<div class="r" style="background:linear-gradient(90deg,#471063 0.5px,#471164 9.5px,#48186a 21.5px,#482979 30.5px,#453781 38.5px,#3f4888 62.5px,#404688 74.5px,#443a83 95.5px,#453781 118.5px,#443a83 304.5px,#453882 359.5px,#46307e 380.5px)"></div>
<div class="r" style="background:linear-gradient(90deg,#471063 0.5px,#471164 9.5px,#481769 20.5px,#481d6f 25.5px,#472a7a 31.5px,#453882 39.5px,#414487 57.5px,#404688 64.5px,#453882 105.5px,#443a83 314.5px,#453882 356.5px,#472c7a 380.5px)"></div>
<div class="r" style="background:linear-gradient(90deg,#471063 0.5px,#471164 10.5px,#48186a 22.5px,#46307e 35.5px,#453882 40.5px,#404488 63.5px,#443983 98.5px,#453781 121.5px,#443b84 287.5px,#453882 354.5px,#453781 359.5px,#472b7a 372.5px,#482878 380.5px)"></div>
<div class="r" style="background:linear-gradient(90deg,#471063 0.5px,#481467 18.5px,#481c6e 26.5px,#482a7a 32.5px,#453781 40.5px,#414287 62.5px,#453882 104.5px,#453882 239.5px,#443c84 292.5px,#453882 353.5px,#46327e 363.5px,#482a7a 370.5px,#482676 380.5px)"></div>
<div class="r" style="background:linear-gradient(90deg,#471063 0.5px,#471164 11.5px,#481769 22.5px,#481d6f 27.5px,#46307e 36.5px,#453781 41.5px,#424186 63.5px,#453882 104.5px,#453882 234.5px,#433d84 308.5px,#453781 356.5px,#482676 372.5px,#482474 380.5px)"></div>
<div class="r" style="background:linear-gradient(90deg,#471063 0.5px,#481467 19.5px,#481c6e 27.5px,#46307e 37.5px,#453882 43.5px,#424086 64.5px,#453882 104.5px,#453882 227.5px,#433e85 292.5px,#433d84 316.5px,#453781 355.5px,#482476 371.5px,#482173 380.5px)"></div>
<div class="r" style="background:linear-gradient(90deg,#471063 0.5px,#481467 20.5px,#481c6e 28.5px,#46307e 38.5px,#453781 43.5px,#423f85 63.5px,#453882 103.5px,#443983 244.5px,#433e85 281.5px,#433e85 312.5px,#453882 352.5px,#46327e 359.5px,#482476 369.5px,#482071 380.5px)"></div>
<div class="r" style="background:linear-gradient(90deg,#471063 0.5px,#481467 20.5px,#481c6e 29.5px,#482a7a 35.5px,#453781 44.5px,#433e85 62.5px,#453882 103.5px,#453882 136.5px,#443983 239.5px,#423f85 284.5px,#423f85 310.5px,#453781 354.5px,#482576 367.5px,#481f70 380.5px)"></div>
<div class="r" style="background:linear-gradient(90deg,#471063 0.5px,#481467 21.5px,#481c6e 29.5px,#482a7a 36.5px,#453781 45.5px,#433e84 67.5px,#453882 103.5px,#443983 235.5px,#424086 285.5px,#424086 309.5px,#453882 351.5px,#46327e 358.5px,#482677 365.5px,#482173 370.5px,#481d6f 380.5px)"></div>
<div class="r" style="background:linear-gradient(90deg,#470e61 0.5px,#481467 22.5px,#481d6f 31.5px,#46307e 40.5px,#453781 46.5px,#443c84 62.5px,#453882 104.5px,#443b84 166.5px,#443983 232.5px,#424286 306.5px,#453882 351.5px,#46307e 358.5px,#482173 368.5px,#481d6f 380.5px)"></div>
<div class="r" style="background:linear-gradient(90deg,#470e61 0.5px,#481467 23.5px,#481c6e 31.5px,#472a7a 38.5px,#46327e 43.5px,#453882 49.5px,#443a83 56.5px,#453882 117.5px,#443c84 185.5px,#443983 230.5px,#414487 297.5px,#443983 348.5px,#46327e 356.5px,#482173 367.5px,#481c6e 380.5px)"></div>
<div class="r" style="background:linear-gradient(90deg,#470e61 0.5px,#481467 24.5px,#481c6e 32.5px,#472a7a 39.5px,#46327e 44.5px,#443a83 59.5px,#443983 133.5px,#433d84 189.5px,#443983 228.5px,#404688 295.5px,#404488 309.5px,#443a83 346.5px,#463480 354.5px,#482173 366.5px,#481c6e 380.5px)"></div>
<div class="r" style="background:linear-gradient(90deg,#470e61 0.5px,#481467 25.5px,#481e70 34.5px,#472a7a 40.5px,#46327e 45.5px,#443983 56.5px,#443983 128.5px,#433e85 169.5px,#443983 227.5px,#404688 290.5px,#404688 306.5px,#433d84 340.5px,#453781 351.5px,#482173 365.5px,#481c6e 380.5px)"></div>
<div class="r" style="background:linear-gradient(90deg,#470e61 0.5px,#471164 18.5px,#48186a 31.5px,#46307e 44.5px,#453882 54.5px,#443983 123.5px,#423f85 172.5px,#443983 227.5px,#3e4889 292.5px,#3f4888 310.5px,#433d84 341.5px,#453781 351.5px,#482072 365.5px,#481b6d 380.5px)"></div>
<div class="r" style="background:linear-gradient(90deg,#470e61 0.5px,#471164 19.5px,#48186a 32.5px,#46307e 45.5px,#453882 56.5px,#443a83 131.5px,#424086 173.5px,#443983 227.5px,#3e4b8a 293.5px,#3e4b8a 305.5px,#433d84 342.5px,#453581 351.5px,#482071 365.5px,#481b6d 380.5px)"></div>
<div class="r" style="background:linear-gradient(90deg,#470e61 0.5px,#471164 20.5px,#48186a 33.5px,#46317e 47.5px,#453882 58.5px,#443a83 127.5px,#424186 172.5px,#424086 186.5px,#443983 212.5px,#443983 228.5px,#3c4e8a 298.5px,#3e4c8a 309.5px,#433d84 343.5px,#453781 350.5px,#482173 363.5px,#481b6d 380.5px)"></div>
<div class="r" style="background:linear-gradient(90deg,#470e61 0.5px,#471164 21.5px,#48186a 34.5px,#472f7d 47.5px,#453781 56.5px,#443b84 131.5px,#414387 172.5px,#453882 223.5px,#414287 259.5px,#3c508b 295.5px,#3d4e8a 312.5px,#433d84 344.5px,#453581 350.5px,#482071 364.5px,#481b6d 380.5px)"></div>
<div class="r" style="background:linear-gradient(90deg,#470e61 0.5px,#481467 30.5px,#481c6e 38.5px,#46307e 49.5px,#453781 58.5px,#443b84 127.5px,#404688 176.5px,#453882 214.5px,#453882 225.5px,#3a548c 297.5px,#3c4e8a 315.5px,#443b84 345.5px,#453781 349.5px,#482173 362.5px,#481d6f 368.5px,#481b6d 380.5px)"></div>
<div class="r" style="background:linear-gradient(90deg,#470e61 0.5px,#481467 31.5px,#481c6e 39.5px,#46307e 50.5px,#453781 60.5px,#443b84 119.5px,#404788 177.5px,#404688 186.5px,#443a83 207.5px,#453781 223.5px,#414287 254.5px,#38588c 296.5px,#38568c 305.5px,#433e85 343.5px,#482071 363.5px,#481b6d 380.5px)"></div>
<div class="r" style="background:linear-gradient(90deg,#470e61 0.5px,#481467 32.5px,#481c6e 40.5px,#46307e 51.5px,#453781 62.5px,#424186 152.5px,#3e4a89 178.5px,#453882 211.5px,#453581 222.5px,#3e4a89 267.5px,#365c8d 297.5px,#38598c 308.5px,#424086 341.5px,#453882 348.5px,#482677 357.5px,#482071 363.5px,#481b6d 380.5px)"></div>
<div class="r" style="background:linear-gradient(90deg,#470e61 0.5px,#481467 33.5px,#481c6e 42.5px,#46307e 52.5px,#453781 64.5px,#414287 152.5px,#3e4d8a 175.5px,#3e4c8a 181.5px,#463480 216.5px,#453581 225.5px,#3e4a89 264.5px,#34608d 297.5px,#365c8d 309.5px,#424086 341.5px,#453781 348.5px,#482677 357.5px,#482071 363.5px,#481b6d 380.5px)"></div>
<div class="r" style="background:linear-gradient(90deg,#470e61 0.5px,#481467 34.5px,#481c6e 43.5px,#482778 48.5px,#46327e 55.5px,#453581 61.5px,#423e85 106.5px,#423e85 125.5px,#404488 145.5px,#404588 159.5px,#3c508a 174.5px,#3e4c8a 186.5px,#453581 213.5px,#463480 224.5px,#433e85 238.5px,#3e4a89 261.5px,#32668e 298.5px,#32648e 304.5px,#404588 337.5px,#443b84 345.5px,#472a7a 354.5px,#482173 361.5px,#481b6d 380.5px)"></div>
<div class="r" style="background:linear-gradient(90deg,#470e61 0.5px,#481467 35.5px,#481c6e 44.5px,#482878 50.5px,#46327e 57.5px,#453581 63.5px,#443a83 91.5px,#424086 104.5px,#424086 127.5px,#404688 141.5px,#404688 160.5px,#3a548c 174.5px,#3a538c 181.5px,#463480 212.5px,#46317e 221.5px,#433e85 238.5px,#3e4a89 259.5px,#2e6c8e 298.5px,#2f6b8e 303.5px,#404588 338.5px,#443b84 345.5px,#482576 357.5px,#481f70 366.5px,#481b6d 380.5px)"></div>
<div class="r" style="background:linear-gradient(90deg,#470e61 0.5px,#481467 37.5px,#481c6e 45.5px,#472e7c 54.5px,#453581 64.5px,#443983 86.5px,#424286 106.5px,#424086 128.5px,#3f4888 140.5px,#404688 159.5px,#385a8c 175.5px,#38598c 180.5px,#404588 197.5px,#463480 212.5px,#46307e 222.5px,#424086 241.5px,#3a548c 269.5px,#2b748e 299.5px,#2e708e 305.5px,#3a548c 325.5px,#404588 338.5px,#443983 346.5px,#482677 356.5px,#482071 364.5px,#481b6d 380.5px)"></div>
<div class="r" style="background:linear-gradient(90deg,#470e61 0.5px,#481467 38.5px,#481c6e 46.5px,#482a7a 53.5px,#46327e 59.5px,#443b84 91.5px,#404488 106.5px,#424286 129.5px,#3e4c8a 143.5px,#404688 158.5px,#3e4a89 163.5px,#385a8c 170.5px,#34608d 176.5px,#355e8d 180.5px,#404588 198.5px,#46317e 213.5px,#472e7c 222.5px,#433e85 238.5px,#39568c 268.5px,#306a8e 286.5px,#287e8e 299.5px,#287c8e 302.5px,#3a548c 326.5px,#404588 339.5px,#482677 356.5px,#482071 364.5px,#481b6d 380.5px)"></div>
<div class="r" style="background:linear-gradient(90deg,#470e61 0.5px,#481467 39.5px,#481c6e 48.5px,#472b7a 55.5px,#46337f 62.5px,#443b84 90.5px,#3e4888 108.5px,#414287 128.5px,#3c508a 143.5px,#404688 159.5px,#3e4989 162.5px,#34608d 171.5px,#30688e 176.5px,#32648e 180.5px,#3a548c 188.5px,#404588 199.5px,#46307e 213.5px,#472c7a 222.5px,#433e85 238.5px,#404688 250.5px,#39568c 266.5px,#2c728e 289.5px,#24888e 299.5px,#26838e 303.5px,#2c748e 309.5px,#2f6c8e 316.5px,#3a548c 328.5px,#3e4c8a 334.5px,#424086 342.5px,#472a7a 353.5px,#482173 362.5px,#481b6d 380.5px)"></div>
<div class="r" style="background:linear-gradient(90deg,#470d60 0.5px,#481467 40.5px,#48186a 46.5px,#46307e 60.5px,#453781 72.5px,#443b84 89.5px,#3e4d8a 108.5px,#3e4d8a 112.5px,#414387 127.5px,#3f4889 134.5px,#3a548c 141.5px,#3a548c 144.5px,#3e4a89 152.5px,#404688 160.5px,#3d4e8a 164.5px,#306a8e 172.5px,#2d708e 176.5px,#2e6e8e 179.5px,#39568c 189.5px,#3e4c8a 195.5px,#463480 209.5px,#482a7a 220.5px,#472e7c 227.5px,#433d84 237.5px,#414287 244.5px,#3e4a89 254.5px,#2c728e 286.5px,#287c8e 291.5px,#218f8c 296.5px,#20968b 299.5px,#20928c 302.5px,#2a7a8e 309.5px,#2e6e8e 318.5px,#3a548c 329.5px,#414487 340.5px,#46307e 349.5px,#482576 357.5px,#481b6d 380.5px)"></div>
<div class="r" style="background:linear-gradient(90deg,#470d60 0.5px,#481467 42.5px,#481c6e 50.5px,#482a7a 57.5px,#46307e 62.5px,#453781 73.5px,#443b84 88.5px,#424286 96.5px,#3c4e8a 104.5px,#3a528c 109.5px,#414387 127.5px,#3e4a89 134.5px,#375a8c 140.5px,#365e8d 143.5px,#3e4a89 153.5px,#404588 160.5px,#3e4a89 163.5px,#2d708e 172.5px,#287c8e 176.5px,#297a8e 178.5px,#32658e 184.5px,#375a8c 188.5px,#404588 200.5px,#453581 208.5px,#482a7a 216.5px,#472a7a 224.5px,#424086 241.5px,#404688 251.5px,#365c8d 266.5px,#287a8e 288.5px,#24868e 292.5px,#20958c 295.5px,#20a187 297.5px,#23a884 299.5px,#22a686 301.5px,#1f9c8a 303.5px,#24868e 307.5px,#287c8e 310.5px,#297a8e 316.5px,#32648e 323.5px,#39568c 329.5px,#404588 339.5px,#46307e 349.5px,#482677 356.5px,#482173 363.5px,#481b6d 380.5px)"></div>
<div class="r" style="background:linear-gradient(90deg,#470d60 0.5px,#471164 34.5px,#48186a 48.5px,#46307e 63.5px,#453781 74.5px,#443b84 88.5px,#414287 95.5px,#385a8c 109.5px,#38578c 113.5px,#3e4989 121.5px,#414287 128.5px,#3f4788 132.5px,#3c4e8a 135.5px,#32648e 140.5px,#30698e 142.5px,#32668e 144.5px,#3a528b 149.5px,#3f4889 155.5px,#414387 160.5px,#3e4a89 163.5px,#30688e 169.5px,#26828e 174.5px,#24888e 176.5px,#24868e 178.5px,#2e6d8e 183.5px,#34608d 187.5px,#404688 200.5px,#472a7a 214.5px,#482677 219.5px,#482778 222.5px,#424086 241.5px,#424286 249.5px,#365c8d 264.5px,#306b8e 275.5px,#2a788e 282.5px,#277f8e 288.5px,#24888e 291.5px,#20a088 295.5px,#24aa83 296.5px,#3ebc74 299.5px,#3fbc73 300.5px,#38b877 301.5px,#24aa83 303.5px,#1e988a 305.5px,#228c8d 307.5px,#26828e 310.5px,#26808e 312.5px,#25848e 315.5px,#26828e 317.5px,#306b8e 322.5px,#34608d 325.5px,#3a548c 330.5px,#404588 339.5px,#472f7d 349.5px,#482677 356.5px,#481b6d 380.5px)"></div>
<div class="r" style="background:linear-gradient(90deg,#470d60 0.5px,#481467 45.5px,#481c6e 53.5px,#482a7a 60.5px,#46327e 66.5px,#443b84 88.5px,#424086 93.5px,#3e4a89 99.5px,#355e8d 107.5px,#34618d 110.5px,#424186 126.5px,#424186 129.5px,#3f4788 132.5px,#3a548c 136.5px,#2c748e 141.5px,#2a778e 142.5px,#2c728e 144.5px,#365e8d 147.5px,#3b528b 150.5px,#424286 160.5px,#3e4889 163.5px,#32648e 168.5px,#228b8e 174.5px,#20948c 176.5px,#20908c 178.5px,#2a768e 182.5px,#34618d 187.5px,#38598c 193.5px,#3e4c8a 198.5px,#424186 202.5px,#482979 214.5px,#482676 217.5px,#482677 223.5px,#443983 235.5px,#423f85 240.5px,#423e85 248.5px,#424286 251.5px,#3d4d8a 255.5px,#30688e 268.5px,#2c728e 277.5px,#26808e 283.5px,#25848e 289.5px,#228c8d 291.5px,#1fa088 294.5px,#24aa82 295.5px,#32b67a 296.5px,#5ec962 298.5px,#6dce58 299.5px,#70ce58 300.5px,#60ca61 301.5px,#32b67a 303.5px,#24aa82 304.5px,#1fa088 305.5px,#20918c 307.5px,#24858e 310.5px,#24868e 312.5px,#20938c 316.5px,#20908c 317.5px,#2c748e 321.5px,#33628d 325.5px,#39568c 330.5px,#404588 339.5px,#46307e 348.5px,#482173 363.5px,#481b6d 380.5px)"></div>
<div class="r" style="background:linear-gradient(90deg,#470d60 0.5px,#471164 37.5px,#48186a 51.5px,#46307e 66.5px,#443a83 86.5px,#414287 94.5px,#3e4a89 98.5px,#34628d 106.5px,#30688e 109.5px,#32658e 112.5px,#424286 125.5px,#423e85 128.5px,#424186 130.5px,#39568c 136.5px,#32648e 138.5px,#26828e 141.5px,#24868e 142.5px,#24858e 143.5px,#34628d 147.5px,#39568c 149.5px,#424186 158.5px,#424086 160.5px,#414387 162.5px,#3a528b 165.5px,#2c718e 170.5px,#24878e 173.5px,#1f968b 175.5px,#1f9a8a 176.5px,#1f9a8a 177.5px,#1f958b 178.5px,#2c718e 183.5px,#33628d 187.5px,#365e8d 193.5px,#424186 202.5px,#472f7d 210.5px,#482676 216.5px,#482576 223.5px,#453581 233.5px,#423f85 240.5px,#443c84 248.5px,#433e84 250.5px,#3d4d8a 255.5px,#2e6e8e 269.5px,#2c728e 276.5px,#24868e 282.5px,#25848e 288.5px,#228a8d 290.5px,#1e9c8a 293.5px,#20a586 294.5px,#2ab07e 295.5px,#40bd72 296.5px,#7fd24e 298.5px,#96d83f 299.5px,#96d83f 300.5px,#81d44c 301.5px,#40bd72 303.5px,#2ab07e 304.5px,#20a586 305.5px,#1e9c8a 306.5px,#218e8d 308.5px,#24888e 311.5px,#228e8d 313.5px,#1e9e89 315.5px,#20a286 316.5px,#1ea088 317.5px,#228a8e 319.5px,#2a788e 321.5px,#31688e 324.5px,#39568c 330.5px,#3f4889 337.5px,#46307e 348.5px,#482173 363.5px,#481b6d 380.5px)"></div>
<div class="r" style="background:linear-gradient(90deg,#470d60 0.5px,#471164 38.5px,#48186a 53.5px,#482878 62.5px,#46317e 68.5px,#443a83 86.5px,#414287 94.5px,#3e4a89 98.5px,#32668e 106.5px,#2e6c8e 109.5px,#30688e 112.5px,#424086 125.5px,#443c84 128.5px,#414387 131.5px,#3b528b 135.5px,#31668e 138.5px,#24878e 141.5px,#218e8d 142.5px,#228c8d 143.5px,#33638d 147.5px,#38578c 149.5px,#414287 157.5px,#423f85 161.5px,#3e4b8a 164.5px,#32648e 168.5px,#228b8e 174.5px,#20948c 176.5px,#20948c 177.5px,#20908c 178.5px,#2a768e 182.5px,#32648e 186.5px,#34608d 188.5px,#34628d 193.5px,#424186 202.5px,#482979 213.5px,#482475 217.5px,#482576 224.5px,#423f85 240.5px,#443a83 249.5px,#3a548c 258.5px,#365e8d 262.5px,#2c718e 268.5px,#2c748e 276.5px,#228a8d 282.5px,#24868e 288.5px,#21908c 291.5px,#1e9d89 293.5px,#21a685 294.5px,#2bb07e 295.5px,#40bd72 296.5px,#81d44c 298.5px,#96d83f 299.5px,#96d83f 300.5px,#81d44c 301.5px,#62ca60 302.5px,#42be71 303.5px,#2cb27e 304.5px,#21a685 305.5px,#1e9c89 306.5px,#228c8d 309.5px,#23898e 311.5px,#21908d 313.5px,#1fa088 315.5px,#22a685 316.5px,#20a386 317.5px,#1f998a 318.5px,#29798e 321.5px,#31688e 324.5px,#39568c 330.5px,#3f4889 337.5px,#472f7d 348.5px,#482173 363.5px,#481b6d 380.5px)"></div>
</div>
<svg width="520" height="810" viewBox="0 0 520 810">
<g stroke="#000" stroke-width="1.5" fill="none">
<rect x="81" y="9.5" width="373" height="351"/>
<path d="M81 59.6h6"/>
<path d="M81 109.8h6"/>
<path d="M81 159.9h6"/>
<path d="M81 210.1h6"/>
<path d="M81 260.2h6"/>
<path d="M81 310.4h6"/>
<path d="M155.6 360.5v-6"/>
<path d="M230.2 360.5v-6"/>
<path d="M304.8 360.5v-6"/>
<path d="M379.4 360.5v-6"/>
</g>
<g class="tk" text-anchor="end">
<text x="73.5" y="16.5">0.60</text>
<text x="73.5" y="68.1">0.55</text>
<text x="73.5" y="118.3">0.50</text>
<text x="73.5" y="168.4">0.45</text>
<text x="73.5" y="218.6">0.40</text>
<text x="73.5" y="268.7">0.35</text>
<text x="73.5" y="318.9">0.30</text>
<text x="73.5" y="370">0.25</text>
</g>
<g class="tk" text-anchor="middle">
<text x="79.8" y="383.5">0</text>
<text x="154.4" y="383.5">0.1</text>
<text x="229" y="383.5">0.2</text>
<text x="303.6" y="383.5">0.3</text>
<text x="378.2" y="383.5">0.4</text>
<text x="451.3" y="383.5">0.5</text>
</g>
<defs><linearGradient id="vir" x1="0" y1="1" x2="0" y2="0">
<stop offset="0" stop-color="#440154"/>
<stop offset="0.05" stop-color="#471365"/>
<stop offset="0.1" stop-color="#482475"/>
<stop offset="0.15" stop-color="#463480"/>
<stop offset="0.2" stop-color="#414487"/>
<stop offset="0.25" stop-color="#3b528b"/>
<stop offset="0.3" stop-color="#355f8d"/>
<stop offset="0.35" stop-color="#2f6c8e"/>
<stop offset="0.4" stop-color="#2a788e"/>
<stop offset="0.45" stop-color="#25848e"/>
<stop offset="0.5" stop-color="#21918c"/>
<stop offset="0.55" stop-color="#1e9c89"/>
<stop offset="0.6" stop-color="#22a884"/>
<stop offset="0.65" stop-color="#2fb47c"/>
<stop offset="0.7" stop-color="#44bf70"/>
<stop offset="0.75" stop-color="#5ec962"/>
<stop offset="0.8" stop-color="#7ad151"/>
<stop offset="0.85" stop-color="#9bd93c"/>
<stop offset="0.9" stop-color="#bddf26"/>
<stop offset="0.95" stop-color="#dfe318"/>
<stop offset="1" stop-color="#fde725"/>
</linearGradient></defs>
<rect x="466" y="9.5" width="11.3" height="351" fill="url(#vir)" stroke="#000" stroke-width="1.5"/>
<g stroke="#000" stroke-width="1.5">
<path d="M477.3 360.5h5.5"/>
<path d="M477.3 290.3h5.5"/>
<path d="M477.3 220.1h5.5"/>
<path d="M477.3 149.9h5.5"/>
<path d="M477.3 79.7h5.5"/>
<path d="M477.3 9.5h5.5"/>
</g>
<g class="tk">
<text x="488.5" y="367.5">0.0</text>
<text x="488.5" y="297.3">0.2</text>
<text x="488.5" y="227.1">0.4</text>
<text x="488.5" y="156.9">0.6</text>
<text x="488.5" y="86.7">0.8</text>
<text x="488.5" y="16.5">1.0</text>
</g>
<rect x="97" y="18" width="44" height="37.5" fill="#fff"/>
<text x="118.5" y="44.5" text-anchor="middle" font-size="27" class="ar">(a)</text>
<text transform="translate(20.5 256) rotate(-90)" class="ar" font-size="23.5">Frequency</text>
<text transform="translate(23 136.5) rotate(-90)" class="mi" font-size="23" fill="#333" letter-spacing="1.8"><tspan class="mr">(</tspan>c<tspan class="mr">/</tspan>a<tspan class="mr">)</tspan></text>
<text x="226" y="413" class="mi" font-size="23" fill="#111" letter-spacing="1.7">k<tspan dy="4" font-size="16">x</tspan><tspan dy="-4" class="mr"> (2</tspan>π<tspan class="mr">/</tspan>a<tspan class="mr">)</tspan></text>
<text x="119" y="213" fill="#fff" font-size="24" class="hs">A</text>
<path d="M115.5 207.5L85 228.6" stroke="#fff" stroke-width="1" fill="none"/>
<path d="M83 229.6l5.5-1l-2-3.2z" fill="#fff"/>
<text x="95.5" y="310" fill="#7f6e18" font-size="21.5" class="hs">Fabry-Pérot</text>
<rect x="80.5" y="425.2" width="380.3" height="161" fill="none" stroke="#000" stroke-width="1"/>
<g stroke="#fff" stroke-width="1.5">
<path d="M81.5 553.8h5"/>
<path d="M81.5 521.6h5"/>
<path d="M81.5 489.4h5"/>
<path d="M81.5 457.2h5"/>
<path d="M135.7 585v-5"/>
<path d="M189.9 585v-5"/>
<path d="M244.1 585v-5"/>
<path d="M298.4 585v-5"/>
<path d="M352.6 585v-5"/>
<path d="M406.8 585v-5"/>
</g>
<g class="tk" text-anchor="end">
<text x="74.5" y="435">0.10</text>
<text x="74.5" y="464.5">0.08</text>
<text x="74.5" y="496.5">0.06</text>
<text x="74.5" y="528.5">0.04</text>
<text x="74.5" y="563.5">0.02</text>
<text x="74.5" y="585.5">0.00</text>
</g>
<rect x="466" y="425.5" width="10.7" height="160" fill="url(#vir)" stroke="#000" stroke-width="1.5"/>
<g stroke="#000" stroke-width="1.5">
<path d="M476.7 585.5h5"/>
<path d="M476.7 553.5h3.5"/>
<path d="M476.7 521.5h3.5"/>
<path d="M476.7 489.5h3.5"/>
<path d="M476.7 457.5h3.5"/>
<path d="M476.7 425.5h5"/>
</g>
<g class="tk">
<text x="485" y="592.5">0.0</text>
<text x="485" y="560.5">0.2</text>
<text x="485" y="528.5">0.4</text>
<text x="485" y="496.5">0.6</text>
<text x="485" y="464.5">0.8</text>
<text x="485" y="432.5">1.0</text>
</g>
<text x="101" y="458.5" fill="#fff" font-size="25" letter-spacing="1.6" class="hs">(b)</text>
<text x="214" y="543" fill="#fff" font-size="24" class="hs">A</text>
<path d="M222.6 550V572" stroke="#fff" stroke-width="1" fill="none"/>
<path d="M222.6 576l-2.2-5.5h4.4z" fill="#fff"/>
<text transform="translate(25 565) rotate(-90)" class="mi" font-size="23" fill="#111" letter-spacing="2.3">ℑ<tspan class="mr">(</tspan>f<tspan class="mr">) (</tspan>c<tspan class="mr">/</tspan>a<tspan class="mr">)</tspan></text>
<g stroke="#000" stroke-width="1.5" fill="none">
<rect x="81.5" y="587" width="379.5" height="165.5"/>
<path d="M81.5 719.4h5.5"/>
<path d="M81.5 686.3h5.5"/>
<path d="M81.5 653.2h5.5"/>
<path d="M81.5 620.1h5.5"/>
<path d="M135.7 752.5v-5.5"/>
<path d="M189.9 752.5v-5.5"/>
<path d="M244.1 752.5v-5.5"/>
<path d="M298.4 752.5v-5.5"/>
<path d="M352.6 752.5v-5.5"/>
<path d="M406.8 752.5v-5.5"/>
</g>
<g class="tk" text-anchor="end">
<text x="73" y="760">0.0</text>
<text x="73" y="726.9">0.2</text>
<text x="73" y="693.8">0.4</text>
<text x="73" y="660.7">0.6</text>
<text x="73" y="627.6">0.8</text>
<text x="73" y="604">1.0</text>
</g>
<g class="tk" text-anchor="middle">
<text x="80.5" y="777.5">0.25</text>
<text x="134.7" y="777.5">0.30</text>
<text x="188.9" y="777.5">0.35</text>
<text x="243.1" y="777.5">0.40</text>
<text x="297.4" y="777.5">0.45</text>
<text x="351.6" y="777.5">0.50</text>
<text x="405.8" y="777.5">0.55</text>
<text x="460" y="777.5">0.60</text>
</g>
<text x="111.5" y="684" font-size="26.5" class="ar">(c)</text>
<text transform="translate(31.7 770.5) rotate(-90)" class="ar" font-size="22.9">Reflection (norm.)</text>
<text x="207" y="798" class="mi" font-size="23" fill="#111" letter-spacing="1.9">ℜ<tspan class="mr">(</tspan>f<tspan class="mr">) (</tspan>c<tspan class="mr">/</tspan>a<tspan class="mr">)</tspan></text>
<clipPath id="cc"><rect x="81.5" y="587" width="379.5" height="165.5"/></clipPath><path clip-path="url(#cc)" d="M81.5 653.5 88.6 642.9 95.8 632.4 103.0 621.8 110.1 611.1 114.8 605.1 122.0 597.9 126.1 594.6 130.4 592.1 137.6 589.3 140.1 588.6 142.6 588.3 145.1 588.2 147.7 588.6 152.7 590.1 157.3 592.1 159.3 593.3 163.0 596.7 171.3 607.0 178.9 617.2 186.1 627.7 193.7 638.1 198.4 644.2 203.9 649.9 206.0 651.7 208.1 653.0 210.3 653.2 212.8 652.2 214.9 650.6 216.0 648.8 216.9 646.5 218.3 641.1 219.7 628.5 220.6 615.7 221.2 602.9 222.2 589.4 222.6 588.3 223.4 601.4 223.7 614.1 223.9 626.9 224.1 639.6 224.2 652.4 224.3 665.1 224.3 677.9 224.4 690.6 224.5 703.6 224.6 716.2 224.7 729.7 224.8 741.8 225.1 751.5 225.7 736.4 226.7 723.6 228.0 715.9 229.4 710.9 230.4 708.7 231.8 706.7 233.9 704.7 236.2 703.7 238.5 704.1 240.9 705.2 243.3 706.6 245.2 708.0 246.9 709.8 248.6 711.9 250.0 714.2 251.2 716.6 252.6 721.3 254.8 734.0 255.8 746.2 256.4 752.5 256.6 738.8 256.7 726.1 256.7 712.7 256.8 698.1 256.9 685.4 256.9 672.6 257.0 659.9 257.0 647.1 257.1 634.4 257.2 621.6 257.4 606.4 257.6 594.0 258.0 588.7 258.5 602.8 259.0 615.9 259.6 628.7 260.4 641.4 261.5 654.1 262.9 666.7 265.5 679.3 267.7 686.8 268.6 689.3 269.7 691.4 271.1 693.2 272.9 694.9 275.1 696.5 279.9 698.9 287.0 701.5 292.1 702.7 294.6 703.0 307.4 703.0 315.0 702.8 327.6 700.9 340.1 698.1 347.6 695.8 352.9 694.0 354.6 693.7 355.7 695.7 356.5 698.7 357.3 711.4 357.6 725.9 357.8 739.2 357.9 751.3 358.0 752.3 358.1 738.3 358.2 725.5 358.2 712.1 358.3 697.6 358.4 683.2 358.4 670.3 358.5 656.9 358.5 643.3 358.6 630.2 358.6 618.0 358.7 604.8 358.8 592.0 359.0 589.8 359.1 602.8 359.3 616.0 359.6 629.1 359.9 641.9 360.4 655.4 361.0 668.1 361.5 671.9 361.9 672.5 363.2 670.9 364.8 668.4 366.8 663.8 370.3 651.5 372.8 638.9 374.6 626.3 376.0 613.7 377.0 600.9 378.0 590.0 378.4 588.2 378.9 592.0 379.5 605.9 379.9 618.7 380.1 631.4 380.3 644.2 380.5 656.9 380.7 669.7 380.9 682.4 381.1 695.5 381.2 708.2 381.3 721.7 381.4 734.5 381.7 747.1 382.2 752.9 382.4 752.7 385.5 742.5 387.7 736.9 388.8 735.5 389.9 736.7 391.0 739.5 392.4 744.9 394.1 752.8 394.3 752.8 394.8 739.7 394.9 726.4 395.1 712.9 395.3 700.1 395.4 687.4 395.6 674.6 395.7 661.9 395.9 649.1 396.1 636.4 396.2 623.6 396.4 610.9 396.8 597.9 397.3 588.2 398.4 601.1 399.5 613.8 401.4 626.7 402.7 631.5 403.5 633.9 404.9 636.7 406.5 638.9 408.1 639.3 409.8 638.1 416.3 629.1 422.9 618.2 430.2 607.7 438.6 598.0 442.3 594.3 444.3 592.8 448.6 590.3 451.0 589.2 453.5 588.4 456.0 588.2 458.5 588.5 461.0 589.2" fill="none" stroke="#1f77b4" stroke-width="3.2" stroke-linejoin="round" stroke-linecap="round"/>
<g fill="none" stroke="#000" stroke-width="1.6">
<rect x="385.8" y="207.8" width="49.6" height="50.6"/>
<path d="M410.4 207.8v50.6M385.8 233h49.6"/>
</g>
<path d="M411.2 233h24.3" stroke="#e8141c" stroke-width="3" fill="none"/>
<g class="sr" font-size="19.5" fill="#000">
<text x="438.2" y="207.3">M</text>
<text x="437.5" y="240.5">X</text>
<text x="396.8" y="249.8">Γ</text>
</g>
<g transform="translate(300 250) scale(0.3)">
<defs><linearGradient id="sf" x1="0" y1="0" x2="1" y2="0"><stop offset="0" stop-color="#d3e2ec"/><stop offset="1" stop-color="#a3bfd2"/></linearGradient><linearGradient id="st" x1="0" y1="0" x2="1" y2="1"><stop offset="0" stop-color="#9bbad0"/><stop offset="1" stop-color="#85a8c2"/></linearGradient>
<clipPath id="tp"><path d="M28,208 L215,42 L497,100 L390,330Z"/></clipPath>
<clipPath id="hc"><ellipse cx="267" cy="121" rx="39" ry="24" transform="rotate(-8 267 121)"/><ellipse cx="398" cy="155" rx="40" ry="25" transform="rotate(-8 398 155)"/><ellipse cx="193" cy="199" rx="40" ry="25" transform="rotate(-8 193 199)"/><ellipse cx="339" cy="245" rx="42" ry="27" transform="rotate(-8 339 245)"/><ellipse cx="112" cy="132" rx="34" ry="24" transform="rotate(-8 112 132)"/><ellipse cx="216" cy="58" rx="36" ry="24" transform="rotate(-8 216 58)"/><ellipse cx="330" cy="66" rx="38" ry="26" transform="rotate(-8 330 66)"/><ellipse cx="478" cy="96" rx="36" ry="22" transform="rotate(-8 478 96)"/></clipPath></defs>
<path d="M28,207 L390,329 L386,358 L30,236Z" fill="url(#sf)"/>
<path d="M390,329 L497,100 L497,138 L386,360Z" fill="#7da1bc"/>
<path d="M28,208 L215,42 L497,100 L390,330Z" fill="url(#st)"/>
<g clip-path="url(#tp)"><g clip-path="url(#hc)"><rect x="0" y="0" width="520" height="380" fill="#5f8eb3"/><path d="M271,126 l60,-40 v90 h-60z" fill="#a6c4d9"/><path d="M402,160 l60,-40 v90 h-60z" fill="#a6c4d9"/><path d="M197,204 l60,-40 v90 h-60z" fill="#a6c4d9"/><path d="M343,250 l60,-40 v90 h-60z" fill="#a6c4d9"/>
<ellipse cx="275" cy="151" rx="35.88" ry="24" transform="rotate(-8 275 151)" fill="#fff"/>
<ellipse cx="406" cy="185" rx="36.8" ry="25" transform="rotate(-8 406 185)" fill="#fff"/>
<ellipse cx="201" cy="229" rx="36.8" ry="25" transform="rotate(-8 201 229)" fill="#fff"/>
<ellipse cx="347" cy="275" rx="38.64" ry="27" transform="rotate(-8 347 275)" fill="#fff"/>
<ellipse cx="112" cy="132" rx="36" ry="26" transform="rotate(-8 112 132)" fill="#b5ccdd"/>
<ellipse cx="113" cy="121" rx="34" ry="24" transform="rotate(-8 113 121)" fill="#fff"/>
<ellipse cx="216" cy="58" rx="38" ry="26" transform="rotate(-8 216 58)" fill="#b5ccdd"/>
<ellipse cx="217" cy="47" rx="36" ry="24" transform="rotate(-8 217 47)" fill="#fff"/>
<ellipse cx="330" cy="66" rx="40" ry="28" transform="rotate(-8 330 66)" fill="#b5ccdd"/>
<ellipse cx="331" cy="55" rx="38" ry="26" transform="rotate(-8 331 55)" fill="#fff"/>
<ellipse cx="478" cy="96" rx="38" ry="24" transform="rotate(-8 478 96)" fill="#b5ccdd"/>
<ellipse cx="479" cy="85" rx="36" ry="22" transform="rotate(-8 479 85)" fill="#fff"/>
</g></g>
<g stroke="#000" stroke-width="4.5" fill="#000">
<path d="M262,121 L200,191" fill="none"/>
<circle cx="266" cy="117" r="7.5" stroke="none"/><circle cx="194" cy="197" r="7.5" stroke="none"/>
<path d="M246,126 l16,-6 l-2,17z M213,188 l-16,6 l2,-17z" stroke-width="2"/>
<path d="M340,240 H380" fill="none"/><circle cx="341" cy="240" r="7.5" stroke="none"/><path d="M390,240 l-13,-6.5 v13z" stroke-width="1"/>
<path d="M237,280 V300" fill="none" stroke-width="4"/><path d="M237,270 l-6,11 h12z M237,309 l-6,-11 h12z" stroke-width="1"/>
</g>
<g class="mi" font-size="66" fill="#111"><text x="240" y="186">a</text><text x="352" y="226">r</text><text x="178" y="312">d</text></g>
</g>
</svg>
</div>
</body></html>
